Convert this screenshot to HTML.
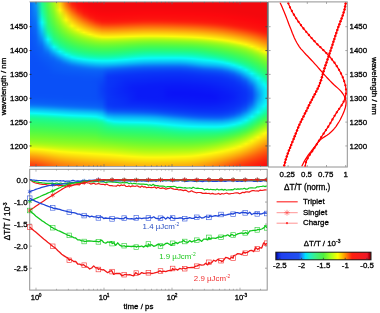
<!DOCTYPE html>
<html><head><meta charset="utf-8"><title>figure</title>
<style>
html,body{margin:0;padding:0;background:#fff}
body{width:380px;height:313px;position:relative;overflow:hidden;font-family:"Liberation Sans",sans-serif}
#hm{position:absolute;left:30px;top:2px;width:237px;height:164px}
#hm i{display:block;height:1px;width:237px}
#cb{position:absolute;left:276px;top:252px;width:95px;height:8px;background:linear-gradient(90deg,#000090 0%,#1030e0 3%,#2040f0 6%,#2050f0 24%,#10a0ff 28%,#00e0ff 31%,#20f0c0 36%,#40f080 42%,#50f040 50%,#a0ff20 57%,#ffff00 65%,#ff9000 73%,#ff2010 80%,#f01828 96%,#b00010 98%,#800000 100%)}
svg{position:absolute;left:0;top:0}
text{font-family:"Liberation Sans",sans-serif}
</style></head><body>
<div id="hm"><i style="background:linear-gradient(90deg,#0a64f7 0px,#0a9cf7 6px,#1cfa91 12px,#52fa46 18px,#a0fa1b 24px,#fcd60d 30px,#fc6b0d 36px,#fc1e0d 42px,#fc0c0d 48px,#f7080d 54px,#f3080d 60px,#f3080d 66px,#f3080d 72px,#f3080d 78px,#f3080d 84px,#f3080d 90px,#f3080d 96px,#f3080d 102px,#f3080d 108px,#f3080d 114px,#f3080d 120px,#f3080d 126px,#f3080d 132px,#f3080d 138px,#f3080d 144px,#f3080d 150px,#f3080d 156px,#f3080d 162px,#f3080d 168px,#f3080d 174px,#f3080d 180px,#f3080d 186px,#f3080d 192px,#f3080d 198px,#f3080d 204px,#f3080d 210px,#f3080d 216px,#f3080d 222px,#f3080d 228px,#f3080d 234px,#f3080d 236px)"></i><i style="background:linear-gradient(90deg,#0a64f7 0px,#0a9af7 6px,#1cfa92 12px,#52fa46 18px,#9ffa1c 24px,#fcd80d 30px,#fc6f0d 36px,#fc210d 42px,#fc0d0d 48px,#f8080d 54px,#f3080d 60px,#f3080d 66px,#f3080d 72px,#f3080d 78px,#f3080d 84px,#f3080d 90px,#f3080d 96px,#f3080d 102px,#f3080d 108px,#f3080d 114px,#f3080d 120px,#f3080d 126px,#f3080d 132px,#f3080d 138px,#f3080d 144px,#f3080d 150px,#f3080d 156px,#f3080d 162px,#f3080d 168px,#f3080d 174px,#f3080d 180px,#f3080d 186px,#f3080d 192px,#f3080d 198px,#f3080d 204px,#f3080d 210px,#f3080d 216px,#f3080d 222px,#f3080d 228px,#f3080d 234px,#f3080d 236px)"></i><i style="background:linear-gradient(90deg,#0a64f7 0px,#0a98f7 6px,#1bfa93 12px,#51fa47 18px,#9dfa1c 24px,#fcdb0d 30px,#fc740d 36px,#fc250d 42px,#fc0e0d 48px,#fa080d 54px,#f4080d 60px,#f3080d 66px,#f3080d 72px,#f3080d 78px,#f3080d 84px,#f3080d 90px,#f3080d 96px,#f3080d 102px,#f3080d 108px,#f3080d 114px,#f3080d 120px,#f3080d 126px,#f3080d 132px,#f3080d 138px,#f3080d 144px,#f3080d 150px,#f3080d 156px,#f3080d 162px,#f3080d 168px,#f3080d 174px,#f3080d 180px,#f3080d 186px,#f3080d 192px,#f3080d 198px,#f3080d 204px,#f3080d 210px,#f3080d 216px,#f3080d 222px,#f3080d 228px,#f3080d 234px,#f3080d 236px)"></i><i style="background:linear-gradient(90deg,#0a64f7 0px,#0a96f7 6px,#1bfa95 12px,#50fa47 18px,#9bfa1d 24px,#fcdf0d 30px,#fc7a0d 36px,#fc2b0d 42px,#fc100d 48px,#fb080d 54px,#f5080d 60px,#f3080d 66px,#f3080d 72px,#f3080d 78px,#f3080d 84px,#f3080d 90px,#f3080d 96px,#f3080d 102px,#f3080d 108px,#f3080d 114px,#f3080d 120px,#f3080d 126px,#f3080d 132px,#f3080d 138px,#f3080d 144px,#f3080d 150px,#f3080d 156px,#f3080d 162px,#f3080d 168px,#f3080d 174px,#f3080d 180px,#f3080d 186px,#f3080d 192px,#f3080d 198px,#f3080d 204px,#f3080d 210px,#f3080d 216px,#f3080d 222px,#f3080d 228px,#f3080d 234px,#f3080d 236px)"></i><i style="background:linear-gradient(90deg,#0a64f7 0px,#0a94f7 6px,#1afa97 12px,#4ffa49 18px,#99fa1e 24px,#fce50d 30px,#fc820d 36px,#fc330d 42px,#fc120d 48px,#fc080d 54px,#f6080d 60px,#f3080d 66px,#f3080d 72px,#f3080d 78px,#f3080d 84px,#f3080d 90px,#f3080d 96px,#f3080d 102px,#f3080d 108px,#f3080d 114px,#f3080d 120px,#f3080d 126px,#f3080d 132px,#f3080d 138px,#f3080d 144px,#f3080d 150px,#f3080d 156px,#f3080d 162px,#f3080d 168px,#f3080d 174px,#f3080d 180px,#f3080d 186px,#f3080d 192px,#f3080d 198px,#f3080d 204px,#f3080d 210px,#f3080d 216px,#f3080d 222px,#f3080d 228px,#f3080d 234px,#f3080d 236px)"></i><i style="background:linear-gradient(90deg,#0a64f7 0px,#0a91f7 6px,#19fa99 12px,#4dfa4a 18px,#95fa1f 24px,#fcea0d 30px,#fc8b0d 36px,#fc3c0d 42px,#fc150d 48px,#fc0a0d 54px,#f7080d 60px,#f4080d 66px,#f3080d 72px,#f3080d 78px,#f3080d 84px,#f3080d 90px,#f3080d 96px,#f4080d 102px,#f4080d 108px,#f4080d 114px,#f4080d 120px,#f4080d 126px,#f4080d 132px,#f4080d 138px,#f4080d 144px,#f4080d 150px,#f4080d 156px,#f4080d 162px,#f3080d 168px,#f3080d 174px,#f3080d 180px,#f3080d 186px,#f3080d 192px,#f3080d 198px,#f3080d 204px,#f3080d 210px,#f3080d 216px,#f3080d 222px,#f3080d 228px,#f3080d 234px,#f3080d 236px)"></i><i style="background:linear-gradient(90deg,#0a64f7 0px,#0a8ff7 6px,#18fa9d 12px,#4cfa4b 18px,#92fa20 24px,#fcf00d 30px,#fc950d 36px,#fc470d 42px,#fc190d 48px,#fc0c0d 54px,#f9080d 60px,#f5080d 66px,#f4080d 72px,#f4080d 78px,#f4080d 84px,#f4080d 90px,#f4080d 96px,#f5080d 102px,#f5080d 108px,#f5080d 114px,#f5080d 120px,#f5080d 126px,#f5080d 132px,#f5080d 138px,#f5080d 144px,#f5080d 150px,#f4080d 156px,#f4080d 162px,#f4080d 168px,#f4080d 174px,#f4080d 180px,#f3080d 186px,#f3080d 192px,#f3080d 198px,#f3080d 204px,#f3080d 210px,#f3080d 216px,#f3080d 222px,#f3080d 228px,#f3080d 234px,#f3080d 236px)"></i><i style="background:linear-gradient(90deg,#0a64f7 0px,#0a8df7 6px,#17faa0 12px,#4afa4d 18px,#8efa22 24px,#fcf70d 30px,#fc9f0d 36px,#fc520d 42px,#fc1f0d 48px,#fc0e0d 54px,#fb080d 60px,#f6080d 66px,#f5080d 72px,#f4080d 78px,#f4080d 84px,#f5080d 90px,#f5080d 96px,#f6080d 102px,#f6080d 108px,#f6080d 114px,#f7080d 120px,#f7080d 126px,#f7080d 132px,#f6080d 138px,#f6080d 144px,#f6080d 150px,#f6080d 156px,#f5080d 162px,#f5080d 168px,#f5080d 174px,#f4080d 180px,#f4080d 186px,#f4080d 192px,#f3080d 198px,#f3080d 204px,#f3080d 210px,#f3080d 216px,#f3080d 222px,#f3080d 228px,#f3080d 234px,#f3080d 236px)"></i><i style="background:linear-gradient(90deg,#0a64f7 0px,#0a8bf7 6px,#15faa4 12px,#48fa4f 18px,#8afa23 24px,#f7fa0d 30px,#fca90d 36px,#fc5d0d 42px,#fc260d 48px,#fc100d 54px,#fc080d 60px,#f8080d 66px,#f6080d 72px,#f5080d 78px,#f6080d 84px,#f6080d 90px,#f7080d 96px,#f7080d 102px,#f8080d 108px,#f8080d 114px,#f8080d 120px,#f8080d 126px,#f8080d 132px,#f8080d 138px,#f8080d 144px,#f7080d 150px,#f7080d 156px,#f7080d 162px,#f6080d 168px,#f6080d 174px,#f6080d 180px,#f5080d 186px,#f5080d 192px,#f4080d 198px,#f3080d 204px,#f3080d 210px,#f3080d 216px,#f3080d 222px,#f3080d 228px,#f3080d 234px,#f3080d 236px)"></i><i style="background:linear-gradient(90deg,#0a63f7 0px,#0a89f7 6px,#14faa9 12px,#46fa51 18px,#86fa25 24px,#ecfa0d 30px,#fcb30d 36px,#fc690d 42px,#fc2e0d 48px,#fc130d 54px,#fc0a0d 60px,#fa080d 66px,#f7080d 72px,#f7080d 78px,#f7080d 84px,#f8080d 90px,#f8080d 96px,#f9080d 102px,#f9080d 108px,#fa080d 114px,#fa080d 120px,#fa080d 126px,#fa080d 132px,#fa080d 138px,#f9080d 144px,#f9080d 150px,#f9080d 156px,#f8080d 162px,#f8080d 168px,#f7080d 174px,#f7080d 180px,#f6080d 186px,#f6080d 192px,#f5080d 198px,#f4080d 204px,#f3080d 210px,#f3080d 216px,#f3080d 222px,#f3080d 228px,#f3080d 234px,#f3080d 236px)"></i><i style="background:linear-gradient(90deg,#0a63f7 0px,#0a87f7 6px,#13faae 12px,#44fa52 18px,#82fa27 24px,#e1fa0e 30px,#fcbd0d 36px,#fc740d 42px,#fc380d 48px,#fc170d 54px,#fc0c0d 60px,#fc080d 66px,#f9080d 72px,#f9080d 78px,#f9080d 84px,#f9080d 90px,#fa080d 96px,#fb080d 102px,#fb080d 108px,#fc080d 114px,#fc080d 120px,#fc080d 126px,#fc080d 132px,#fb080d 138px,#fb080d 144px,#fb080d 150px,#fa080d 156px,#fa080d 162px,#fa080d 168px,#f9080d 174px,#f9080d 180px,#f8080d 186px,#f7080d 192px,#f6080d 198px,#f5080d 204px,#f4080d 210px,#f3080d 216px,#f3080d 222px,#f3080d 228px,#f3080d 234px,#f3080d 236px)"></i><i style="background:linear-gradient(90deg,#0a63f7 0px,#0a85f7 6px,#12fab3 12px,#43fa54 18px,#7efa29 24px,#d7fa0f 30px,#fcc60d 36px,#fc7f0d 42px,#fc430d 48px,#fc1c0d 54px,#fc0f0d 60px,#fc090d 66px,#fb080d 72px,#fa080d 78px,#fb080d 84px,#fb080d 90px,#fc080d 96px,#fc080d 102px,#fc080d 108px,#fc090d 114px,#fc090d 120px,#fc090d 126px,#fc090d 132px,#fc080d 138px,#fc080d 144px,#fc080d 150px,#fc080d 156px,#fc080d 162px,#fb080d 168px,#fb080d 174px,#fa080d 180px,#fa080d 186px,#f9080d 192px,#f7080d 198px,#f6080d 204px,#f5080d 210px,#f4080d 216px,#f3080d 222px,#f3080d 228px,#f3080d 234px,#f3080d 236px)"></i><i style="background:linear-gradient(90deg,#0a62f7 0px,#0a84f7 6px,#10fab9 12px,#41fa57 18px,#7afa2b 24px,#cefa10 30px,#fccf0d 36px,#fc8a0d 42px,#fc4f0d 48px,#fc230d 54px,#fc110d 60px,#fc0b0d 66px,#fc080d 72px,#fc080d 78px,#fc080d 84px,#fc080d 90px,#fc090d 96px,#fc090d 102px,#fc0a0d 108px,#fc0a0d 114px,#fc0b0d 120px,#fc0a0d 126px,#fc0a0d 132px,#fc0a0d 138px,#fc0a0d 144px,#fc0a0d 150px,#fc090d 156px,#fc090d 162px,#fc080d 168px,#fc080d 174px,#fc080d 180px,#fb080d 186px,#fa080d 192px,#f9080d 198px,#f8080d 204px,#f6080d 210px,#f5080d 216px,#f4080d 222px,#f3080d 228px,#f3080d 234px,#f3080d 236px)"></i><i style="background:linear-gradient(90deg,#0a62f7 0px,#0a82f7 6px,#0ffabf 12px,#3ffa59 18px,#76fa2d 24px,#c6fa12 30px,#fcd80d 36px,#fc950d 42px,#fc5b0d 48px,#fc2c0d 54px,#fc150d 60px,#fc0d0d 66px,#fc0a0d 72px,#fc090d 78px,#fc0a0d 84px,#fc0a0d 90px,#fc0b0d 96px,#fc0b0d 102px,#fc0c0d 108px,#fc0c0d 114px,#fc0c0d 120px,#fc0c0d 126px,#fc0c0d 132px,#fc0c0d 138px,#fc0c0d 144px,#fc0b0d 150px,#fc0b0d 156px,#fc0b0d 162px,#fc0a0d 168px,#fc0a0d 174px,#fc090d 180px,#fc080d 186px,#fc080d 192px,#fb080d 198px,#f9080d 204px,#f8080d 210px,#f6080d 216px,#f5080d 222px,#f4080d 228px,#f3080d 234px,#f3080d 236px)"></i><i style="background:linear-gradient(90deg,#0a61f7 0px,#0a80f7 6px,#0efac6 12px,#3dfa5b 18px,#73fa2f 24px,#befa13 30px,#fce00d 36px,#fca00d 42px,#fc670d 48px,#fc360d 54px,#fc1a0d 60px,#fc0f0d 66px,#fc0c0d 72px,#fc0b0d 78px,#fc0b0d 84px,#fc0c0d 90px,#fc0d0d 96px,#fc0d0d 102px,#fc0e0d 108px,#fc0e0d 114px,#fc0e0d 120px,#fc0e0d 126px,#fc0e0d 132px,#fc0e0d 138px,#fc0d0d 144px,#fc0d0d 150px,#fc0d0d 156px,#fc0c0d 162px,#fc0c0d 168px,#fc0b0d 174px,#fc0b0d 180px,#fc0a0d 186px,#fc090d 192px,#fc080d 198px,#fb080d 204px,#f9080d 210px,#f8080d 216px,#f6080d 222px,#f4080d 228px,#f3080d 234px,#f3080d 236px)"></i><i style="background:linear-gradient(90deg,#0a60f7 0px,#0a7ef7 6px,#0dfacd 12px,#3afa5e 18px,#6ffa31 24px,#b7fa15 30px,#fce80d 36px,#fcaa0d 42px,#fc730d 48px,#fc420d 54px,#fc200d 60px,#fc120d 66px,#fc0e0d 72px,#fc0d0d 78px,#fc0d0d 84px,#fc0e0d 90px,#fc0e0d 96px,#fc0f0d 102px,#fc100d 108px,#fc100d 114px,#fc100d 120px,#fc100d 126px,#fc100d 132px,#fc100d 138px,#fc0f0d 144px,#fc0f0d 150px,#fc0f0d 156px,#fc0e0d 162px,#fc0e0d 168px,#fc0d0d 174px,#fc0c0d 180px,#fc0c0d 186px,#fc0b0d 192px,#fc090d 198px,#fc080d 204px,#fb080d 210px,#f9080d 216px,#f7080d 222px,#f6080d 228px,#f4080d 234px,#f4080d 236px)"></i><i style="background:linear-gradient(90deg,#0a60f7 0px,#0a7cf7 6px,#0cfad5 12px,#38fa60 18px,#6bfa33 24px,#affa17 30px,#fcef0d 36px,#fcb40d 42px,#fc7f0d 48px,#fc4e0d 54px,#fc290d 60px,#fc150d 66px,#fc100d 72px,#fc0f0d 78px,#fc0f0d 84px,#fc100d 90px,#fc110d 96px,#fc110d 102px,#fc120d 108px,#fc130d 114px,#fc130d 120px,#fc130d 126px,#fc130d 132px,#fc120d 138px,#fc120d 144px,#fc110d 150px,#fc110d 156px,#fc100d 162px,#fc100d 168px,#fc0f0d 174px,#fc0e0d 180px,#fc0d0d 186px,#fc0c0d 192px,#fc0b0d 198px,#fc090d 204px,#fc080d 210px,#fb080d 216px,#f9080d 222px,#f7080d 228px,#f5080d 234px,#f5080d 236px)"></i><i style="background:linear-gradient(90deg,#0a5ff7 0px,#0a7af7 6px,#0bfadd 12px,#36fa63 18px,#67fa36 24px,#a8fa19 30px,#fcf60d 36px,#fcbe0d 42px,#fc8b0d 48px,#fc5b0d 54px,#fc340d 60px,#fc1b0d 66px,#fc120d 72px,#fc110d 78px,#fc120d 84px,#fc130d 90px,#fc140d 96px,#fc150d 102px,#fc160d 108px,#fc170d 114px,#fc170d 120px,#fc170d 126px,#fc170d 132px,#fc160d 138px,#fc150d 144px,#fc140d 150px,#fc140d 156px,#fc130d 162px,#fc120d 168px,#fc110d 174px,#fc100d 180px,#fc0f0d 186px,#fc0e0d 192px,#fc0d0d 198px,#fc0b0d 204px,#fc090d 210px,#fc080d 216px,#fb080d 222px,#f8080d 228px,#f6080d 234px,#f6080d 236px)"></i><i style="background:linear-gradient(90deg,#0a5ef7 0px,#0a78f7 6px,#0bfae5 12px,#34fa66 18px,#64fa38 24px,#a1fa1b 30px,#f6fa0d 36px,#fcc80d 42px,#fc970d 48px,#fc680d 54px,#fc400d 60px,#fc220d 66px,#fc160d 72px,#fc150d 78px,#fc160d 84px,#fc170d 90px,#fc180d 96px,#fc1a0d 102px,#fc1b0d 108px,#fc1d0d 114px,#fc1d0d 120px,#fc1d0d 126px,#fc1c0d 132px,#fc1b0d 138px,#fc1a0d 144px,#fc190d 150px,#fc180d 156px,#fc170d 162px,#fc150d 168px,#fc140d 174px,#fc130d 180px,#fc110d 186px,#fc100d 192px,#fc0e0d 198px,#fc0d0d 204px,#fc0b0d 210px,#fc090d 216px,#fc080d 222px,#fa080d 228px,#f8080d 234px,#f7080d 236px)"></i><i style="background:linear-gradient(90deg,#0a5df7 0px,#0a76f7 6px,#0afaee 12px,#32fa68 18px,#60fa3b 24px,#9bfa1d 30px,#e9fa0e 36px,#fcd20d 42px,#fca20d 48px,#fc750d 54px,#fc4d0d 60px,#fc2c0d 66px,#fc1c0d 72px,#fc1a0d 78px,#fc1b0d 84px,#fc1d0d 90px,#fc1f0d 96px,#fc210d 102px,#fc230d 108px,#fc250d 114px,#fc260d 120px,#fc250d 126px,#fc250d 132px,#fc230d 138px,#fc210d 144px,#fc200d 150px,#fc1e0d 156px,#fc1d0d 162px,#fc1b0d 168px,#fc190d 174px,#fc170d 180px,#fc140d 186px,#fc120d 192px,#fc100d 198px,#fc0f0d 204px,#fc0d0d 210px,#fc0b0d 216px,#fc090d 222px,#fc080d 228px,#f9080d 234px,#f9080d 236px)"></i><i style="background:linear-gradient(90deg,#0a5df7 0px,#0a74f7 6px,#0af9f7 12px,#30fa6c 18px,#5cfa3e 24px,#94fa1f 30px,#ddfa0f 36px,#fcdb0d 42px,#fcad0d 48px,#fc820d 54px,#fc5b0d 60px,#fc380d 66px,#fc240d 72px,#fc220d 78px,#fc230d 84px,#fc250d 90px,#fc280d 96px,#fc2b0d 102px,#fc2e0d 108px,#fc300d 114px,#fc310d 120px,#fc310d 126px,#fc2f0d 132px,#fc2e0d 138px,#fc2c0d 144px,#fc290d 150px,#fc270d 156px,#fc250d 162px,#fc220d 168px,#fc1f0d 174px,#fc1c0d 180px,#fc190d 186px,#fc160d 192px,#fc130d 198px,#fc110d 204px,#fc0f0d 210px,#fc0d0d 216px,#fc0b0d 222px,#fc080d 228px,#fb080d 234px,#fa080d 236px)"></i><i style="background:linear-gradient(90deg,#0a5cf7 0px,#0a73f7 6px,#0af4f7 12px,#2efa6f 18px,#59fa40 24px,#8efa22 30px,#d2fa10 36px,#fce40d 42px,#fcb80d 48px,#fc8f0d 54px,#fc680d 60px,#fc450d 66px,#fc2f0d 72px,#fc2c0d 78px,#fc2e0d 84px,#fc310d 90px,#fc340d 96px,#fc380d 102px,#fc3b0d 108px,#fc3d0d 114px,#fc3e0d 120px,#fc3e0d 126px,#fc3c0d 132px,#fc3a0d 138px,#fc380d 144px,#fc350d 150px,#fc330d 156px,#fc300d 162px,#fc2c0d 168px,#fc280d 174px,#fc240d 180px,#fc200d 186px,#fc1b0d 192px,#fc170d 198px,#fc130d 204px,#fc100d 210px,#fc0e0d 216px,#fc0c0d 222px,#fc0a0d 228px,#fc080d 234px,#fc080d 236px)"></i><i style="background:linear-gradient(90deg,#0a5bf7 0px,#0a71f7 6px,#0aeef7 12px,#2cfa72 18px,#55fa43 24px,#88fa25 30px,#c7fa12 36px,#fced0d 42px,#fcc30d 48px,#fc9c0d 54px,#fc760d 60px,#fc540d 66px,#fc3c0d 72px,#fc390d 78px,#fc3b0d 84px,#fc3e0d 90px,#fc420d 96px,#fc460d 102px,#fc490d 108px,#fc4c0d 114px,#fc4c0d 120px,#fc4c0d 126px,#fc4b0d 132px,#fc490d 138px,#fc460d 144px,#fc430d 150px,#fc400d 156px,#fc3d0d 162px,#fc390d 168px,#fc340d 174px,#fc2f0d 180px,#fc290d 186px,#fc220d 192px,#fc1c0d 198px,#fc170d 204px,#fc130d 210px,#fc100d 216px,#fc0e0d 222px,#fc0c0d 228px,#fc090d 234px,#fc090d 236px)"></i><i style="background:linear-gradient(90deg,#0a5af7 0px,#0a6ff7 6px,#0ae7f7 12px,#2afa76 18px,#51fa47 24px,#81fa27 30px,#bdfa14 36px,#fcf60d 42px,#fcce0d 48px,#fca80d 54px,#fc840d 60px,#fc630d 66px,#fc4b0d 72px,#fc470d 78px,#fc4a0d 84px,#fc4d0d 90px,#fc510d 96px,#fc550d 102px,#fc580d 108px,#fc5b0d 114px,#fc5c0d 120px,#fc5b0d 126px,#fc5a0d 132px,#fc580d 138px,#fc550d 144px,#fc520d 150px,#fc4f0d 156px,#fc4b0d 162px,#fc470d 168px,#fc410d 174px,#fc3b0d 180px,#fc340d 186px,#fc2c0d 192px,#fc240d 198px,#fc1c0d 204px,#fc160d 210px,#fc130d 216px,#fc100d 222px,#fc0d0d 228px,#fc0b0d 234px,#fc0a0d 236px)"></i><i style="background:linear-gradient(90deg,#0a59f7 0px,#0a6df7 6px,#0ae1f7 12px,#27fa7a 18px,#4dfa4a 24px,#7bfa2a 30px,#b3fa16 36px,#f5fa0d 42px,#fcd80d 48px,#fcb40d 54px,#fc920d 60px,#fc720d 66px,#fc5b0d 72px,#fc570d 78px,#fc590d 84px,#fc5c0d 90px,#fc600d 96px,#fc640d 102px,#fc680d 108px,#fc6a0d 114px,#fc6b0d 120px,#fc6a0d 126px,#fc690d 132px,#fc670d 138px,#fc640d 144px,#fc610d 150px,#fc5e0d 156px,#fc5a0d 162px,#fc560d 168px,#fc500d 174px,#fc490d 180px,#fc410d 186px,#fc380d 192px,#fc2e0d 198px,#fc240d 204px,#fc1c0d 210px,#fc160d 216px,#fc120d 222px,#fc0f0d 228px,#fc0d0d 234px,#fc0c0d 236px)"></i><i style="background:linear-gradient(90deg,#0a57f7 0px,#0a6cf7 6px,#0adbf7 12px,#25fa7f 18px,#49fa4e 24px,#76fa2d 30px,#a9fa19 36px,#e5fa0e 42px,#fce30d 48px,#fcc00d 54px,#fca00d 60px,#fc810d 66px,#fc6a0d 72px,#fc670d 78px,#fc690d 84px,#fc6c0d 90px,#fc700d 96px,#fc740d 102px,#fc770d 108px,#fc790d 114px,#fc7a0d 120px,#fc7a0d 126px,#fc780d 132px,#fc760d 138px,#fc740d 144px,#fc710d 150px,#fc6d0d 156px,#fc6a0d 162px,#fc650d 168px,#fc5e0d 174px,#fc570d 180px,#fc4f0d 186px,#fc450d 192px,#fc3a0d 198px,#fc2e0d 204px,#fc230d 210px,#fc1b0d 216px,#fc150d 222px,#fc110d 228px,#fc0e0d 234px,#fc0d0d 236px)"></i><i style="background:linear-gradient(90deg,#0a56f7 0px,#0a6af7 6px,#0ad4f7 12px,#22fa84 18px,#45fa51 24px,#70fa31 30px,#a0fa1b 36px,#d7fa0f 42px,#fced0d 48px,#fccc0d 54px,#fcae0d 60px,#fc900d 66px,#fc7a0d 72px,#fc760d 78px,#fc780d 84px,#fc7c0d 90px,#fc7f0d 96px,#fc830d 102px,#fc860d 108px,#fc890d 114px,#fc890d 120px,#fc890d 126px,#fc880d 132px,#fc860d 138px,#fc830d 144px,#fc800d 150px,#fc7d0d 156px,#fc790d 162px,#fc740d 168px,#fc6d0d 174px,#fc660d 180px,#fc5e0d 186px,#fc530d 192px,#fc470d 198px,#fc3a0d 204px,#fc2d0d 210px,#fc220d 216px,#fc1a0d 222px,#fc140d 228px,#fc100d 234px,#fc0f0d 236px)"></i><i style="background:linear-gradient(90deg,#0a55f7 0px,#0a69f7 6px,#0acef7 12px,#20fa89 18px,#42fa55 24px,#6afa34 30px,#97fa1e 36px,#cafa11 42px,#fcf70d 48px,#fcd80d 54px,#fcbb0d 60px,#fc9f0d 66px,#fc8a0d 72px,#fc860d 78px,#fc880d 84px,#fc8b0d 90px,#fc8f0d 96px,#fc920d 102px,#fc960d 108px,#fc980d 114px,#fc990d 120px,#fc980d 126px,#fc970d 132px,#fc950d 138px,#fc920d 144px,#fc8f0d 150px,#fc8c0d 156px,#fc880d 162px,#fc830d 168px,#fc7c0d 174px,#fc750d 180px,#fc6c0d 186px,#fc620d 192px,#fc550d 198px,#fc470d 204px,#fc390d 210px,#fc2c0d 216px,#fc200d 222px,#fc180d 228px,#fc120d 234px,#fc110d 236px)"></i><i style="background:linear-gradient(90deg,#0a54f7 0px,#0a67f7 6px,#0ac7f7 12px,#1dfa8f 18px,#3efa59 24px,#64fa38 30px,#8ffa22 36px,#bdfa14 42px,#f0fa0d 48px,#fce40d 54px,#fcc80d 60px,#fcad0d 66px,#fc990d 72px,#fc960d 78px,#fc980d 84px,#fc9b0d 90px,#fc9e0d 96px,#fca20d 102px,#fca50d 108px,#fca70d 114px,#fca80d 120px,#fca70d 126px,#fca60d 132px,#fca40d 138px,#fca10d 144px,#fc9e0d 150px,#fc9b0d 156px,#fc970d 162px,#fc920d 168px,#fc8b0d 174px,#fc830d 180px,#fc7b0d 186px,#fc700d 192px,#fc640d 198px,#fc550d 204px,#fc460d 210px,#fc370d 216px,#fc290d 222px,#fc1d0d 228px,#fc150d 234px,#fc130d 236px)"></i><i style="background:linear-gradient(90deg,#0a54f7 0px,#0a66f7 6px,#0ac1f7 12px,#1afa97 18px,#3bfa5e 24px,#5ffa3c 30px,#87fa25 36px,#b1fa16 42px,#dffa0e 48px,#fcef0d 54px,#fcd50d 60px,#fcbb0d 66px,#fca80d 72px,#fca50d 78px,#fca70d 84px,#fcaa0d 90px,#fcad0d 96px,#fcb10d 102px,#fcb40d 108px,#fcb60d 114px,#fcb60d 120px,#fcb60d 126px,#fcb50d 132px,#fcb30d 138px,#fcb00d 144px,#fcad0d 150px,#fcaa0d 156px,#fca60d 162px,#fca10d 168px,#fc9a0d 174px,#fc920d 180px,#fc890d 186px,#fc7f0d 192px,#fc720d 198px,#fc640d 204px,#fc540d 210px,#fc440d 216px,#fc340d 222px,#fc250d 228px,#fc1a0d 234px,#fc170d 236px)"></i><i style="background:linear-gradient(90deg,#0a53f7 0px,#0a65f7 6px,#0abbf7 12px,#17fa9f 18px,#37fa62 24px,#59fa40 30px,#7ffa29 36px,#a6fa1a 42px,#cffa10 48px,#fcfa0d 54px,#fce20d 60px,#fcc90d 66px,#fcb80d 72px,#fcb50d 78px,#fcb60d 84px,#fcb90d 90px,#fcbc0d 96px,#fcc00d 102px,#fcc20d 108px,#fcc40d 114px,#fcc50d 120px,#fcc50d 126px,#fcc30d 132px,#fcc20d 138px,#fcbf0d 144px,#fcbc0d 150px,#fcb90d 156px,#fcb50d 162px,#fcb00d 168px,#fca90d 174px,#fca10d 180px,#fc980d 186px,#fc8d0d 192px,#fc800d 198px,#fc720d 204px,#fc620d 210px,#fc520d 216px,#fc400d 222px,#fc2f0d 228px,#fc200d 234px,#fc1c0d 236px)"></i><i style="background:linear-gradient(90deg,#0a53f7 0px,#0a64f7 6px,#0ab4f7 12px,#14faa8 18px,#33fa67 24px,#54fa44 30px,#77fa2d 36px,#9bfa1d 42px,#c0fa13 48px,#e8fa0e 54px,#fcee0d 60px,#fcd70d 66px,#fcc60d 72px,#fcc40d 78px,#fcc60d 84px,#fcc80d 90px,#fccb0d 96px,#fcce0d 102px,#fcd10d 108px,#fcd30d 114px,#fcd40d 120px,#fcd30d 126px,#fcd20d 132px,#fcd00d 138px,#fcce0d 144px,#fccb0d 150px,#fcc80d 156px,#fcc40d 162px,#fcbf0d 168px,#fcb80d 174px,#fcb00d 180px,#fca60d 186px,#fc9c0d 192px,#fc8f0d 198px,#fc800d 204px,#fc700d 210px,#fc5f0d 216px,#fc4d0d 222px,#fc3a0d 228px,#fc280d 234px,#fc230d 236px)"></i><i style="background:linear-gradient(90deg,#0a52f7 0px,#0a62f7 6px,#0aaef7 12px,#12fab2 18px,#30fa6c 24px,#4efa49 30px,#6ffa31 36px,#90fa21 42px,#b2fa16 48px,#d6fa0f 54px,#fcfa0d 60px,#fce50d 66px,#fcd50d 72px,#fcd30d 78px,#fcd50d 84px,#fcd70d 90px,#fcda0d 96px,#fcdd0d 102px,#fce00d 108px,#fce20d 114px,#fce20d 120px,#fce20d 126px,#fce10d 132px,#fcdf0d 138px,#fcdc0d 144px,#fcd90d 150px,#fcd60d 156px,#fcd20d 162px,#fccd0d 168px,#fcc60d 174px,#fcbe0d 180px,#fcb50d 186px,#fcaa0d 192px,#fc9d0d 198px,#fc8e0d 204px,#fc7e0d 210px,#fc6d0d 216px,#fc5a0d 222px,#fc460d 228px,#fc320d 234px,#fc2c0d 236px)"></i><i style="background:linear-gradient(90deg,#0a52f7 0px,#0a61f7 6px,#0aa8f7 12px,#0ffabe 18px,#2cfa71 24px,#49fa4e 30px,#68fa35 36px,#87fa25 42px,#a5fa1a 48px,#c5fa12 54px,#e6fa0e 60px,#fcf20d 66px,#fce40d 72px,#fce20d 78px,#fce30d 84px,#fce60d 90px,#fce90d 96px,#fcec0d 102px,#fcee0d 108px,#fcf00d 114px,#fcf10d 120px,#fcf00d 126px,#fcef0d 132px,#fced0d 138px,#fceb0d 144px,#fce80d 150px,#fce50d 156px,#fce10d 162px,#fcdc0d 168px,#fcd50d 174px,#fccd0d 180px,#fcc40d 186px,#fcb90d 192px,#fcac0d 198px,#fc9d0d 204px,#fc8c0d 210px,#fc7b0d 216px,#fc680d 222px,#fc520d 228px,#fc3d0d 234px,#fc360d 236px)"></i><i style="background:linear-gradient(90deg,#0a52f7 0px,#0a60f7 6px,#0aa1f7 12px,#0dfacb 18px,#29fa77 24px,#44fa53 30px,#61fa3a 36px,#7dfa29 42px,#99fa1e 48px,#b5fa15 54px,#d2fa10 60px,#f3fa0d 66px,#fcf20d 72px,#fcf00d 78px,#fcf20d 84px,#fcf40d 90px,#fcf70d 96px,#fcfa0d 102px,#f7fa0d 108px,#f3fa0d 114px,#f2fa0d 120px,#f3fa0d 126px,#f5fa0d 132px,#f9fa0d 138px,#fcf90d 144px,#fcf60d 150px,#fcf30d 156px,#fcf00d 162px,#fcea0d 168px,#fce40d 174px,#fcdb0d 180px,#fcd20d 186px,#fcc70d 192px,#fcba0d 198px,#fcab0d 204px,#fc9b0d 210px,#fc890d 216px,#fc750d 222px,#fc5f0d 228px,#fc480d 234px,#fc410d 236px)"></i><i style="background:linear-gradient(90deg,#0a52f7 0px,#0a5ff7 6px,#0a9bf7 12px,#0bfada 18px,#25fa7d 24px,#3ffa59 30px,#5afa3f 36px,#74fa2e 42px,#8efa22 48px,#a7fa19 54px,#c0fa13 60px,#dcfa0f 66px,#f2fa0d 72px,#f5fa0d 78px,#f2fa0d 84px,#edfa0d 90px,#e7fa0e 96px,#e1fa0e 102px,#dcfa0f 108px,#d9fa0f 114px,#d7fa0f 120px,#d8fa0f 126px,#dafa0f 132px,#ddfa0f 138px,#e2fa0e 144px,#e7fa0e 150px,#edfa0d 156px,#f4fa0d 162px,#fcf90d 168px,#fcf20d 174px,#fcea0d 180px,#fce10d 186px,#fcd60d 192px,#fcc90d 198px,#fcba0d 204px,#fca90d 210px,#fc970d 216px,#fc820d 222px,#fc6c0d 228px,#fc540d 234px,#fc4d0d 236px)"></i><i style="background:linear-gradient(90deg,#0a52f7 0px,#0a5ef7 6px,#0a95f7 12px,#0afae9 18px,#22fa84 24px,#3afa5e 30px,#53fa45 36px,#6cfa33 42px,#84fa26 48px,#99fa1e 54px,#affa17 60px,#c7fa12 66px,#d9fa0f 72px,#dbfa0f 78px,#d8fa0f 84px,#d4fa10 90px,#cefa10 96px,#c9fa11 102px,#c4fa12 108px,#c0fa13 114px,#bffa13 120px,#bffa13 126px,#c1fa13 132px,#c5fa12 138px,#c9fa11 144px,#cdfa11 150px,#d3fa10 156px,#d9fa0f 162px,#e3fa0e 168px,#effa0d 174px,#fcf80d 180px,#fcef0d 186px,#fce40d 192px,#fcd70d 198px,#fcc80d 204px,#fcb70d 210px,#fca40d 216px,#fc8f0d 222px,#fc780d 228px,#fc600d 234px,#fc580d 236px)"></i><i style="background:linear-gradient(90deg,#0a52f7 0px,#0a5ef7 6px,#0a8ff7 12px,#0af8f7 18px,#1efa8c 24px,#35fa64 30px,#4dfa4b 36px,#64fa38 42px,#7afa2b 48px,#8dfa22 54px,#a0fa1b 60px,#b4fa16 66px,#c3fa12 72px,#c5fa12 78px,#c2fa13 84px,#bdfa14 90px,#b8fa15 96px,#b3fa16 102px,#aefa17 108px,#abfa18 114px,#a9fa19 120px,#aafa18 126px,#acfa18 132px,#aefa17 138px,#b2fa16 144px,#b6fa15 150px,#bbfa14 156px,#c1fa13 162px,#c9fa11 168px,#d5fa10 174px,#e4fa0e 180px,#f5fa0d 186px,#fcf30d 192px,#fce60d 198px,#fcd70d 204px,#fcc50d 210px,#fcb20d 216px,#fc9c0d 222px,#fc850d 228px,#fc6c0d 234px,#fc640d 236px)"></i><i style="background:linear-gradient(90deg,#0a52f7 0px,#0a5df7 6px,#0a89f7 12px,#0aeef7 18px,#1bfa95 24px,#31fa6b 30px,#46fa51 36px,#5cfa3e 42px,#70fa30 48px,#82fa27 54px,#92fa20 60px,#a3fa1a 66px,#affa17 72px,#b0fa17 78px,#aefa17 84px,#aafa18 90px,#a5fa1a 96px,#a0fa1b 102px,#9bfa1d 108px,#98fa1e 114px,#96fa1f 120px,#97fa1e 126px,#98fa1e 132px,#9bfa1d 138px,#9efa1c 144px,#a1fa1b 150px,#a6fa1a 156px,#abfa18 162px,#b2fa16 168px,#bdfa14 174px,#cafa11 180px,#dafa0f 186px,#eefa0d 192px,#fcf40d 198px,#fce50d 204px,#fcd40d 210px,#fcc00d 216px,#fca90d 222px,#fc910d 228px,#fc780d 234px,#fc700d 236px)"></i><i style="background:linear-gradient(90deg,#0a52f7 0px,#0a5cf7 6px,#0a83f7 12px,#0ae3f7 18px,#17fa9f 24px,#2cfa72 30px,#40fa57 36px,#54fa44 42px,#67fa36 48px,#77fa2c 54px,#86fa25 60px,#94fa1f 66px,#9efa1c 72px,#9ffa1c 78px,#9cfa1d 84px,#98fa1e 90px,#94fa20 96px,#8ffa22 102px,#8afa23 108px,#87fa25 114px,#86fa25 120px,#86fa25 126px,#88fa25 132px,#8afa24 138px,#8cfa23 144px,#8ffa21 150px,#93fa20 156px,#97fa1e 162px,#9efa1c 168px,#a7fa19 174px,#b3fa16 180px,#c2fa13 186px,#d4fa10 192px,#ecfa0d 198px,#fcf30d 204px,#fce20d 210px,#fcce0d 216px,#fcb60d 222px,#fc9e0d 228px,#fc840d 234px,#fc7b0d 236px)"></i><i style="background:linear-gradient(90deg,#0a51f7 0px,#0a5cf7 6px,#0a7df7 12px,#0ad9f7 18px,#14faab 24px,#28fa79 30px,#3afa5e 36px,#4dfa4a 42px,#5ffa3c 48px,#6dfa32 54px,#7bfa2b 60px,#87fa25 66px,#8ffa22 72px,#8ffa21 78px,#8dfa22 84px,#89fa24 90px,#85fa26 96px,#80fa28 102px,#7cfa2a 108px,#79fa2c 114px,#77fa2c 120px,#78fa2c 126px,#79fa2c 132px,#7afa2b 138px,#7dfa2a 144px,#7ffa28 150px,#82fa27 156px,#86fa25 162px,#8cfa23 168px,#95fa1f 174px,#9ffa1b 180px,#acfa18 186px,#bdfa14 192px,#d2fa10 198px,#eefa0d 204px,#fcf00d 210px,#fcdc0d 216px,#fcc40d 222px,#fcaa0d 228px,#fc8f0d 234px,#fc870d 236px)"></i><i style="background:linear-gradient(90deg,#0a51f7 0px,#0a5bf7 6px,#0a78f7 12px,#0acef7 18px,#10fab9 24px,#24fa81 30px,#35fa65 36px,#46fa51 42px,#56fa42 48px,#64fa38 54px,#70fa30 60px,#7bfa2b 66px,#81fa27 72px,#82fa27 78px,#7ffa28 84px,#7cfa2a 90px,#77fa2c 96px,#73fa2f 102px,#6efa31 108px,#6bfa33 114px,#6afa34 120px,#6afa34 126px,#6bfa33 132px,#6dfa32 138px,#6ffa31 144px,#71fa30 150px,#74fa2e 156px,#77fa2d 162px,#7dfa2a 168px,#84fa26 174px,#8efa22 180px,#9afa1d 186px,#a8fa19 192px,#bbfa14 198px,#d5fa10 204px,#f5fa0d 210px,#fcea0d 216px,#fcd10d 222px,#fcb60d 228px,#fc9b0d 234px,#fc920d 236px)"></i><i style="background:linear-gradient(90deg,#0a51f7 0px,#0a5af7 6px,#0a73f7 12px,#0ac3f7 18px,#0efac8 24px,#1ffa8a 30px,#30fa6c 36px,#40fa58 42px,#4ffa49 48px,#5bfa3f 54px,#66fa37 60px,#70fa31 66px,#75fa2e 72px,#76fa2d 78px,#73fa2f 84px,#70fa31 90px,#6bfa33 96px,#66fa36 102px,#62fa39 108px,#5ffa3b 114px,#5efa3c 120px,#5efa3c 126px,#5ffa3c 132px,#60fa3b 138px,#62fa3a 144px,#64fa38 150px,#66fa36 156px,#69fa35 162px,#6ffa31 168px,#76fa2d 174px,#7ffa28 180px,#8afa24 186px,#96fa1f 192px,#a7fa19 198px,#befa13 204px,#dbfa0f 210px,#fcf70d 216px,#fcde0d 222px,#fcc30d 228px,#fca70d 234px,#fc9e0d 236px)"></i><i style="background:linear-gradient(90deg,#0a51f7 0px,#0a5af7 6px,#0a6ef7 12px,#0ab8f7 18px,#0bfada 24px,#1bfa94 30px,#2bfa74 36px,#39fa5f 42px,#47fa50 48px,#52fa45 54px,#5dfa3d 60px,#65fa37 66px,#6afa34 72px,#6afa34 78px,#68fa35 84px,#64fa38 90px,#60fa3b 96px,#5bfa3e 102px,#57fa42 108px,#54fa44 114px,#53fa45 120px,#53fa45 126px,#54fa44 132px,#55fa44 138px,#56fa42 144px,#58fa41 150px,#5afa3f 156px,#5dfa3d 162px,#62fa3a 168px,#69fa35 174px,#72fa30 180px,#7bfa2a 186px,#87fa25 192px,#96fa1f 198px,#aafa18 204px,#c4fa12 210px,#e8fa0e 216px,#fceb0d 222px,#fccf0d 228px,#fcb30d 234px,#fcaa0d 236px)"></i><i style="background:linear-gradient(90deg,#0a51f7 0px,#0a59f7 6px,#0a6af7 12px,#0aadf7 18px,#0afaed 24px,#17faa0 30px,#26fa7c 36px,#33fa67 42px,#40fa57 48px,#4afa4d 54px,#54fa44 60px,#5bfa3e 66px,#5ffa3b 72px,#60fa3b 78px,#5dfa3d 84px,#5afa3f 90px,#55fa43 96px,#51fa47 102px,#4cfa4b 108px,#49fa4e 114px,#48fa4f 120px,#48fa4f 126px,#49fa4e 132px,#4afa4d 138px,#4bfa4c 144px,#4dfa4a 150px,#4ffa49 156px,#51fa46 162px,#56fa43 168px,#5dfa3d 174px,#65fa37 180px,#6ffa31 186px,#7afa2b 192px,#87fa25 198px,#99fa1e 204px,#b0fa17 210px,#d0fa10 216px,#fcf80d 222px,#fcdb0d 228px,#fcbe0d 234px,#fcb50d 236px)"></i><i style="background:linear-gradient(90deg,#0a51f7 0px,#0a58f7 6px,#0a67f7 12px,#0aa3f7 18px,#0af4f7 24px,#13faad 30px,#21fa85 36px,#2efa6f 42px,#39fa5f 48px,#43fa54 54px,#4bfa4c 60px,#52fa46 66px,#56fa43 72px,#56fa43 78px,#53fa45 84px,#50fa48 90px,#4bfa4c 96px,#47fa50 102px,#43fa54 108px,#40fa58 114px,#3ffa59 120px,#3ffa59 126px,#3ffa58 132px,#40fa57 138px,#41fa56 144px,#43fa55 150px,#44fa53 156px,#46fa50 162px,#4bfa4c 168px,#52fa46 174px,#5afa3f 180px,#63fa39 186px,#6efa32 192px,#7afa2b 198px,#8afa24 204px,#9efa1c 210px,#bbfa14 216px,#e8fa0e 222px,#fce80d 228px,#fcca0d 234px,#fcc10d 236px)"></i><i style="background:linear-gradient(90deg,#0a51f7 0px,#0a58f7 6px,#0a64f7 12px,#0a99f7 18px,#0ae6f7 24px,#10fabd 30px,#1dfa90 36px,#29fa77 42px,#33fa67 48px,#3cfa5c 54px,#43fa54 60px,#49fa4e 66px,#4cfa4b 72px,#4cfa4b 78px,#4afa4d 84px,#47fa50 90px,#42fa55 96px,#3efa5a 102px,#3afa5f 108px,#37fa62 114px,#36fa64 120px,#36fa64 126px,#36fa63 132px,#37fa62 138px,#38fa61 144px,#39fa5f 150px,#3bfa5e 156px,#3dfa5b 162px,#41fa56 168px,#47fa50 174px,#4ffa48 180px,#58fa41 186px,#62fa39 192px,#6ffa31 198px,#7dfa29 204px,#8ffa21 210px,#a8fa19 216px,#d2fa10 222px,#fcf40d 228px,#fcd60d 234px,#fccd0d 236px)"></i><i style="background:linear-gradient(90deg,#0a51f7 0px,#0a57f7 6px,#0a62f7 12px,#0a8ff7 18px,#0ad9f7 24px,#0dface 30px,#18fa9c 36px,#24fa81 42px,#2dfa70 48px,#35fa65 54px,#3cfa5c 60px,#41fa56 66px,#44fa53 72px,#44fa53 78px,#42fa56 84px,#3efa59 90px,#3afa5f 96px,#35fa64 102px,#32fa69 108px,#2ffa6d 114px,#2efa6f 120px,#2efa6f 126px,#2efa6e 132px,#2ffa6e 138px,#30fa6c 144px,#31fa6b 150px,#32fa69 156px,#34fa67 162px,#38fa61 168px,#3efa5a 174px,#46fa51 180px,#4efa49 186px,#58fa41 192px,#64fa38 198px,#72fa30 204px,#82fa27 210px,#98fa1e 216px,#bdfa14 222px,#f1fa0d 228px,#fce20d 234px,#fcd80d 236px)"></i><i style="background:linear-gradient(90deg,#0a51f7 0px,#0a56f7 6px,#0a60f7 12px,#0a85f7 18px,#0acbf7 24px,#0bfae2 30px,#14faa9 36px,#1ffa8b 42px,#28fa79 48px,#2ffa6e 54px,#35fa65 60px,#39fa5f 66px,#3cfa5c 72px,#3cfa5c 78px,#39fa5f 84px,#36fa63 90px,#32fa69 96px,#2efa6f 102px,#2afa75 108px,#28fa79 114px,#26fa7b 120px,#27fa7b 126px,#27fa7b 132px,#27fa7a 138px,#28fa79 144px,#29fa77 150px,#2afa75 156px,#2bfa73 162px,#2ffa6d 168px,#35fa64 174px,#3dfa5b 180px,#45fa52 186px,#4efa49 192px,#5afa3f 198px,#67fa36 204px,#76fa2d 210px,#8bfa23 216px,#abfa18 222px,#dbfa0f 228px,#fced0d 234px,#fce30d 236px)"></i><i style="background:linear-gradient(90deg,#0a50f7 0px,#0a56f7 6px,#0a5ff7 12px,#0a7cf7 18px,#0abdf7 24px,#0af9f7 30px,#10fab8 36px,#1afa96 42px,#22fa83 48px,#29fa77 54px,#2efa6e 60px,#32fa69 66px,#34fa66 72px,#34fa66 78px,#32fa69 84px,#2ffa6e 90px,#2bfa74 96px,#27fa7b 102px,#23fa81 108px,#21fa86 114px,#20fa88 120px,#20fa88 126px,#20fa88 132px,#21fa87 138px,#21fa86 144px,#22fa84 150px,#23fa82 156px,#24fa80 162px,#28fa79 168px,#2dfa70 174px,#34fa65 180px,#3cfa5b 186px,#45fa52 192px,#50fa47 198px,#5dfa3d 204px,#6cfa33 210px,#7ffa29 216px,#9bfa1d 222px,#c7fa12 228px,#fcf80d 234px,#fcef0d 236px)"></i><i style="background:linear-gradient(90deg,#0a50f7 0px,#0a55f7 6px,#0a5ef7 12px,#0a74f7 18px,#0aaff7 24px,#0aebf7 30px,#0dfaca 36px,#16faa3 42px,#1dfa8e 48px,#23fa81 54px,#28fa78 60px,#2bfa73 66px,#2dfa70 72px,#2dfa70 78px,#2bfa73 84px,#28fa78 90px,#24fa7f 96px,#21fa87 102px,#1dfa8e 108px,#1bfa94 114px,#1afa96 120px,#1afa96 126px,#1afa96 132px,#1bfa95 138px,#1bfa94 144px,#1cfa93 150px,#1cfa91 156px,#1efa8d 162px,#21fa86 168px,#26fa7c 174px,#2dfa70 180px,#34fa66 186px,#3dfa5b 192px,#47fa50 198px,#54fa44 204px,#62fa39 210px,#74fa2e 216px,#8efa22 222px,#b4fa16 228px,#eafa0d 234px,#fcfa0d 236px)"></i><i style="background:linear-gradient(90deg,#0a50f7 0px,#0a54f7 6px,#0a5df7 12px,#0a6ef7 18px,#0aa1f7 24px,#0addf7 30px,#0bfadd 36px,#12fab2 42px,#18fa9b 48px,#1efa8d 54px,#22fa83 60px,#25fa7d 66px,#27fa7a 72px,#27fa7b 78px,#25fa7e 84px,#22fa84 90px,#1efa8c 96px,#1bfa94 102px,#18fa9c 108px,#16faa2 114px,#15faa5 120px,#15faa5 126px,#15faa5 132px,#15faa4 138px,#16faa3 144px,#16faa2 150px,#17faa0 156px,#18fa9c 162px,#1bfa94 168px,#20fa89 174px,#26fa7c 180px,#2dfa70 186px,#35fa64 192px,#3ffa58 198px,#4bfa4c 204px,#59fa40 210px,#6afa34 216px,#82fa27 222px,#a4fa1a 228px,#d6fa0f 234px,#e8fa0e 236px)"></i><i style="background:linear-gradient(90deg,#0a50f7 0px,#0a54f7 6px,#0a5cf7 12px,#0a68f7 18px,#0a94f7 24px,#0acdf7 30px,#0afaf3 36px,#0efac2 42px,#14faa9 48px,#19fa9a 54px,#1dfa90 60px,#1ffa89 66px,#21fa86 72px,#21fa87 78px,#1ffa8b 84px,#1cfa91 90px,#19fa9a 96px,#16faa3 102px,#13faac 108px,#12fab2 114px,#11fab5 120px,#11fab5 126px,#11fab5 132px,#11fab5 138px,#11fab4 144px,#12fab3 150px,#12fab0 156px,#13faab 162px,#16faa3 168px,#1afa97 174px,#20fa89 180px,#26fa7c 186px,#2efa6f 192px,#37fa61 198px,#43fa54 204px,#50fa48 210px,#61fa3a 216px,#77fa2c 222px,#96fa1f 228px,#c4fa12 234px,#d5fa10 236px)"></i><i style="background:linear-gradient(90deg,#0a50f7 0px,#0a53f7 6px,#0a5bf7 12px,#0a65f7 18px,#0a88f7 24px,#0abef7 30px,#0aeef7 36px,#0cfad5 42px,#10faba 48px,#14faa9 54px,#18fa9d 60px,#1afa97 66px,#1bfa93 72px,#1bfa94 78px,#19fa98 84px,#17faa0 90px,#14faa9 96px,#12fab3 102px,#10fabc 108px,#0efac2 114px,#0efac5 120px,#0efac6 126px,#0efac6 132px,#0efac6 138px,#0efac6 144px,#0efac5 150px,#0ffac1 156px,#10fabc 162px,#12fab2 168px,#15faa5 174px,#1afa97 180px,#20fa89 186px,#27fa7a 192px,#30fa6b 198px,#3bfa5d 204px,#48fa4f 210px,#58fa41 216px,#6efa32 222px,#8afa23 228px,#b3fa16 234px,#c4fa12 236px)"></i><i style="background:linear-gradient(90deg,#0a50f7 0px,#0a52f7 6px,#0a5af7 12px,#0a62f7 18px,#0a7df7 24px,#0aaef7 30px,#0adff7 36px,#0afaea 42px,#0dfacc 48px,#10faba 54px,#13faad 60px,#15faa6 66px,#16faa2 72px,#16faa3 78px,#14faa8 84px,#12fab0 90px,#10faba 96px,#0efac4 102px,#0dfacd 108px,#0cfad4 114px,#0cfad8 120px,#0cfad9 126px,#0bfad9 132px,#0bfada 138px,#0bfad9 144px,#0cfad8 150px,#0cfad4 156px,#0dfacd 162px,#0efac3 168px,#11fab5 174px,#15faa7 180px,#1afa98 186px,#21fa86 192px,#2afa76 198px,#34fa66 204px,#40fa57 210px,#50fa48 216px,#64fa38 222px,#7ffa28 228px,#a5fa1a 234px,#b4fa16 236px)"></i><i style="background:linear-gradient(90deg,#0a50f7 0px,#0a52f7 6px,#0a58f7 12px,#0a5ff7 18px,#0a73f7 24px,#0a9ff7 30px,#0acff7 36px,#0af3f7 42px,#0bfae1 48px,#0dfacd 54px,#0ffabf 60px,#11fab7 66px,#12fab3 72px,#11fab3 78px,#10fab9 84px,#0ffac2 90px,#0dfacc 96px,#0cfad7 102px,#0bfae1 108px,#0bfae8 114px,#0afaec 120px,#0afaed 126px,#0afaee 132px,#0afaef 138px,#0afaef 144px,#0afaee 150px,#0bfae9 156px,#0bfae0 162px,#0cfad5 168px,#0efac7 174px,#10fab8 180px,#14faa8 186px,#1bfa95 192px,#23fa81 198px,#2efa6f 204px,#39fa5f 210px,#48fa4f 216px,#5cfa3e 222px,#75fa2d 228px,#98fa1e 234px,#a6fa1a 236px)"></i><i style="background:linear-gradient(90deg,#0a50f7 0px,#0a51f7 6px,#0a57f7 12px,#0a5ef7 18px,#0a6cf7 24px,#0a91f7 30px,#0abff7 36px,#0ae4f7 42px,#0af9f7 48px,#0bfae3 54px,#0cfad4 60px,#0dfaca 66px,#0efac5 72px,#0efac6 78px,#0dfacc 84px,#0cfad5 90px,#0bfae0 96px,#0afaec 102px,#0afaf6 108px,#0af6f7 114px,#0af4f7 120px,#0af3f7 126px,#0af2f7 132px,#0af2f7 138px,#0af1f7 144px,#0af2f7 150px,#0af5f7 156px,#0afaf5 162px,#0bfae8 168px,#0cfad9 174px,#0dfacc 180px,#10fabb 186px,#15faa6 192px,#1dfa8f 198px,#27fa7a 204px,#32fa68 210px,#40fa57 216px,#54fa44 222px,#6cfa33 228px,#8dfa22 234px,#99fa1e 236px)"></i><i style="background:linear-gradient(90deg,#0a50f7 0px,#0a51f7 6px,#0a56f7 12px,#0a5cf7 18px,#0a66f7 24px,#0a84f7 30px,#0aaff7 36px,#0ad3f7 42px,#0ae9f7 48px,#0af7f7 54px,#0afaea 60px,#0bfae0 66px,#0bfada 72px,#0bfadb 78px,#0bfae1 84px,#0afaeb 90px,#0afaf7 96px,#0af3f7 102px,#0aedf7 108px,#0ae8f7 114px,#0ae6f7 120px,#0ae5f7 126px,#0ae4f7 132px,#0ae3f7 138px,#0ae3f7 144px,#0ae4f7 150px,#0ae8f7 156px,#0aeff7 162px,#0af7f7 168px,#0afaed 174px,#0bfae1 180px,#0cfad0 186px,#10fab9 192px,#17fa9e 198px,#21fa86 204px,#2cfa72 210px,#3afa5f 216px,#4cfa4b 222px,#64fa38 228px,#82fa27 234px,#8efa22 236px)"></i><i style="background:linear-gradient(90deg,#0a50f7 0px,#0a51f7 6px,#0a55f7 12px,#0a5bf7 18px,#0a63f7 24px,#0a79f7 30px,#0a9ff7 36px,#0ac2f7 42px,#0ad8f7 48px,#0ae8f7 54px,#0af3f7 60px,#0afaf7 66px,#0afaf2 72px,#0afaf3 78px,#0af9f7 84px,#0af3f7 90px,#0aecf7 96px,#0ae5f7 102px,#0adef7 108px,#0ad9f7 114px,#0ad7f7 120px,#0ad6f7 126px,#0ad5f7 132px,#0ad4f7 138px,#0ad4f7 144px,#0ad4f7 150px,#0ad9f7 156px,#0ae1f7 162px,#0aeaf7 168px,#0af3f7 174px,#0afaf7 180px,#0bfae7 186px,#0dfacf 192px,#12fab1 198px,#1bfa94 204px,#26fa7c 210px,#33fa67 216px,#45fa52 222px,#5bfa3e 228px,#79fa2c 234px,#84fa26 236px)"></i><i style="background:linear-gradient(90deg,#0a50f7 0px,#0a51f7 6px,#0a54f7 12px,#0a5af7 18px,#0a60f7 24px,#0a70f7 30px,#0a91f7 36px,#0ab2f7 42px,#0ac7f7 48px,#0ad7f7 54px,#0ae3f7 60px,#0aebf7 66px,#0aeef7 72px,#0aeef7 78px,#0aeaf7 84px,#0ae4f7 90px,#0addf7 96px,#0ad5f7 102px,#0acff7 108px,#0ac9f7 114px,#0ac7f7 120px,#0ac5f7 126px,#0ac4f7 132px,#0ac4f7 138px,#0ac3f7 144px,#0ac4f7 150px,#0acaf7 156px,#0ad3f7 162px,#0addf7 168px,#0ae6f7 174px,#0aecf7 180px,#0af5f7 186px,#0bfae8 192px,#0efac7 198px,#16faa4 204px,#21fa87 210px,#2dfa70 216px,#3efa5a 222px,#54fa44 228px,#70fa31 234px,#7afa2b 236px)"></i><i style="background:linear-gradient(90deg,#0a50f7 0px,#0a50f7 6px,#0a53f7 12px,#0a58f7 18px,#0a5ef7 24px,#0a69f7 30px,#0a83f7 36px,#0aa1f7 42px,#0ab6f7 48px,#0ac6f7 54px,#0ad2f7 60px,#0adbf7 66px,#0adff7 72px,#0adef7 78px,#0adaf7 84px,#0ad4f7 90px,#0accf7 96px,#0ac5f7 102px,#0abef7 108px,#0ab8f7 114px,#0ab5f7 120px,#0ab4f7 126px,#0ab3f7 132px,#0ab2f7 138px,#0ab2f7 144px,#0ab3f7 150px,#0ab9f7 156px,#0ac3f7 162px,#0acef7 168px,#0ad8f7 174px,#0adef7 180px,#0ae6f7 186px,#0af4f7 192px,#0bfadf 198px,#11fab8 204px,#1bfa94 210px,#28fa79 216px,#37fa61 222px,#4cfa4b 228px,#68fa36 234px,#71fa30 236px)"></i><i style="background:linear-gradient(90deg,#0a50f7 0px,#0a50f7 6px,#0a52f7 12px,#0a57f7 18px,#0a5df7 24px,#0a65f7 30px,#0a78f7 36px,#0a91f7 42px,#0aa5f7 48px,#0ab5f7 54px,#0ac1f7 60px,#0acaf7 66px,#0acef7 72px,#0acdf7 78px,#0ac9f7 84px,#0ac2f7 90px,#0abbf7 96px,#0ab3f7 102px,#0aacf7 108px,#0aa6f7 114px,#0aa3f7 120px,#0aa2f7 126px,#0aa1f7 132px,#0aa0f7 138px,#0aa0f7 144px,#0aa0f7 150px,#0aa7f7 156px,#0ab2f7 162px,#0abff7 168px,#0ac9f7 174px,#0ad0f7 180px,#0ad7f7 186px,#0ae4f7 192px,#0af8f7 198px,#0dface 204px,#15faa4 210px,#22fa84 216px,#31fa6a 222px,#45fa51 228px,#60fa3b 234px,#69fa35 236px)"></i><i style="background:linear-gradient(90deg,#0a50f7 0px,#0a50f7 6px,#0a52f7 12px,#0a56f7 18px,#0a5cf7 24px,#0a61f7 30px,#0a6ef7 36px,#0a83f7 42px,#0a94f7 48px,#0aa3f7 54px,#0ab0f7 60px,#0ab9f7 66px,#0abdf7 72px,#0abcf7 78px,#0ab7f7 84px,#0ab0f7 90px,#0aa8f7 96px,#0aa0f7 102px,#0a99f7 108px,#0a93f7 114px,#0a91f7 120px,#0a8ff7 126px,#0a8ef7 132px,#0a8df7 138px,#0a8df7 144px,#0a8ef7 150px,#0a94f7 156px,#0aa0f7 162px,#0aaef7 168px,#0ab9f7 174px,#0ac0f7 180px,#0ac8f7 186px,#0ad4f7 192px,#0ae8f7 198px,#0bfae8 204px,#11fab7 210px,#1dfa90 216px,#2cfa72 222px,#3ffa58 228px,#58fa41 234px,#61fa3a 236px)"></i><i style="background:linear-gradient(90deg,#0a50f7 0px,#0a50f7 6px,#0a51f7 12px,#0a55f7 18px,#0a5bf7 24px,#0a5ff7 30px,#0a68f7 36px,#0a77f7 42px,#0a85f7 48px,#0a93f7 54px,#0a9ff7 60px,#0aa8f7 66px,#0aacf7 72px,#0aa9f7 78px,#0aa4f7 84px,#0a9cf7 90px,#0a94f7 96px,#0a8cf7 102px,#0a86f7 108px,#0a81f7 114px,#0a7ef7 120px,#0a7df7 126px,#0a7cf7 132px,#0a7bf7 138px,#0a7bf7 144px,#0a7cf7 150px,#0a82f7 156px,#0a8df7 162px,#0a9bf7 168px,#0aa7f7 174px,#0aaff7 180px,#0ab7f7 186px,#0ac3f7 192px,#0ad8f7 198px,#0af3f7 204px,#0dfacd 210px,#17fa9e 216px,#27fa7b 222px,#39fa60 228px,#51fa47 234px,#5afa40 236px)"></i><i style="background:linear-gradient(90deg,#0a50f7 0px,#0a50f7 6px,#0a51f7 12px,#0a54f7 18px,#0a5af7 24px,#0a5ef7 30px,#0a63f7 36px,#0a6df7 42px,#0a78f7 48px,#0a84f7 54px,#0a8ff7 60px,#0a97f7 66px,#0a9bf7 72px,#0a97f7 78px,#0a90f7 84px,#0a89f7 90px,#0a81f7 96px,#0a7af7 102px,#0a74f7 108px,#0a70f7 114px,#0a6ef7 120px,#0a6df7 126px,#0a6cf7 132px,#0a6bf7 138px,#0a6af7 144px,#0a6bf7 150px,#0a70f7 156px,#0a7bf7 162px,#0a88f7 168px,#0a94f7 174px,#0a9cf7 180px,#0aa4f7 186px,#0ab1f7 192px,#0ac7f7 198px,#0ae3f7 204px,#0bfae6 210px,#13faaf 216px,#21fa85 222px,#33fa67 228px,#4afa4d 234px,#52fa45 236px)"></i><i style="background:linear-gradient(90deg,#0a50f7 0px,#0a50f7 6px,#0a50f7 12px,#0a53f7 18px,#0a59f7 24px,#0a5cf7 30px,#0a60f7 36px,#0a66f7 42px,#0a6ef7 48px,#0a77f7 54px,#0a80f7 60px,#0a87f7 66px,#0a8af7 72px,#0a84f7 78px,#0a7ef7 84px,#0a76f7 90px,#0a70f7 96px,#0a69f7 102px,#0a65f7 108px,#0a61f7 114px,#0a60f7 120px,#0a5ff7 126px,#0a5ef7 132px,#0a5df7 138px,#0a5df7 144px,#0a5df7 150px,#0a62f7 156px,#0a6af7 162px,#0a75f7 168px,#0a81f7 174px,#0a89f7 180px,#0a91f7 186px,#0a9ef7 192px,#0ab5f7 198px,#0ad2f7 204px,#0af5f7 210px,#0ffac2 216px,#1cfa90 222px,#2efa6f 228px,#44fa53 234px,#4cfa4b 236px)"></i><i style="background:linear-gradient(90deg,#0a50f7 0px,#0a50f7 6px,#0a50f7 12px,#0a53f7 18px,#0a58f7 24px,#0a5bf7 30px,#0a5ef7 36px,#0a62f7 42px,#0a67f7 48px,#0a6df7 54px,#0a74f7 60px,#0a79f7 66px,#0a7bf7 72px,#0a74f7 78px,#0a6df7 84px,#0a67f7 90px,#0a61f7 96px,#0a5cf7 102px,#0a58f7 108px,#0a56f7 114px,#0a55f7 120px,#0a54f7 126px,#0a53f7 132px,#0a52f7 138px,#0a52f7 144px,#0a52f7 150px,#0a56f7 156px,#0a5cf7 162px,#0a65f7 168px,#0a6ff7 174px,#0a76f7 180px,#0a7ef7 186px,#0a8bf7 192px,#0aa2f7 198px,#0ac1f7 204px,#0ae6f7 210px,#0cfad7 216px,#18fa9d 222px,#29fa77 228px,#3dfa5a 234px,#45fa52 236px)"></i><i style="background:linear-gradient(90deg,#0a50f7 0px,#0a50f7 6px,#0a50f7 12px,#0a52f7 18px,#0a57f7 24px,#0a5af7 30px,#0a5cf7 36px,#0a5ff7 42px,#0a62f7 48px,#0a66f7 54px,#0a6af7 60px,#0a6ef7 66px,#0a6ff7 72px,#0a65f7 78px,#0a60f7 84px,#0a5af7 90px,#0a56f7 96px,#0a52f7 102px,#0a4ff7 108px,#0a4df7 114px,#0a4cf7 120px,#0a4bf7 126px,#0a4af7 132px,#0a4af7 138px,#0a49f7 144px,#0a4af7 150px,#0a4cf7 156px,#0a51f7 162px,#0a58f7 168px,#0a60f7 174px,#0a66f7 180px,#0a6df7 186px,#0a78f7 192px,#0a8ff7 198px,#0aaff7 204px,#0ad6f7 210px,#0afaee 216px,#13faac 222px,#24fa80 228px,#38fa61 234px,#3ffa58 236px)"></i><i style="background:linear-gradient(90deg,#0a50f7 0px,#0a50f7 6px,#0a50f7 12px,#0a51f7 18px,#0a56f7 24px,#0a59f7 30px,#0a5bf7 36px,#0a5df7 42px,#0a5ff7 48px,#0a61f7 54px,#0a64f7 60px,#0a66f7 66px,#0a66f7 72px,#0a5af7 78px,#0a55f7 84px,#0a51f7 90px,#0a4df7 96px,#0a4af7 102px,#0a47f7 108px,#0a46f7 114px,#0a44f7 120px,#0a44f7 126px,#0a43f7 132px,#0a42f7 138px,#0a42f7 144px,#0a42f7 150px,#0a45f7 156px,#0a49f7 162px,#0a4ef7 168px,#0a54f7 174px,#0a59f7 180px,#0a5ef7 186px,#0a68f7 192px,#0a7df7 198px,#0a9df7 204px,#0ac6f7 210px,#0af1f7 216px,#0ffabd 222px,#1ffa8a 228px,#32fa68 234px,#39fa5f 236px)"></i><i style="background:linear-gradient(90deg,#0a50f7 0px,#0a50f7 6px,#0a50f7 12px,#0a51f7 18px,#0a55f7 24px,#0a57f7 30px,#0a59f7 36px,#0a5bf7 42px,#0a5cf7 48px,#0a5ef7 54px,#0a60f7 60px,#0a61f7 66px,#0a5ff7 72px,#0a52f7 78px,#0a4df7 84px,#0a49f7 90px,#0a46f7 96px,#0a43f7 102px,#0a41f7 108px,#0a3ff7 114px,#0a3ef7 120px,#0a3ef7 126px,#0a3df7 132px,#0a3cf7 138px,#0a3cf7 144px,#0a3cf7 150px,#0a3ef7 156px,#0a42f7 162px,#0a46f7 168px,#0a4bf7 174px,#0a4ff7 180px,#0a53f7 186px,#0a5bf7 192px,#0a6cf7 198px,#0a8af7 204px,#0ab5f7 210px,#0ae4f7 216px,#0dfad0 222px,#1bfa95 228px,#2dfa70 234px,#34fa66 236px)"></i><i style="background:linear-gradient(90deg,#0a50f7 0px,#0a50f7 6px,#0a50f7 12px,#0a51f7 18px,#0a54f7 24px,#0a56f7 30px,#0a58f7 36px,#0a59f7 42px,#0a5af7 48px,#0a5bf7 54px,#0a5df7 60px,#0a5ef7 66px,#0a5bf7 72px,#0a4bf7 78px,#0a46f7 84px,#0a43f7 90px,#0a40f7 96px,#0a3ef7 102px,#0a3cf7 108px,#0a3af7 114px,#0a39f7 120px,#0a38f7 126px,#0a38f7 132px,#0a37f7 138px,#0a37f7 144px,#0a37f7 150px,#0a39f7 156px,#0a3cf7 162px,#0a40f7 168px,#0a44f7 174px,#0a47f7 180px,#0a4bf7 186px,#0a51f7 192px,#0a5ff7 198px,#0a79f7 204px,#0aa5f7 210px,#0ad6f7 216px,#0bfae3 222px,#16faa1 228px,#29fa77 234px,#2ffa6d 236px)"></i><i style="background:linear-gradient(90deg,#0a50f7 0px,#0a50f7 6px,#0a50f7 12px,#0a51f7 18px,#0a53f7 24px,#0a55f7 30px,#0a56f7 36px,#0a57f7 42px,#0a58f7 48px,#0a59f7 54px,#0a5af7 60px,#0a5bf7 66px,#0a58f7 72px,#0a45f7 78px,#0a41f7 84px,#0a3ef7 90px,#0a3bf7 96px,#0a39f7 102px,#0a37f7 108px,#0a36f7 114px,#0a35f7 120px,#0a34f7 126px,#0a34f7 132px,#0a33f7 138px,#0a33f7 144px,#0a33f7 150px,#0a35f7 156px,#0a37f7 162px,#0a3af7 168px,#0a3ef7 174px,#0a40f7 180px,#0a43f7 186px,#0a49f7 192px,#0a54f7 198px,#0a6af7 204px,#0a93f7 210px,#0ac8f7 216px,#0afaf7 222px,#13faaf 228px,#24fa80 234px,#2afa75 236px)"></i><i style="background:linear-gradient(90deg,#0a50f7 0px,#0a50f7 6px,#0a50f7 12px,#0a50f7 18px,#0a52f7 24px,#0a53f7 30px,#0a55f7 36px,#0a56f7 42px,#0a56f7 48px,#0a57f7 54px,#0a58f7 60px,#0a59f7 66px,#0a55f7 72px,#0a40f7 78px,#0a3cf7 84px,#0a39f7 90px,#0a37f7 96px,#0a35f7 102px,#0a33f7 108px,#0a32f7 114px,#0a32f7 120px,#0a31f7 126px,#0a31f7 132px,#0a30f7 138px,#0a30f7 144px,#0a30f7 150px,#0a31f7 156px,#0a33f7 162px,#0a36f7 168px,#0a39f7 174px,#0a3bf7 180px,#0a3ef7 186px,#0a42f7 192px,#0a4cf7 198px,#0a5ef7 204px,#0a83f7 210px,#0abaf7 216px,#0aeef7 222px,#0ffabd 228px,#20fa88 234px,#26fa7c 236px)"></i><i style="background:linear-gradient(90deg,#0a50f7 0px,#0a50f7 6px,#0a50f7 12px,#0a50f7 18px,#0a51f7 24px,#0a52f7 30px,#0a53f7 36px,#0a54f7 42px,#0a55f7 48px,#0a56f7 54px,#0a56f7 60px,#0a57f7 66px,#0a53f7 72px,#0a3cf7 78px,#0a38f7 84px,#0a36f7 90px,#0a33f7 96px,#0a32f7 102px,#0a31f7 108px,#0a30f7 114px,#0a2ff7 120px,#0a2ff7 126px,#0a2ef7 132px,#0a2ef7 138px,#0a2ef7 144px,#0a2ef7 150px,#0a2ef7 156px,#0a30f7 162px,#0a32f7 168px,#0a34f7 174px,#0a36f7 180px,#0a39f7 186px,#0a3df7 192px,#0a45f7 198px,#0a54f7 204px,#0a74f7 210px,#0aabf7 216px,#0ae2f7 222px,#0dfacd 228px,#1cfa92 234px,#22fa85 236px)"></i><i style="background:linear-gradient(90deg,#0a50f7 0px,#0a50f7 6px,#0a50f7 12px,#0a50f7 18px,#0a51f7 24px,#0a51f7 30px,#0a52f7 36px,#0a53f7 42px,#0a53f7 48px,#0a54f7 54px,#0a54f7 60px,#0a55f7 66px,#0a50f7 72px,#0a39f7 78px,#0a36f7 84px,#0a33f7 90px,#0a31f7 96px,#0a30f7 102px,#0a2ff7 108px,#0a2ef7 114px,#0a2df7 120px,#0a2cf7 126px,#0a2cf7 132px,#0a2cf7 138px,#0a2bf7 144px,#0a2bf7 150px,#0a2cf7 156px,#0a2df7 162px,#0a2ff7 168px,#0a31f7 174px,#0a33f7 180px,#0a35f7 186px,#0a38f7 192px,#0a40f7 198px,#0a4cf7 204px,#0a67f7 210px,#0a9cf7 216px,#0ad7f7 222px,#0bfadd 228px,#18fa9c 234px,#1efa8e 236px)"></i><i style="background:linear-gradient(90deg,#0a50f7 0px,#0a50f7 6px,#0a50f7 12px,#0a50f7 18px,#0a51f7 24px,#0a51f7 30px,#0a51f7 36px,#0a52f7 42px,#0a52f7 48px,#0a53f7 54px,#0a53f7 60px,#0a53f7 66px,#0a4ef7 72px,#0a37f7 78px,#0a34f7 84px,#0a31f7 90px,#0a2ff7 96px,#0a2ef7 102px,#0a2df7 108px,#0a2cf7 114px,#0a2bf7 120px,#0a2af7 126px,#0a2af7 132px,#0a29f7 138px,#0a29f7 144px,#0a29f7 150px,#0a2af7 156px,#0a2bf7 162px,#0a2df7 168px,#0a2ef7 174px,#0a30f7 180px,#0a31f7 186px,#0a34f7 192px,#0a3bf7 198px,#0a46f7 204px,#0a5cf7 210px,#0a8df7 216px,#0acbf7 222px,#0afaed 228px,#14faa8 234px,#1afa97 236px)"></i><i style="background:linear-gradient(90deg,#0a50f7 0px,#0a50f7 6px,#0a50f7 12px,#0a50f7 18px,#0a50f7 24px,#0a51f7 30px,#0a51f7 36px,#0a51f7 42px,#0a51f7 48px,#0a52f7 54px,#0a52f7 60px,#0a51f7 66px,#0a4cf7 72px,#0a36f7 78px,#0a33f7 84px,#0a30f7 90px,#0a2df7 96px,#0a2cf7 102px,#0a2bf7 108px,#0a2af7 114px,#0a29f7 120px,#0a28f7 126px,#0a28f7 132px,#0a27f7 138px,#0a27f7 144px,#0a27f7 150px,#0a28f7 156px,#0a29f7 162px,#0a2af7 168px,#0a2cf7 174px,#0a2df7 180px,#0a2ff7 186px,#0a31f7 192px,#0a37f7 198px,#0a41f7 204px,#0a54f7 210px,#0a7ef7 216px,#0abff7 222px,#0af6f7 228px,#11fab4 234px,#16faa2 236px)"></i><i style="background:linear-gradient(90deg,#0a50f7 0px,#0a50f7 6px,#0a50f7 12px,#0a50f7 18px,#0a50f7 24px,#0a50f7 30px,#0a50f7 36px,#0a51f7 42px,#0a51f7 48px,#0a51f7 54px,#0a51f7 60px,#0a50f7 66px,#0a4af7 72px,#0a36f7 78px,#0a33f7 84px,#0a2ff7 90px,#0a2cf7 96px,#0a2af7 102px,#0a29f7 108px,#0a28f7 114px,#0a27f7 120px,#0a27f7 126px,#0a26f7 132px,#0a25f7 138px,#0a25f7 144px,#0a25f7 150px,#0a26f7 156px,#0a27f7 162px,#0a28f7 168px,#0a2af7 174px,#0a2bf7 180px,#0a2df7 186px,#0a2ff7 192px,#0a33f7 198px,#0a3cf7 204px,#0a4df7 210px,#0a71f7 216px,#0ab3f7 222px,#0aedf7 228px,#0ffac0 234px,#13faad 236px)"></i><i style="background:linear-gradient(90deg,#0a50f7 0px,#0a50f7 6px,#0a50f7 12px,#0a50f7 18px,#0a50f7 24px,#0a50f7 30px,#0a50f7 36px,#0a50f7 42px,#0a50f7 48px,#0a51f7 54px,#0a51f7 60px,#0a4ff7 66px,#0a49f7 72px,#0a36f7 78px,#0a33f7 84px,#0a2ff7 90px,#0a2af7 96px,#0a29f7 102px,#0a27f7 108px,#0a26f7 114px,#0a25f7 120px,#0a25f7 126px,#0a24f7 132px,#0a23f7 138px,#0a23f7 144px,#0a23f7 150px,#0a24f7 156px,#0a25f7 162px,#0a26f7 168px,#0a27f7 174px,#0a29f7 180px,#0a2bf7 186px,#0a2df7 192px,#0a31f7 198px,#0a38f7 204px,#0a48f7 210px,#0a66f7 216px,#0aa7f7 222px,#0ae4f7 228px,#0dfacc 234px,#10fab8 236px)"></i><i style="background:linear-gradient(90deg,#0a50f7 0px,#0a50f7 6px,#0a50f7 12px,#0a50f7 18px,#0a50f7 24px,#0a50f7 30px,#0a50f7 36px,#0a50f7 42px,#0a50f7 48px,#0a50f7 54px,#0a50f7 60px,#0a4ef7 66px,#0a47f7 72px,#0a35f7 78px,#0a32f7 84px,#0a2ef7 90px,#0a29f7 96px,#0a27f7 102px,#0a26f7 108px,#0a25f7 114px,#0a24f7 120px,#0a23f7 126px,#0a22f7 132px,#0a21f7 138px,#0a21f7 144px,#0a21f7 150px,#0a22f7 156px,#0a23f7 162px,#0a24f7 168px,#0a25f7 174px,#0a27f7 180px,#0a29f7 186px,#0a2cf7 192px,#0a2ff7 198px,#0a35f7 204px,#0a43f7 210px,#0a5cf7 216px,#0a9bf7 222px,#0adcf7 228px,#0cfad8 234px,#0efac3 236px)"></i><i style="background:linear-gradient(90deg,#0a50f7 0px,#0a50f7 6px,#0a50f7 12px,#0a50f7 18px,#0a50f7 24px,#0a50f7 30px,#0a50f7 36px,#0a50f7 42px,#0a50f7 48px,#0a50f7 54px,#0a50f7 60px,#0a4ef7 66px,#0a46f7 72px,#0a35f7 78px,#0a32f7 84px,#0a2df7 90px,#0a28f7 96px,#0a25f7 102px,#0a24f7 108px,#0a23f7 114px,#0a22f7 120px,#0a21f7 126px,#0a20f7 132px,#0a20f7 138px,#0a1ff7 144px,#0a1ff7 150px,#0a20f7 156px,#0a21f7 162px,#0a22f7 168px,#0a23f7 174px,#0a25f7 180px,#0a27f7 186px,#0a2af7 192px,#0a2df7 198px,#0a32f7 204px,#0a3ef7 210px,#0a55f7 216px,#0a8ef7 222px,#0ad4f7 228px,#0bfae4 234px,#0dface 236px)"></i><i style="background:linear-gradient(90deg,#0a50f7 0px,#0a50f7 6px,#0a50f7 12px,#0a50f7 18px,#0a50f7 24px,#0a50f7 30px,#0a50f7 36px,#0a50f7 42px,#0a50f7 48px,#0a50f7 54px,#0a50f7 60px,#0a4ef7 66px,#0a44f7 72px,#0a35f7 78px,#0a31f7 84px,#0a2cf7 90px,#0a27f7 96px,#0a24f7 102px,#0a22f7 108px,#0a21f7 114px,#0a20f7 120px,#0a1ff7 126px,#0a1ef7 132px,#0a1ef7 138px,#0a1df7 144px,#0a1df7 150px,#0a1ef7 156px,#0a1ff7 162px,#0a20f7 168px,#0a21f7 174px,#0a23f7 180px,#0a25f7 186px,#0a28f7 192px,#0a2cf7 198px,#0a30f7 204px,#0a3bf7 210px,#0a4ff7 216px,#0a83f7 222px,#0acdf7 228px,#0afaef 234px,#0cfad9 236px)"></i><i style="background:linear-gradient(90deg,#0a50f7 0px,#0a50f7 6px,#0a50f7 12px,#0a50f7 18px,#0a50f7 24px,#0a50f7 30px,#0a50f7 36px,#0a50f7 42px,#0a50f7 48px,#0a50f7 54px,#0a50f7 60px,#0a4ef7 66px,#0a43f7 72px,#0a35f7 78px,#0a31f7 84px,#0a2cf7 90px,#0a26f7 96px,#0a22f7 102px,#0a21f7 108px,#0a20f7 114px,#0a1ef7 120px,#0a1ef7 126px,#0a1df7 132px,#0a1cf7 138px,#0a1cf7 144px,#0a1cf7 150px,#0a1cf7 156px,#0a1df7 162px,#0a1ef7 168px,#0a1ff7 174px,#0a21f7 180px,#0a24f7 186px,#0a27f7 192px,#0a2af7 198px,#0a2ff7 204px,#0a37f7 210px,#0a4af7 216px,#0a78f7 222px,#0ac6f7 228px,#0af9f7 234px,#0bfae3 236px)"></i><i style="background:linear-gradient(90deg,#0a50f7 0px,#0a50f7 6px,#0a50f7 12px,#0a50f7 18px,#0a50f7 24px,#0a50f7 30px,#0a50f7 36px,#0a50f7 42px,#0a50f7 48px,#0a50f7 54px,#0a50f7 60px,#0a4ef7 66px,#0a42f7 72px,#0a35f7 78px,#0a30f7 84px,#0a2bf7 90px,#0a26f7 96px,#0a21f7 102px,#0a1ff7 108px,#0a1ef7 114px,#0a1df7 120px,#0a1df7 126px,#0a1cf7 132px,#0a1bf7 138px,#0a1af7 144px,#0a1af7 150px,#0a1bf7 156px,#0a1bf7 162px,#0a1cf7 168px,#0a1df7 174px,#0a1ff7 180px,#0a22f7 186px,#0a25f7 192px,#0a29f7 198px,#0a2df7 204px,#0a35f7 210px,#0a45f7 216px,#0a6ef7 222px,#0abff7 228px,#0af3f7 234px,#0afaed 236px)"></i><i style="background:linear-gradient(90deg,#0a50f7 0px,#0a50f7 6px,#0a50f7 12px,#0a50f7 18px,#0a50f7 24px,#0a50f7 30px,#0a50f7 36px,#0a50f7 42px,#0a50f7 48px,#0a50f7 54px,#0a50f7 60px,#0a4ef7 66px,#0a41f7 72px,#0a35f7 78px,#0a30f7 84px,#0a2af7 90px,#0a25f7 96px,#0a20f7 102px,#0a1ef7 108px,#0a1df7 114px,#0a1cf7 120px,#0a1cf7 126px,#0a1bf7 132px,#0a19f7 138px,#0a19f7 144px,#0a19f7 150px,#0a19f7 156px,#0a1af7 162px,#0a1bf7 168px,#0a1cf7 174px,#0a1df7 180px,#0a20f7 186px,#0a23f7 192px,#0a27f7 198px,#0a2cf7 204px,#0a32f7 210px,#0a41f7 216px,#0a66f7 222px,#0ab9f7 228px,#0aedf7 234px,#0afaf7 236px)"></i><i style="background:linear-gradient(90deg,#0a50f7 0px,#0a50f7 6px,#0a50f7 12px,#0a50f7 18px,#0a50f7 24px,#0a50f7 30px,#0a50f7 36px,#0a50f7 42px,#0a50f7 48px,#0a50f7 54px,#0a50f7 60px,#0a4ef7 66px,#0a41f7 72px,#0a34f7 78px,#0a2ff7 84px,#0a2af7 90px,#0a24f7 96px,#0a1ff7 102px,#0a1df7 108px,#0a1cf7 114px,#0a1cf7 120px,#0a1bf7 126px,#0a1bf7 132px,#0a18f7 138px,#0a18f7 144px,#0a18f7 150px,#0a18f7 156px,#0a19f7 162px,#0a19f7 168px,#0a1af7 174px,#0a1cf7 180px,#0a1ff7 186px,#0a22f7 192px,#0a26f7 198px,#0a2af7 204px,#0a30f7 210px,#0a3ef7 216px,#0a5ff7 222px,#0ab3f7 228px,#0ae8f7 234px,#0af5f7 236px)"></i><i style="background:linear-gradient(90deg,#0a50f7 0px,#0a50f7 6px,#0a50f7 12px,#0a50f7 18px,#0a50f7 24px,#0a50f7 30px,#0a50f7 36px,#0a50f7 42px,#0a50f7 48px,#0a50f7 54px,#0a50f7 60px,#0a4ef7 66px,#0a40f7 72px,#0a34f7 78px,#0a2ef7 84px,#0a29f7 90px,#0a24f7 96px,#0a1ff7 102px,#0a1cf7 108px,#0a1bf7 114px,#0a1bf7 120px,#0a1bf7 126px,#0a1bf7 132px,#0a17f7 138px,#0a17f7 144px,#0a17f7 150px,#0a17f7 156px,#0a18f7 162px,#0a18f7 168px,#0a19f7 174px,#0a1af7 180px,#0a1df7 186px,#0a20f7 192px,#0a24f7 198px,#0a29f7 204px,#0a2ff7 210px,#0a3bf7 216px,#0a5af7 222px,#0aacf7 228px,#0ae4f7 234px,#0af1f7 236px)"></i><i style="background:linear-gradient(90deg,#0a50f7 0px,#0a50f7 6px,#0a50f7 12px,#0a50f7 18px,#0a50f7 24px,#0a50f7 30px,#0a50f7 36px,#0a50f7 42px,#0a50f7 48px,#0a50f7 54px,#0a50f7 60px,#0a4ef7 66px,#0a40f7 72px,#0a34f7 78px,#0a2ef7 84px,#0a29f7 90px,#0a24f7 96px,#0a1ff7 102px,#0a1cf7 108px,#0a1bf7 114px,#0a1bf7 120px,#0a1bf7 126px,#0a1af7 132px,#0a16f7 138px,#0a16f7 144px,#0a16f7 150px,#0a16f7 156px,#0a16f7 162px,#0a17f7 168px,#0a18f7 174px,#0a19f7 180px,#0a1cf7 186px,#0a1ff7 192px,#0a23f7 198px,#0a28f7 204px,#0a2ef7 210px,#0a38f7 216px,#0a55f7 222px,#0aa6f7 228px,#0ae0f7 234px,#0aedf7 236px)"></i><i style="background:linear-gradient(90deg,#0a50f7 0px,#0a50f7 6px,#0a50f7 12px,#0a50f7 18px,#0a50f7 24px,#0a50f7 30px,#0a50f7 36px,#0a50f7 42px,#0a50f7 48px,#0a50f7 54px,#0a50f7 60px,#0a4ef7 66px,#0a40f7 72px,#0a33f7 78px,#0a2ef7 84px,#0a29f7 90px,#0a24f7 96px,#0a1ff7 102px,#0a1bf7 108px,#0a1bf7 114px,#0a1bf7 120px,#0a1bf7 126px,#0a1af7 132px,#0a16f7 138px,#0a15f7 144px,#0a15f7 150px,#0a15f7 156px,#0a15f7 162px,#0a16f7 168px,#0a17f7 174px,#0a18f7 180px,#0a1af7 186px,#0a1ef7 192px,#0a21f7 198px,#0a26f7 204px,#0a2df7 210px,#0a36f7 216px,#0a51f7 222px,#0aa1f7 228px,#0addf7 234px,#0aebf7 236px)"></i><i style="background:linear-gradient(90deg,#0a50f7 0px,#0a50f7 6px,#0a50f7 12px,#0a50f7 18px,#0a50f7 24px,#0a50f7 30px,#0a50f7 36px,#0a50f7 42px,#0a50f7 48px,#0a50f7 54px,#0a50f7 60px,#0a4ef7 66px,#0a40f7 72px,#0a33f7 78px,#0a2ef7 84px,#0a29f7 90px,#0a24f7 96px,#0a1ff7 102px,#0a1bf7 108px,#0a1bf7 114px,#0a1bf7 120px,#0a1bf7 126px,#0a1af7 132px,#0a15f7 138px,#0a14f7 144px,#0a14f7 150px,#0a14f7 156px,#0a14f7 162px,#0a15f7 168px,#0a16f7 174px,#0a17f7 180px,#0a19f7 186px,#0a1cf7 192px,#0a20f7 198px,#0a25f7 204px,#0a2cf7 210px,#0a35f7 216px,#0a4ef7 222px,#0a9cf7 228px,#0adbf7 234px,#0aeaf7 236px)"></i><i style="background:linear-gradient(90deg,#0a50f7 0px,#0a50f7 6px,#0a50f7 12px,#0a50f7 18px,#0a50f7 24px,#0a50f7 30px,#0a50f7 36px,#0a50f7 42px,#0a50f7 48px,#0a50f7 54px,#0a50f7 60px,#0a4ef7 66px,#0a41f7 72px,#0a33f7 78px,#0a2ef7 84px,#0a29f7 90px,#0a24f7 96px,#0a20f7 102px,#0a1bf7 108px,#0a1bf7 114px,#0a1bf7 120px,#0a1bf7 126px,#0a1af7 132px,#0a15f7 138px,#0a13f7 144px,#0a13f7 150px,#0a13f7 156px,#0a14f7 162px,#0a14f7 168px,#0a15f7 174px,#0a16f7 180px,#0a18f7 186px,#0a1bf7 192px,#0a1ff7 198px,#0a24f7 204px,#0a2bf7 210px,#0a34f7 216px,#0a4bf7 222px,#0a98f7 228px,#0adaf7 234px,#0ae9f7 236px)"></i><i style="background:linear-gradient(90deg,#0a50f7 0px,#0a50f7 6px,#0a50f7 12px,#0a50f7 18px,#0a50f7 24px,#0a50f7 30px,#0a50f7 36px,#0a50f7 42px,#0a50f7 48px,#0a50f7 54px,#0a50f7 60px,#0a4ef7 66px,#0a41f7 72px,#0a34f7 78px,#0a2ef7 84px,#0a29f7 90px,#0a25f7 96px,#0a20f7 102px,#0a1bf7 108px,#0a1bf7 114px,#0a1bf7 120px,#0a1bf7 126px,#0a1af7 132px,#0a15f7 138px,#0a13f7 144px,#0a13f7 150px,#0a13f7 156px,#0a13f7 162px,#0a13f7 168px,#0a14f7 174px,#0a15f7 180px,#0a17f7 186px,#0a1bf7 192px,#0a1ef7 198px,#0a23f7 204px,#0a2bf7 210px,#0a33f7 216px,#0a4af7 222px,#0a95f7 228px,#0ad9f7 234px,#0ae9f7 236px)"></i><i style="background:linear-gradient(90deg,#0a51f7 0px,#0a51f7 6px,#0a51f7 12px,#0a51f7 18px,#0a50f7 24px,#0a50f7 30px,#0a50f7 36px,#0a50f7 42px,#0a50f7 48px,#0a50f7 54px,#0a50f7 60px,#0a4ef7 66px,#0a42f7 72px,#0a34f7 78px,#0a2ef7 84px,#0a2af7 90px,#0a26f7 96px,#0a20f7 102px,#0a1bf7 108px,#0a1bf7 114px,#0a1bf7 120px,#0a1bf7 126px,#0a1af7 132px,#0a15f7 138px,#0a13f7 144px,#0a13f7 150px,#0a13f7 156px,#0a13f7 162px,#0a13f7 168px,#0a13f7 174px,#0a14f7 180px,#0a16f7 186px,#0a1af7 192px,#0a1df7 198px,#0a23f7 204px,#0a2bf7 210px,#0a33f7 216px,#0a49f7 222px,#0a93f7 228px,#0ad9f7 234px,#0ae9f7 236px)"></i><i style="background:linear-gradient(90deg,#0a51f7 0px,#0a51f7 6px,#0a51f7 12px,#0a51f7 18px,#0a51f7 24px,#0a51f7 30px,#0a50f7 36px,#0a50f7 42px,#0a50f7 48px,#0a50f7 54px,#0a50f7 60px,#0a4ef7 66px,#0a43f7 72px,#0a34f7 78px,#0a2ff7 84px,#0a2bf7 90px,#0a26f7 96px,#0a21f7 102px,#0a1bf7 108px,#0a1bf7 114px,#0a1bf7 120px,#0a1bf7 126px,#0a1af7 132px,#0a15f7 138px,#0a14f7 144px,#0a14f7 150px,#0a14f7 156px,#0a13f7 162px,#0a13f7 168px,#0a13f7 174px,#0a13f7 180px,#0a15f7 186px,#0a1af7 192px,#0a1cf7 198px,#0a22f7 204px,#0a2bf7 210px,#0a33f7 216px,#0a49f7 222px,#0a93f7 228px,#0ad9f7 234px,#0ae9f7 236px)"></i><i style="background:linear-gradient(90deg,#0a52f7 0px,#0a52f7 6px,#0a52f7 12px,#0a51f7 18px,#0a51f7 24px,#0a51f7 30px,#0a51f7 36px,#0a51f7 42px,#0a51f7 48px,#0a50f7 54px,#0a50f7 60px,#0a4ef7 66px,#0a44f7 72px,#0a35f7 78px,#0a30f7 84px,#0a2bf7 90px,#0a27f7 96px,#0a21f7 102px,#0a1bf7 108px,#0a1bf7 114px,#0a1bf7 120px,#0a1bf7 126px,#0a1af7 132px,#0a16f7 138px,#0a15f7 144px,#0a15f7 150px,#0a14f7 156px,#0a14f7 162px,#0a14f7 168px,#0a13f7 174px,#0a13f7 180px,#0a15f7 186px,#0a1af7 192px,#0a1cf7 198px,#0a22f7 204px,#0a2bf7 210px,#0a33f7 216px,#0a49f7 222px,#0a95f7 228px,#0ad9f7 234px,#0ae9f7 236px)"></i><i style="background:linear-gradient(90deg,#0a53f7 0px,#0a53f7 6px,#0a53f7 12px,#0a52f7 18px,#0a52f7 24px,#0a52f7 30px,#0a51f7 36px,#0a51f7 42px,#0a51f7 48px,#0a51f7 54px,#0a51f7 60px,#0a4ff7 66px,#0a45f7 72px,#0a35f7 78px,#0a30f7 84px,#0a2cf7 90px,#0a28f7 96px,#0a21f7 102px,#0a1cf7 108px,#0a1cf7 114px,#0a1bf7 120px,#0a1bf7 126px,#0a1bf7 132px,#0a17f7 138px,#0a16f7 144px,#0a16f7 150px,#0a15f7 156px,#0a15f7 162px,#0a14f7 168px,#0a14f7 174px,#0a14f7 180px,#0a15f7 186px,#0a1af7 192px,#0a1cf7 198px,#0a22f7 204px,#0a2bf7 210px,#0a34f7 216px,#0a4bf7 222px,#0a98f7 228px,#0adaf7 234px,#0ae9f7 236px)"></i><i style="background:linear-gradient(90deg,#0a55f7 0px,#0a55f7 6px,#0a55f7 12px,#0a54f7 18px,#0a53f7 24px,#0a53f7 30px,#0a52f7 36px,#0a52f7 42px,#0a52f7 48px,#0a51f7 54px,#0a51f7 60px,#0a4ff7 66px,#0a47f7 72px,#0a35f7 78px,#0a31f7 84px,#0a2df7 90px,#0a29f7 96px,#0a22f7 102px,#0a1df7 108px,#0a1cf7 114px,#0a1cf7 120px,#0a1cf7 126px,#0a1bf7 132px,#0a18f7 138px,#0a17f7 144px,#0a17f7 150px,#0a16f7 156px,#0a16f7 162px,#0a15f7 168px,#0a15f7 174px,#0a14f7 180px,#0a15f7 186px,#0a1af7 192px,#0a1df7 198px,#0a23f7 204px,#0a2cf7 210px,#0a34f7 216px,#0a4df7 222px,#0a9bf7 228px,#0adbf7 234px,#0aeaf7 236px)"></i><i style="background:linear-gradient(90deg,#0a57f7 0px,#0a57f7 6px,#0a57f7 12px,#0a56f7 18px,#0a55f7 24px,#0a54f7 30px,#0a54f7 36px,#0a53f7 42px,#0a53f7 48px,#0a52f7 54px,#0a52f7 60px,#0a50f7 66px,#0a49f7 72px,#0a35f7 78px,#0a32f7 84px,#0a2ef7 90px,#0a2af7 96px,#0a22f7 102px,#0a1ef7 108px,#0a1ef7 114px,#0a1df7 120px,#0a1cf7 126px,#0a1cf7 132px,#0a19f7 138px,#0a19f7 144px,#0a18f7 150px,#0a18f7 156px,#0a17f7 162px,#0a16f7 168px,#0a16f7 174px,#0a16f7 180px,#0a16f7 186px,#0a1bf7 192px,#0a1df7 198px,#0a24f7 204px,#0a2cf7 210px,#0a35f7 216px,#0a50f7 222px,#0aa0f7 228px,#0adcf7 234px,#0aebf7 236px)"></i><i style="background:linear-gradient(90deg,#0a5af7 0px,#0a59f7 6px,#0a59f7 12px,#0a58f7 18px,#0a57f7 24px,#0a56f7 30px,#0a56f7 36px,#0a55f7 42px,#0a54f7 48px,#0a54f7 54px,#0a53f7 60px,#0a52f7 66px,#0a4cf7 72px,#0a35f7 78px,#0a32f7 84px,#0a2ef7 90px,#0a2af7 96px,#0a24f7 102px,#0a20f7 108px,#0a20f7 114px,#0a1ff7 120px,#0a1ef7 126px,#0a1df7 132px,#0a1bf7 138px,#0a1af7 144px,#0a1af7 150px,#0a19f7 156px,#0a18f7 162px,#0a18f7 168px,#0a17f7 174px,#0a17f7 180px,#0a18f7 186px,#0a1bf7 192px,#0a1ff7 198px,#0a25f7 204px,#0a2df7 210px,#0a37f7 216px,#0a54f7 222px,#0aa6f7 228px,#0adef7 234px,#0aecf7 236px)"></i><i style="background:linear-gradient(90deg,#0a5cf7 0px,#0a5cf7 6px,#0a5bf7 12px,#0a5af7 18px,#0a59f7 24px,#0a59f7 30px,#0a58f7 36px,#0a57f7 42px,#0a56f7 48px,#0a56f7 54px,#0a55f7 60px,#0a54f7 66px,#0a4ef7 72px,#0a36f7 78px,#0a32f7 84px,#0a2ff7 90px,#0a2bf7 96px,#0a25f7 102px,#0a23f7 108px,#0a22f7 114px,#0a21f7 120px,#0a20f7 126px,#0a1ef7 132px,#0a1df7 138px,#0a1cf7 144px,#0a1bf7 150px,#0a1af7 156px,#0a19f7 162px,#0a19f7 168px,#0a18f7 174px,#0a18f7 180px,#0a19f7 186px,#0a1df7 192px,#0a20f7 198px,#0a26f7 204px,#0a2ef7 210px,#0a39f7 216px,#0a59f7 222px,#0aacf7 228px,#0ae2f7 234px,#0aeff7 236px)"></i><i style="background:linear-gradient(90deg,#0a60f7 0px,#0a5ff7 6px,#0a5ff7 12px,#0a5df7 18px,#0a5cf7 24px,#0a5bf7 30px,#0a5af7 36px,#0a59f7 42px,#0a59f7 48px,#0a58f7 54px,#0a57f7 60px,#0a56f7 66px,#0a50f7 72px,#0a36f7 78px,#0a33f7 84px,#0a30f7 90px,#0a2cf7 96px,#0a27f7 102px,#0a26f7 108px,#0a24f7 114px,#0a23f7 120px,#0a22f7 126px,#0a21f7 132px,#0a1ff7 138px,#0a1ef7 144px,#0a1df7 150px,#0a1cf7 156px,#0a1bf7 162px,#0a1af7 168px,#0a1af7 174px,#0a1af7 180px,#0a1bf7 186px,#0a1ef7 192px,#0a22f7 198px,#0a28f7 204px,#0a2ff7 210px,#0a3cf7 216px,#0a5ff7 222px,#0ab2f7 228px,#0ae5f7 234px,#0af2f7 236px)"></i><i style="background:linear-gradient(90deg,#0a65f7 0px,#0a65f7 6px,#0a63f7 12px,#0a61f7 18px,#0a60f7 24px,#0a5ef7 30px,#0a5df7 36px,#0a5cf7 42px,#0a5bf7 48px,#0a5af7 54px,#0a59f7 60px,#0a58f7 66px,#0a53f7 72px,#0a37f7 78px,#0a33f7 84px,#0a31f7 90px,#0a2df7 96px,#0a29f7 102px,#0a28f7 108px,#0a27f7 114px,#0a26f7 120px,#0a25f7 126px,#0a23f7 132px,#0a22f7 138px,#0a21f7 144px,#0a1ff7 150px,#0a1ef7 156px,#0a1df7 162px,#0a1cf7 168px,#0a1cf7 174px,#0a1cf7 180px,#0a1df7 186px,#0a20f7 192px,#0a24f7 198px,#0a29f7 204px,#0a31f7 210px,#0a3ff7 216px,#0a66f7 222px,#0ab9f7 228px,#0aeaf7 234px,#0af6f7 236px)"></i><i style="background:linear-gradient(90deg,#0a6ef7 0px,#0a6cf7 6px,#0a6af7 12px,#0a68f7 18px,#0a65f7 24px,#0a63f7 30px,#0a61f7 36px,#0a60f7 42px,#0a5ef7 48px,#0a5df7 54px,#0a5cf7 60px,#0a5bf7 66px,#0a55f7 72px,#0a38f7 78px,#0a34f7 84px,#0a32f7 90px,#0a2ff7 96px,#0a2cf7 102px,#0a2bf7 108px,#0a2af7 114px,#0a29f7 120px,#0a28f7 126px,#0a26f7 132px,#0a25f7 138px,#0a23f7 144px,#0a22f7 150px,#0a20f7 156px,#0a1ff7 162px,#0a1ef7 168px,#0a1ef7 174px,#0a1ef7 180px,#0a1ff7 186px,#0a22f7 192px,#0a26f7 198px,#0a2bf7 204px,#0a33f7 210px,#0a43f7 216px,#0a6ef7 222px,#0abff7 228px,#0aeff7 234px,#0afaf5 236px)"></i><i style="background:linear-gradient(90deg,#0a7af7 0px,#0a78f7 6px,#0a74f7 12px,#0a71f7 18px,#0a6df7 24px,#0a6af7 30px,#0a67f7 36px,#0a65f7 42px,#0a63f7 48px,#0a61f7 54px,#0a60f7 60px,#0a5ef7 66px,#0a59f7 72px,#0a3af7 78px,#0a36f7 84px,#0a34f7 90px,#0a31f7 96px,#0a2ff7 102px,#0a2ff7 108px,#0a2ef7 114px,#0a2cf7 120px,#0a2bf7 126px,#0a29f7 132px,#0a27f7 138px,#0a26f7 144px,#0a25f7 150px,#0a23f7 156px,#0a22f7 162px,#0a21f7 168px,#0a20f7 174px,#0a20f7 180px,#0a22f7 186px,#0a24f7 192px,#0a28f7 198px,#0a2df7 204px,#0a36f7 210px,#0a48f7 216px,#0a77f7 222px,#0ac6f7 228px,#0af5f7 234px,#0afaec 236px)"></i><i style="background:linear-gradient(90deg,#0a89f7 0px,#0a86f7 6px,#0a82f7 12px,#0a7ef7 18px,#0a79f7 24px,#0a74f7 30px,#0a70f7 36px,#0a6df7 42px,#0a6af7 48px,#0a68f7 54px,#0a66f7 60px,#0a63f7 66px,#0a5df7 72px,#0a3ef7 78px,#0a38f7 84px,#0a37f7 90px,#0a35f7 96px,#0a33f7 102px,#0a32f7 108px,#0a31f7 114px,#0a30f7 120px,#0a2ef7 126px,#0a2cf7 132px,#0a2af7 138px,#0a29f7 144px,#0a27f7 150px,#0a26f7 156px,#0a24f7 162px,#0a23f7 168px,#0a23f7 174px,#0a23f7 180px,#0a24f7 186px,#0a26f7 192px,#0a2af7 198px,#0a2ff7 204px,#0a39f7 210px,#0a4df7 216px,#0a82f7 222px,#0accf7 228px,#0afaf5 234px,#0bfae1 236px)"></i><i style="background:linear-gradient(90deg,#0a9af7 0px,#0a97f7 6px,#0a93f7 12px,#0a8df7 18px,#0a88f7 24px,#0a82f7 30px,#0a7df7 36px,#0a79f7 42px,#0a75f7 48px,#0a71f7 54px,#0a6ef7 60px,#0a6bf7 66px,#0a63f7 72px,#0a42f7 78px,#0a3df7 84px,#0a3bf7 90px,#0a39f7 96px,#0a38f7 102px,#0a37f7 108px,#0a36f7 114px,#0a34f7 120px,#0a32f7 126px,#0a30f7 132px,#0a2ef7 138px,#0a2cf7 144px,#0a2af7 150px,#0a29f7 156px,#0a27f7 162px,#0a26f7 168px,#0a25f7 174px,#0a26f7 180px,#0a27f7 186px,#0a28f7 192px,#0a2cf7 198px,#0a32f7 204px,#0a3ef7 210px,#0a54f7 216px,#0a8df7 222px,#0ad3f7 228px,#0afaea 234px,#0cfad6 236px)"></i><i style="background:linear-gradient(90deg,#0aacf7 0px,#0aa9f7 6px,#0aa4f7 12px,#0a9ff7 18px,#0a99f7 24px,#0a92f7 30px,#0a8df7 36px,#0a87f7 42px,#0a83f7 48px,#0a7ff7 54px,#0a7bf7 60px,#0a76f7 66px,#0a6df7 72px,#0a48f7 78px,#0a42f7 84px,#0a41f7 90px,#0a3ff7 96px,#0a3ef7 102px,#0a3df7 108px,#0a3bf7 114px,#0a39f7 120px,#0a37f7 126px,#0a34f7 132px,#0a32f7 138px,#0a30f7 144px,#0a2ef7 150px,#0a2cf7 156px,#0a2af7 162px,#0a29f7 168px,#0a28f7 174px,#0a28f7 180px,#0a29f7 186px,#0a2bf7 192px,#0a2ef7 198px,#0a35f7 204px,#0a42f7 210px,#0a5cf7 216px,#0a99f7 222px,#0adbf7 228px,#0bfadf 234px,#0dfacb 236px)"></i><i style="background:linear-gradient(90deg,#0abef7 0px,#0abaf7 6px,#0ab6f7 12px,#0ab0f7 18px,#0aabf7 24px,#0aa4f7 30px,#0a9ef7 36px,#0a98f7 42px,#0a94f7 48px,#0a8ff7 54px,#0a8bf7 60px,#0a85f7 66px,#0a79f7 72px,#0a50f7 78px,#0a49f7 84px,#0a48f7 90px,#0a46f7 96px,#0a45f7 102px,#0a43f7 108px,#0a42f7 114px,#0a40f7 120px,#0a3df7 126px,#0a39f7 132px,#0a36f7 138px,#0a34f7 144px,#0a32f7 150px,#0a30f7 156px,#0a2ef7 162px,#0a2cf7 168px,#0a2cf7 174px,#0a2bf7 180px,#0a2cf7 186px,#0a2df7 192px,#0a31f7 198px,#0a38f7 204px,#0a47f7 210px,#0a65f7 216px,#0aa5f7 222px,#0ae2f7 228px,#0cfad3 234px,#0ffac0 236px)"></i><i style="background:linear-gradient(90deg,#0acef7 0px,#0acbf7 6px,#0ac7f7 12px,#0ac2f7 18px,#0abcf7 24px,#0ab6f7 30px,#0ab0f7 36px,#0aaaf7 42px,#0aa6f7 48px,#0aa1f7 54px,#0a9df7 60px,#0a97f7 66px,#0a89f7 72px,#0a5af7 78px,#0a52f7 84px,#0a51f7 90px,#0a4ff7 96px,#0a4df7 102px,#0a4cf7 108px,#0a4af7 114px,#0a47f7 120px,#0a44f7 126px,#0a40f7 132px,#0a3cf7 138px,#0a39f7 144px,#0a36f7 150px,#0a34f7 156px,#0a32f7 162px,#0a30f7 168px,#0a2ff7 174px,#0a2ff7 180px,#0a2ff7 186px,#0a30f7 192px,#0a34f7 198px,#0a3df7 204px,#0a4df7 210px,#0a70f7 216px,#0ab1f7 222px,#0aebf7 228px,#0efac7 234px,#11fab5 236px)"></i><i style="background:linear-gradient(90deg,#0adef7 0px,#0adbf7 6px,#0ad7f7 12px,#0ad2f7 18px,#0accf7 24px,#0ac7f7 30px,#0ac1f7 36px,#0abbf7 42px,#0ab7f7 48px,#0ab3f7 54px,#0aaff7 60px,#0aa9f7 66px,#0a9af7 72px,#0a66f7 78px,#0a5df7 84px,#0a5cf7 90px,#0a5af7 96px,#0a58f7 102px,#0a56f7 108px,#0a53f7 114px,#0a50f7 120px,#0a4cf7 126px,#0a47f7 132px,#0a43f7 138px,#0a3ff7 144px,#0a3cf7 150px,#0a39f7 156px,#0a36f7 162px,#0a34f7 168px,#0a33f7 174px,#0a33f7 180px,#0a33f7 186px,#0a34f7 192px,#0a39f7 198px,#0a42f7 204px,#0a55f7 210px,#0a7df7 216px,#0abdf7 222px,#0af4f7 228px,#10faba 234px,#14faa9 236px)"></i><i style="background:linear-gradient(90deg,#0aeef7 0px,#0aebf7 6px,#0ae6f7 12px,#0ae1f7 18px,#0adcf7 24px,#0ad6f7 30px,#0ad1f7 36px,#0accf7 42px,#0ac8f7 48px,#0ac4f7 54px,#0ac0f7 60px,#0abaf7 66px,#0aabf7 72px,#0a74f7 78px,#0a6bf7 84px,#0a69f7 90px,#0a67f7 96px,#0a64f7 102px,#0a62f7 108px,#0a5ff7 114px,#0a5bf7 120px,#0a57f7 126px,#0a51f7 132px,#0a4bf7 138px,#0a46f7 144px,#0a42f7 150px,#0a3ff7 156px,#0a3cf7 162px,#0a39f7 168px,#0a38f7 174px,#0a37f7 180px,#0a37f7 186px,#0a38f7 192px,#0a3ef7 198px,#0a48f7 204px,#0a5ef7 210px,#0a8cf7 216px,#0ac8f7 222px,#0afaf2 228px,#13faae 234px,#18fa9d 236px)"></i><i style="background:linear-gradient(90deg,#0afaf1 0px,#0afaf7 6px,#0af6f7 12px,#0af1f7 18px,#0aebf7 24px,#0ae6f7 30px,#0ae0f7 36px,#0adbf7 42px,#0ad7f7 48px,#0ad4f7 54px,#0ad0f7 60px,#0acbf7 66px,#0abaf7 72px,#0a85f7 78px,#0a7bf7 84px,#0a78f7 90px,#0a76f7 96px,#0a74f7 102px,#0a71f7 108px,#0a6ef7 114px,#0a6af7 120px,#0a64f7 126px,#0a5cf7 132px,#0a55f7 138px,#0a4ff7 144px,#0a4af7 150px,#0a46f7 156px,#0a42f7 162px,#0a3ff7 168px,#0a3ef7 174px,#0a3df7 180px,#0a3cf7 186px,#0a3ef7 192px,#0a44f7 198px,#0a50f7 204px,#0a6af7 210px,#0a9bf7 216px,#0ad4f7 222px,#0bfae2 228px,#16faa1 234px,#1cfa91 236px)"></i><i style="background:linear-gradient(90deg,#0cfad8 0px,#0bfadd 6px,#0bfae5 12px,#0afaed 18px,#0afaf7 24px,#0af5f7 30px,#0aeff7 36px,#0aeaf7 42px,#0ae6f7 48px,#0ae3f7 54px,#0ae0f7 60px,#0adaf7 66px,#0ac9f7 72px,#0a96f7 78px,#0a8cf7 84px,#0a89f7 90px,#0a87f7 96px,#0a85f7 102px,#0a82f7 108px,#0a7ff7 114px,#0a7af7 120px,#0a74f7 126px,#0a6bf7 132px,#0a62f7 138px,#0a5af7 144px,#0a54f7 150px,#0a4ef7 156px,#0a4af7 162px,#0a46f7 168px,#0a44f7 174px,#0a43f7 180px,#0a43f7 186px,#0a44f7 192px,#0a4bf7 198px,#0a59f7 204px,#0a78f7 210px,#0aaaf7 216px,#0adff7 222px,#0cfad1 228px,#1bfa94 234px,#21fa85 236px)"></i><i style="background:linear-gradient(90deg,#0ffac2 0px,#0efac6 6px,#0dfacd 12px,#0cfad5 18px,#0bfade 24px,#0bfae7 30px,#0afaf1 36px,#0af9f7 42px,#0af5f7 48px,#0af2f7 54px,#0aeef7 60px,#0ae9f7 66px,#0ad7f7 72px,#0aa8f7 78px,#0a9df7 84px,#0a9bf7 90px,#0a99f7 96px,#0a97f7 102px,#0a94f7 108px,#0a91f7 114px,#0a8df7 120px,#0a86f7 126px,#0a7cf7 132px,#0a71f7 138px,#0a68f7 144px,#0a60f7 150px,#0a59f7 156px,#0a53f7 162px,#0a4ff7 168px,#0a4cf7 174px,#0a4bf7 180px,#0a4bf7 186px,#0a4cf7 192px,#0a54f7 198px,#0a66f7 204px,#0a87f7 210px,#0ab8f7 216px,#0aebf7 222px,#0ffac0 228px,#20fa87 234px,#27fa7a 236px)"></i><i style="background:linear-gradient(90deg,#13faae 0px,#12fab2 6px,#10fab8 12px,#0ffabf 18px,#0efac7 24px,#0cfad0 30px,#0cfad9 36px,#0bfae1 42px,#0bfae7 48px,#0afaed 54px,#0afaf3 60px,#0af7f7 66px,#0ae4f7 72px,#0abaf7 78px,#0aaef7 84px,#0aacf7 90px,#0aaaf7 96px,#0aa8f7 102px,#0aa6f7 108px,#0aa3f7 114px,#0a9ff7 120px,#0a99f7 126px,#0a8ff7 132px,#0a83f7 138px,#0a78f7 144px,#0a6ff7 150px,#0a67f7 156px,#0a5ff7 162px,#0a5af7 168px,#0a56f7 174px,#0a55f7 180px,#0a54f7 186px,#0a56f7 192px,#0a60f7 198px,#0a74f7 204px,#0a98f7 210px,#0ac6f7 216px,#0af7f7 222px,#12fab0 228px,#27fa7b 234px,#2efa6e 236px)"></i><i style="background:linear-gradient(90deg,#17fa9f 0px,#16faa2 6px,#15faa7 12px,#13faac 18px,#11fab3 24px,#10fabb 30px,#0efac3 36px,#0dfacb 42px,#0cfad1 48px,#0cfad5 54px,#0bfadb 60px,#0bfae5 66px,#0af2f7 72px,#0acaf7 78px,#0abef7 84px,#0abbf7 90px,#0abaf7 96px,#0ab8f7 102px,#0ab7f7 108px,#0ab4f7 114px,#0ab1f7 120px,#0aabf7 126px,#0aa1f7 132px,#0a96f7 138px,#0a8af7 144px,#0a81f7 150px,#0a77f7 156px,#0a6ef7 162px,#0a67f7 168px,#0a63f7 174px,#0a61f7 180px,#0a60f7 186px,#0a62f7 192px,#0a6ef7 198px,#0a86f7 204px,#0aa9f7 210px,#0ad3f7 216px,#0bfae8 222px,#17faa0 228px,#2efa6f 234px,#36fa63 236px)"></i><i style="background:linear-gradient(90deg,#1cfa93 0px,#1bfa95 6px,#19fa99 12px,#18fa9d 18px,#16faa3 24px,#14faa9 30px,#12fab0 36px,#11fab7 42px,#10fabc 48px,#0ffac0 54px,#0efac6 60px,#0dfacf 66px,#0afaed 72px,#0adaf7 78px,#0acdf7 84px,#0acaf7 90px,#0ac8f7 96px,#0ac7f7 102px,#0ac6f7 108px,#0ac4f7 114px,#0ac0f7 120px,#0abbf7 126px,#0ab2f7 132px,#0aa8f7 138px,#0a9df7 144px,#0a93f7 150px,#0a89f7 156px,#0a80f7 162px,#0a77f7 168px,#0a73f7 174px,#0a71f7 180px,#0a6ff7 186px,#0a71f7 192px,#0a7ff7 198px,#0a98f7 204px,#0ab9f7 210px,#0ae0f7 216px,#0cfad5 222px,#1cfa91 228px,#35fa64 234px,#3ffa59 236px)"></i><i style="background:linear-gradient(90deg,#20fa89 0px,#1ffa8b 6px,#1dfa8e 12px,#1cfa92 18px,#1afa96 24px,#18fa9b 30px,#17faa0 36px,#15faa6 42px,#14faaa 48px,#13faae 54px,#12fab3 60px,#10fabb 66px,#0cfad5 72px,#0aeaf7 78px,#0adbf7 84px,#0ad8f7 90px,#0ad6f7 96px,#0ad5f7 102px,#0ad3f7 108px,#0ad1f7 114px,#0acef7 120px,#0ac9f7 126px,#0ac1f7 132px,#0ab8f7 138px,#0aaef7 144px,#0aa5f7 150px,#0a9cf7 156px,#0a92f7 162px,#0a8af7 168px,#0a85f7 174px,#0a82f7 180px,#0a81f7 186px,#0a83f7 192px,#0a92f7 198px,#0aaaf7 204px,#0ac8f7 210px,#0aedf7 216px,#0efac2 222px,#22fa83 228px,#3efa5a 234px,#48fa4f 236px)"></i><i style="background:linear-gradient(90deg,#23fa82 0px,#22fa83 6px,#21fa86 12px,#20fa88 18px,#1efa8c 24px,#1dfa90 30px,#1bfa94 36px,#19fa98 42px,#18fa9c 48px,#17fa9f 54px,#16faa3 60px,#14faa9 66px,#0ffac0 72px,#0af8f7 78px,#0ae9f7 84px,#0ae5f7 90px,#0ae3f7 96px,#0ae2f7 102px,#0ae0f7 108px,#0adef7 114px,#0adbf7 120px,#0ad6f7 126px,#0acff7 132px,#0ac7f7 138px,#0abef7 144px,#0ab6f7 150px,#0aadf7 156px,#0aa5f7 162px,#0a9df7 168px,#0a98f7 174px,#0a95f7 180px,#0a94f7 186px,#0a96f7 192px,#0aa5f7 198px,#0abbf7 204px,#0ad7f7 210px,#0af9f7 216px,#12fab1 222px,#29fa77 228px,#47fa4f 234px,#52fa46 236px)"></i><i style="background:linear-gradient(90deg,#27fa7b 0px,#26fa7d 6px,#25fa7f 12px,#23fa81 18px,#22fa84 24px,#21fa87 30px,#1ffa8a 36px,#1efa8e 42px,#1cfa90 48px,#1cfa93 54px,#1afa96 60px,#18fa9b 66px,#13faae 72px,#0bfae1 78px,#0af7f7 84px,#0af2f7 90px,#0af0f7 96px,#0aeff7 102px,#0aedf7 108px,#0aebf7 114px,#0ae8f7 120px,#0ae3f7 126px,#0adcf7 132px,#0ad4f7 138px,#0accf7 144px,#0ac5f7 150px,#0abdf7 156px,#0ab6f7 162px,#0aaff7 168px,#0aaaf7 174px,#0aa8f7 180px,#0aa7f7 186px,#0aa9f7 192px,#0ab6f7 198px,#0acbf7 204px,#0ae5f7 210px,#0bfae3 216px,#17faa0 222px,#31fa6b 228px,#52fa46 234px,#5dfa3d 236px)"></i><i style="background:linear-gradient(90deg,#2afa75 0px,#29fa76 6px,#28fa78 12px,#27fa7a 18px,#26fa7d 24px,#24fa80 30px,#23fa82 36px,#21fa85 42px,#20fa87 48px,#1ffa89 54px,#1efa8c 60px,#1dfa90 66px,#17fa9f 72px,#0dfacb 78px,#0bfae6 84px,#0afaee 90px,#0afaf2 96px,#0afaf5 102px,#0afaf7 108px,#0af8f7 114px,#0af4f7 120px,#0aeff7 126px,#0ae8f7 132px,#0ae0f7 138px,#0ad9f7 144px,#0ad2f7 150px,#0accf7 156px,#0ac5f7 162px,#0abff7 168px,#0abcf7 174px,#0abaf7 180px,#0ab8f7 186px,#0abbf7 192px,#0ac7f7 198px,#0adbf7 204px,#0af3f7 210px,#0dfacf 216px,#1cfa91 222px,#39fa5f 228px,#5dfa3d 234px,#69fa35 236px)"></i><i style="background:linear-gradient(90deg,#2efa6f 0px,#2dfa71 6px,#2cfa72 12px,#2afa74 18px,#29fa77 24px,#28fa79 30px,#26fa7c 36px,#25fa7e 42px,#24fa80 48px,#23fa82 54px,#22fa84 60px,#20fa87 66px,#1bfa94 72px,#10fab8 78px,#0cfad0 84px,#0cfad8 90px,#0bfadc 96px,#0bfae0 102px,#0bfae2 108px,#0bfae6 114px,#0afaec 120px,#0afaf5 126px,#0af4f7 132px,#0aecf7 138px,#0ae5f7 144px,#0adef7 150px,#0ad9f7 156px,#0ad3f7 162px,#0acff7 168px,#0acbf7 174px,#0acaf7 180px,#0ac9f7 186px,#0acbf7 192px,#0ad7f7 198px,#0ae9f7 204px,#0afaec 210px,#10fabb 216px,#23fa83 222px,#42fa55 228px,#69fa35 234px,#76fa2d 236px)"></i><i style="background:linear-gradient(90deg,#31fa6a 0px,#31fa6b 6px,#2ffa6c 12px,#2efa6f 18px,#2dfa71 24px,#2bfa73 30px,#2afa76 36px,#28fa78 42px,#28fa79 48px,#27fa7b 54px,#26fa7d 60px,#24fa80 66px,#1ffa8b 72px,#14faa8 78px,#10fabd 84px,#0efac4 90px,#0efac8 96px,#0dfacb 102px,#0dface 108px,#0cfad2 114px,#0cfad8 120px,#0bfae1 126px,#0afaed 132px,#0af8f7 138px,#0af1f7 144px,#0aebf7 150px,#0ae5f7 156px,#0ae0f7 162px,#0addf7 168px,#0adaf7 174px,#0ad8f7 180px,#0ad8f7 186px,#0adbf7 192px,#0ae6f7 198px,#0af8f7 204px,#0cfad5 210px,#14faa9 216px,#2afa75 222px,#4cfa4b 228px,#76fa2d 234px,#83fa27 236px)"></i><i style="background:linear-gradient(90deg,#35fa64 0px,#35fa65 6px,#33fa67 12px,#32fa69 18px,#30fa6b 24px,#2ffa6d 30px,#2dfa70 36px,#2cfa72 42px,#2bfa73 48px,#2afa75 54px,#29fa76 60px,#28fa79 66px,#22fa84 72px,#18fa9b 78px,#14faab 84px,#12fab2 90px,#11fab6 96px,#10fab9 102px,#10fabc 108px,#0ffabf 114px,#0efac5 120px,#0dface 126px,#0cfad9 132px,#0bfae6 138px,#0afaf2 144px,#0af6f7 150px,#0af1f7 156px,#0aedf7 162px,#0aeaf7 168px,#0ae8f7 174px,#0ae7f7 180px,#0ae6f7 186px,#0ae9f7 192px,#0af4f7 198px,#0bfae3 204px,#0ffac0 210px,#1afa97 216px,#32fa69 222px,#57fa42 228px,#83fa27 234px,#91fa21 236px)"></i><i style="background:linear-gradient(90deg,#3afa5f 0px,#39fa60 6px,#37fa61 12px,#36fa63 18px,#34fa65 24px,#33fa68 30px,#31fa6a 36px,#30fa6c 42px,#2ffa6d 48px,#2efa6f 54px,#2dfa70 60px,#2bfa73 66px,#25fa7e 72px,#1dfa90 78px,#18fa9c 84px,#16faa2 90px,#15faa6 96px,#14faa9 102px,#14faab 108px,#13faaf 114px,#11fab4 120px,#10fabc 126px,#0efac6 132px,#0cfad2 138px,#0bfade 144px,#0afae9 150px,#0afaf1 156px,#0afaf7 162px,#0af7f7 168px,#0af5f7 174px,#0af4f7 180px,#0af4f7 186px,#0af8f7 192px,#0bfae8 198px,#0dfacc 204px,#13faac 210px,#20fa87 216px,#3bfa5d 222px,#63fa39 228px,#91fa21 234px,#9ffa1c 236px)"></i><i style="background:linear-gradient(90deg,#3efa5a 0px,#3dfa5b 6px,#3cfa5c 12px,#3afa5e 18px,#39fa60 24px,#37fa62 30px,#35fa64 36px,#34fa66 42px,#33fa68 48px,#32fa69 54px,#31fa6a 60px,#2ffa6d 66px,#29fa77 72px,#20fa87 78px,#1dfa90 84px,#1bfa95 90px,#19fa98 96px,#19fa9b 102px,#18fa9d 108px,#17faa0 114px,#15faa4 120px,#13faab 126px,#11fab5 132px,#0ffac0 138px,#0dfacb 144px,#0cfad5 150px,#0bfadd 156px,#0bfae2 162px,#0bfae6 168px,#0bfae8 174px,#0afae9 180px,#0afae9 186px,#0bfae3 192px,#0cfad1 198px,#11fab6 204px,#19fa99 210px,#28fa79 216px,#45fa52 222px,#6ffa31 228px,#9ffa1c 234px,#adfa17 236px)"></i><i style="background:linear-gradient(90deg,#42fa55 0px,#42fa56 6px,#40fa57 12px,#3ffa59 18px,#3dfa5b 24px,#3bfa5d 30px,#3afa5f 36px,#38fa60 42px,#37fa62 48px,#36fa63 54px,#35fa65 60px,#33fa67 66px,#2cfa72 72px,#24fa7f 78px,#21fa86 84px,#1ffa8a 90px,#1efa8d 96px,#1dfa8f 102px,#1cfa91 108px,#1bfa94 114px,#1afa97 120px,#18fa9d 126px,#15faa6 132px,#12fab0 138px,#10faba 144px,#0efac3 150px,#0dfaca 156px,#0dface 162px,#0cfad0 168px,#0cfad2 174px,#0cfad3 180px,#0cfad3 186px,#0dfacc 192px,#10fabb 198px,#16faa3 204px,#20fa89 210px,#31fa6b 216px,#4ffa48 222px,#7cfa2a 228px,#adfa18 234px,#bcfa14 236px)"></i><i style="background:linear-gradient(90deg,#47fa50 0px,#46fa51 6px,#45fa52 12px,#43fa54 18px,#42fa56 24px,#40fa57 30px,#3efa59 36px,#3dfa5b 42px,#3bfa5c 48px,#3afa5e 54px,#39fa5f 60px,#37fa61 66px,#30fa6c 72px,#29fa78 78px,#25fa7d 84px,#24fa81 90px,#22fa83 96px,#21fa85 102px,#20fa87 108px,#1ffa8a 114px,#1efa8d 120px,#1cfa92 126px,#19fa98 132px,#16faa1 138px,#14faaa 144px,#12fab2 150px,#10fab8 156px,#10fabb 162px,#10fabd 168px,#0ffabe 174px,#0ffabe 180px,#0ffabe 186px,#11fab7 192px,#15faa7 198px,#1cfa92 204px,#27fa7a 210px,#3afa5e 216px,#5bfa3e 222px,#8afa24 228px,#bbfa14 234px,#cafa11 236px)"></i><i style="background:linear-gradient(90deg,#4cfa4b 0px,#4bfa4c 6px,#4afa4d 12px,#48fa4f 18px,#46fa51 24px,#44fa52 30px,#43fa54 36px,#41fa56 42px,#40fa57 48px,#3ffa58 54px,#3efa5a 60px,#3cfa5c 66px,#34fa66 72px,#2dfa70 78px,#2afa75 84px,#28fa79 90px,#27fa7b 96px,#26fa7d 102px,#25fa7f 108px,#24fa81 114px,#22fa83 120px,#20fa88 126px,#1efa8d 132px,#1bfa94 138px,#18fa9c 144px,#16faa3 150px,#14faa8 156px,#14faaa 162px,#14faab 168px,#13faab 174px,#13faac 180px,#14faab 186px,#15faa4 192px,#1afa96 198px,#23fa82 204px,#30fa6c 210px,#45fa52 216px,#68fa35 222px,#98fa1e 228px,#cafa11 234px,#d9fa0f 236px)"></i><i style="background:linear-gradient(90deg,#51fa46 0px,#50fa47 6px,#4ffa49 12px,#4dfa4a 18px,#4bfa4c 24px,#49fa4e 30px,#48fa4f 36px,#46fa51 42px,#45fa52 48px,#44fa53 54px,#42fa55 60px,#41fa57 66px,#38fa61 72px,#32fa69 78px,#2ffa6e 84px,#2cfa71 90px,#2bfa73 96px,#2afa75 102px,#29fa77 108px,#28fa79 114px,#26fa7b 120px,#25fa7f 126px,#22fa84 132px,#1ffa89 138px,#1dfa90 144px,#1afa95 150px,#19fa99 156px,#18fa9b 162px,#18fa9b 168px,#18fa9b 174px,#18fa9b 180px,#19fa9a 186px,#1bfa93 192px,#21fa86 198px,#2afa74 204px,#39fa60 210px,#50fa47 216px,#76fa2d 222px,#a6fa1a 228px,#d9fa0f 234px,#e9fa0d 236px)"></i><i style="background:linear-gradient(90deg,#57fa42 0px,#56fa43 6px,#54fa44 12px,#52fa45 18px,#50fa47 24px,#4ffa49 30px,#4dfa4a 36px,#4bfa4c 42px,#4afa4d 48px,#49fa4e 54px,#47fa4f 60px,#45fa52 66px,#3cfa5b 72px,#36fa63 78px,#33fa67 84px,#31fa6a 90px,#30fa6c 96px,#2efa6e 102px,#2dfa70 108px,#2cfa72 114px,#2bfa74 120px,#29fa77 126px,#27fa7b 132px,#24fa80 138px,#21fa85 144px,#1ffa8a 150px,#1efa8d 156px,#1dfa8e 162px,#1dfa8e 168px,#1efa8e 174px,#1efa8d 180px,#1ffa8b 186px,#22fa85 192px,#28fa78 198px,#33fa68 204px,#43fa54 210px,#5cfa3d 216px,#84fa26 222px,#b4fa16 228px,#e9fa0e 234px,#fafa0d 236px)"></i><i style="background:linear-gradient(90deg,#5cfa3e 0px,#5bfa3e 6px,#5afa40 12px,#58fa41 18px,#56fa43 24px,#54fa44 30px,#52fa46 36px,#50fa47 42px,#4ffa48 48px,#4efa49 54px,#4dfa4b 60px,#4afa4d 66px,#41fa56 72px,#3cfa5c 78px,#39fa60 84px,#36fa63 90px,#34fa65 96px,#33fa67 102px,#32fa69 108px,#31fa6b 114px,#2ffa6d 120px,#2dfa70 126px,#2bfa73 132px,#29fa77 138px,#26fa7c 144px,#24fa80 150px,#23fa82 156px,#22fa83 162px,#23fa83 168px,#23fa82 174px,#24fa81 180px,#25fa7e 186px,#29fa77 192px,#30fa6c 198px,#3cfa5c 204px,#4efa4a 210px,#6afa34 216px,#92fa20 222px,#c2fa13 228px,#f9fa0d 234px,#fcf30d 236px)"></i><i style="background:linear-gradient(90deg,#62fa3a 0px,#61fa3a 6px,#5ffa3b 12px,#5dfa3d 18px,#5bfa3e 24px,#59fa40 30px,#57fa41 36px,#56fa43 42px,#54fa44 48px,#53fa45 54px,#52fa46 60px,#50fa48 66px,#46fa51 72px,#41fa56 78px,#3efa59 84px,#3cfa5c 90px,#3afa5f 96px,#38fa61 102px,#37fa62 108px,#35fa64 114px,#34fa66 120px,#32fa68 126px,#30fa6c 132px,#2efa6f 138px,#2bfa73 144px,#29fa77 150px,#28fa79 156px,#28fa79 162px,#28fa78 168px,#29fa77 174px,#2afa76 180px,#2cfa73 186px,#30fa6b 192px,#39fa60 198px,#46fa51 204px,#59fa40 210px,#78fa2c 216px,#a1fa1b 222px,#d1fa10 228px,#fcf30d 234px,#fcea0d 236px)"></i><i style="background:linear-gradient(90deg,#68fa36 0px,#67fa36 6px,#65fa37 12px,#63fa39 18px,#61fa3a 24px,#5ffa3c 30px,#5dfa3d 36px,#5bfa3e 42px,#5afa3f 48px,#59fa40 54px,#57fa41 60px,#55fa43 66px,#4cfa4b 72px,#47fa50 78px,#44fa53 84px,#41fa56 90px,#3ffa58 96px,#3dfa5a 102px,#3cfa5c 108px,#3afa5e 114px,#39fa5f 120px,#37fa62 126px,#35fa65 132px,#33fa68 138px,#30fa6b 144px,#2efa6e 150px,#2dfa70 156px,#2dfa70 162px,#2efa6f 168px,#2ffa6e 174px,#30fa6c 180px,#33fa68 186px,#38fa60 192px,#42fa55 198px,#51fa47 204px,#66fa37 210px,#86fa25 216px,#affa17 222px,#e0fa0e 228px,#fceb0d 234px,#fce20d 236px)"></i><i style="background:linear-gradient(90deg,#6efa32 0px,#6dfa33 6px,#6bfa33 12px,#69fa35 18px,#67fa36 24px,#65fa37 30px,#63fa39 36px,#61fa3a 42px,#60fa3b 48px,#5ffa3c 54px,#5dfa3d 60px,#5bfa3f 66px,#51fa46 72px,#4dfa4a 78px,#4afa4d 84px,#47fa50 90px,#45fa52 96px,#43fa54 102px,#41fa56 108px,#40fa57 114px,#3efa59 120px,#3dfa5b 126px,#3bfa5e 132px,#38fa61 138px,#36fa64 144px,#34fa66 150px,#33fa68 156px,#33fa68 162px,#34fa66 168px,#35fa65 174px,#37fa62 180px,#3afa5e 186px,#41fa56 192px,#4cfa4b 198px,#5cfa3e 204px,#73fa2f 210px,#94fa1f 216px,#bdfa14 222px,#f0fa0d 228px,#fce20d 234px,#fcd90d 236px)"></i><i style="background:linear-gradient(90deg,#74fa2e 0px,#73fa2f 6px,#71fa30 12px,#6ffa31 18px,#6dfa32 24px,#6bfa34 30px,#69fa35 36px,#67fa36 42px,#66fa37 48px,#65fa38 54px,#63fa39 60px,#61fa3a 66px,#58fa41 72px,#54fa44 78px,#50fa47 84px,#4dfa4a 90px,#4bfa4c 96px,#49fa4e 102px,#47fa50 108px,#45fa51 114px,#44fa53 120px,#42fa55 126px,#40fa57 132px,#3efa5a 138px,#3cfa5c 144px,#3afa5e 150px,#39fa60 156px,#39fa5f 162px,#3afa5e 168px,#3cfa5c 174px,#3efa59 180px,#42fa55 186px,#4bfa4c 192px,#57fa42 198px,#69fa35 204px,#81fa28 210px,#a2fa1b 216px,#cbfa11 222px,#fcf80d 228px,#fcda0d 234px,#fcd00d 236px)"></i><i style="background:linear-gradient(90deg,#7bfa2b 0px,#79fa2b 6px,#78fa2c 12px,#76fa2d 18px,#73fa2f 24px,#71fa30 30px,#6ffa31 36px,#6efa32 42px,#6cfa33 48px,#6bfa34 54px,#69fa35 60px,#67fa36 66px,#5efa3c 72px,#5afa3f 78px,#57fa42 84px,#54fa44 90px,#51fa46 96px,#4ffa48 102px,#4dfa4a 108px,#4bfa4c 114px,#4afa4d 120px,#48fa4f 126px,#46fa51 132px,#44fa53 138px,#42fa55 144px,#40fa57 150px,#3ffa58 156px,#40fa58 162px,#41fa56 168px,#43fa54 174px,#46fa51 180px,#4bfa4c 186px,#55fa44 192px,#62fa39 198px,#76fa2d 204px,#8ffa22 210px,#b0fa17 216px,#d9fa0f 222px,#fcf00d 228px,#fcd10d 234px,#fcc80d 236px)"></i><i style="background:linear-gradient(90deg,#81fa27 0px,#80fa28 6px,#7efa29 12px,#7cfa2a 18px,#7afa2b 24px,#78fa2c 30px,#76fa2d 36px,#74fa2e 42px,#73fa2f 48px,#71fa30 54px,#70fa31 60px,#6dfa32 66px,#65fa37 72px,#62fa3a 78px,#5efa3c 84px,#5bfa3f 90px,#58fa41 96px,#56fa43 102px,#53fa45 108px,#52fa46 114px,#50fa47 120px,#4ffa49 126px,#4dfa4a 132px,#4bfa4c 138px,#49fa4e 144px,#47fa50 150px,#46fa51 156px,#47fa50 162px,#48fa4f 168px,#4bfa4c 174px,#4ffa49 180px,#55fa43 186px,#5ffa3b 192px,#6ffa31 198px,#83fa27 204px,#9dfa1c 210px,#bdfa14 216px,#e8fa0e 222px,#fce70d 228px,#fcc80d 234px,#fcbf0d 236px)"></i><i style="background:linear-gradient(90deg,#88fa24 0px,#87fa25 6px,#85fa26 12px,#83fa27 18px,#81fa28 24px,#7ffa29 30px,#7dfa2a 36px,#7bfa2b 42px,#79fa2b 48px,#78fa2c 54px,#76fa2d 60px,#74fa2f 66px,#6cfa33 72px,#69fa35 78px,#65fa37 84px,#62fa39 90px,#5ffa3c 96px,#5cfa3e 102px,#5afa3f 108px,#58fa41 114px,#57fa42 120px,#55fa43 126px,#53fa45 132px,#51fa46 138px,#50fa48 144px,#4efa49 150px,#4efa4a 156px,#4efa49 162px,#50fa47 168px,#53fa45 174px,#58fa41 180px,#5ffa3c 186px,#6bfa34 192px,#7bfa2a 198px,#91fa21 204px,#aafa18 210px,#cbfa11 216px,#f8fa0d 222px,#fcde0d 228px,#fcbf0d 234px,#fcb60d 236px)"></i><i style="background:linear-gradient(90deg,#90fa21 0px,#8ffa21 6px,#8dfa22 12px,#8afa23 18px,#88fa24 24px,#86fa25 30px,#84fa26 36px,#82fa27 42px,#80fa28 48px,#7ffa29 54px,#7dfa29 60px,#7afa2b 66px,#74fa2e 72px,#71fa30 78px,#6dfa32 84px,#69fa35 90px,#66fa37 96px,#63fa39 102px,#61fa3a 108px,#5ffa3c 114px,#5dfa3d 120px,#5cfa3e 126px,#5afa3f 132px,#59fa40 138px,#57fa42 144px,#56fa43 150px,#55fa43 156px,#56fa42 162px,#58fa41 168px,#5cfa3e 174px,#61fa3a 180px,#69fa34 186px,#77fa2d 192px,#89fa24 198px,#9efa1c 204px,#b7fa15 210px,#d9fa0f 216px,#fcf40d 222px,#fcd50d 228px,#fcb60d 234px,#fcad0d 236px)"></i><i style="background:linear-gradient(90deg,#99fa1e 0px,#98fa1e 6px,#95fa1f 12px,#93fa20 18px,#90fa21 24px,#8dfa22 30px,#8bfa23 36px,#89fa24 42px,#87fa25 48px,#86fa25 54px,#84fa26 60px,#81fa27 66px,#7cfa2a 72px,#79fa2c 78px,#75fa2e 84px,#71fa30 90px,#6efa32 96px,#6bfa34 102px,#68fa35 108px,#66fa37 114px,#64fa38 120px,#63fa39 126px,#62fa3a 132px,#60fa3b 138px,#5ffa3c 144px,#5efa3c 150px,#5dfa3d 156px,#5efa3c 162px,#61fa3a 168px,#65fa37 174px,#6bfa33 180px,#75fa2e 186px,#83fa26 192px,#96fa1f 198px,#abfa18 204px,#c4fa12 210px,#e7fa0e 216px,#fceb0d 222px,#fccc0d 228px,#fcae0d 234px,#fca50d 236px)"></i><i style="background:linear-gradient(90deg,#a4fa1a 0px,#a2fa1b 6px,#9ffa1c 12px,#9cfa1d 18px,#98fa1e 24px,#95fa1f 30px,#93fa20 36px,#91fa21 42px,#8ffa21 48px,#8dfa22 54px,#8cfa23 60px,#89fa24 66px,#84fa26 72px,#81fa28 78px,#7dfa29 84px,#79fa2b 90px,#76fa2d 96px,#72fa2f 102px,#6ffa31 108px,#6dfa32 114px,#6cfa33 120px,#6bfa34 126px,#69fa35 132px,#68fa35 138px,#67fa36 144px,#66fa37 150px,#66fa37 156px,#67fa36 162px,#6afa34 168px,#6ffa31 174px,#76fa2d 180px,#81fa28 186px,#90fa21 192px,#a3fa1a 198px,#b8fa15 204px,#d1fa10 210px,#f7fa0d 216px,#fce20d 222px,#fcc30d 228px,#fca50d 234px,#fc9c0d 236px)"></i><i style="background:linear-gradient(90deg,#b1fa17 0px,#aefa17 6px,#abfa18 12px,#a6fa19 18px,#a2fa1b 24px,#9efa1c 30px,#9cfa1d 36px,#99fa1e 42px,#97fa1e 48px,#95fa1f 54px,#93fa20 60px,#91fa21 66px,#8dfa22 72px,#8afa24 78px,#86fa25 84px,#82fa27 90px,#7efa29 96px,#7afa2b 102px,#77fa2d 108px,#75fa2e 114px,#73fa2f 120px,#72fa2f 126px,#71fa30 132px,#70fa30 138px,#6ffa31 144px,#6ffa31 150px,#6ffa31 156px,#70fa30 162px,#74fa2e 168px,#79fa2c 174px,#81fa28 180px,#8dfa22 186px,#9dfa1c 192px,#b0fa17 198px,#c5fa12 204px,#dffa0e 210px,#fcf40d 216px,#fcd80d 222px,#fcba0d 228px,#fc9c0d 234px,#fc930d 236px)"></i><i style="background:linear-gradient(90deg,#bffa13 0px,#bcfa14 6px,#b8fa15 12px,#b2fa16 18px,#adfa17 24px,#a9fa19 30px,#a5fa1a 36px,#a3fa1b 42px,#a0fa1b 48px,#9efa1c 54px,#9cfa1d 60px,#99fa1e 66px,#96fa1f 72px,#93fa20 78px,#8ffa22 84px,#8afa23 90px,#86fa25 96px,#82fa27 102px,#7ffa28 108px,#7dfa2a 114px,#7bfa2a 120px,#7afa2b 126px,#7afa2b 132px,#79fa2c 138px,#78fa2c 144px,#78fa2c 150px,#78fa2c 156px,#7afa2b 162px,#7efa29 168px,#84fa26 174px,#8dfa22 180px,#99fa1e 186px,#aafa18 192px,#bdfa14 198px,#d2fa10 204px,#eefa0d 210px,#fceb0d 216px,#fccf0d 222px,#fcb00d 228px,#fc930d 234px,#fc8a0d 236px)"></i><i style="background:linear-gradient(90deg,#d0fa10 0px,#cdfa11 6px,#c7fa12 12px,#c0fa13 18px,#bafa14 24px,#b4fa16 30px,#b0fa17 36px,#adfa17 42px,#aafa18 48px,#a8fa19 54px,#a5fa1a 60px,#a3fa1a 66px,#9ffa1c 72px,#9cfa1d 78px,#98fa1e 84px,#93fa20 90px,#8ffa21 96px,#8bfa23 102px,#88fa25 108px,#85fa26 114px,#84fa26 120px,#83fa27 126px,#82fa27 132px,#82fa27 138px,#82fa27 144px,#82fa27 150px,#82fa27 156px,#84fa26 162px,#88fa24 168px,#8ffa21 174px,#99fa1e 180px,#a6fa19 186px,#b7fa15 192px,#cafa11 198px,#e0fa0e 204px,#fcf90d 210px,#fce10d 216px,#fcc50d 222px,#fca70d 228px,#fc8a0d 234px,#fc820d 236px)"></i><i style="background:linear-gradient(90deg,#e3fa0e 0px,#defa0e 6px,#d7fa0f 12px,#cffa10 18px,#c8fa12 24px,#c1fa13 30px,#bcfa14 36px,#b9fa15 42px,#b5fa15 48px,#b2fa16 54px,#b0fa17 60px,#adfa18 66px,#aafa18 72px,#a6fa19 78px,#a2fa1b 84px,#9dfa1c 90px,#98fa1e 96px,#94fa20 102px,#90fa21 108px,#8efa22 114px,#8cfa23 120px,#8cfa23 126px,#8bfa23 132px,#8bfa23 138px,#8bfa23 144px,#8cfa23 150px,#8cfa23 156px,#8efa22 162px,#93fa20 168px,#9bfa1d 174px,#a5fa1a 180px,#b3fa16 186px,#c4fa12 192px,#d8fa0f 198px,#effa0d 204px,#fcf00d 210px,#fcd70d 216px,#fcbb0d 222px,#fc9e0d 228px,#fc810d 234px,#fc790d 236px)"></i><i style="background:linear-gradient(90deg,#f8fa0d 0px,#f2fa0d 6px,#eafa0d 12px,#e0fa0e 18px,#d6fa0f 24px,#cffa10 30px,#c9fa11 36px,#c5fa12 42px,#c1fa13 48px,#befa13 54px,#bbfa14 60px,#b8fa15 66px,#b4fa16 72px,#b1fa17 78px,#acfa18 84px,#a7fa19 90px,#a2fa1b 96px,#9dfa1c 102px,#99fa1e 108px,#97fa1f 114px,#95fa1f 120px,#95fa1f 126px,#95fa1f 132px,#95fa1f 138px,#95fa1f 144px,#96fa1f 150px,#97fa1e 156px,#99fa1e 162px,#9efa1c 168px,#a7fa19 174px,#b2fa16 180px,#c0fa13 186px,#d2fa10 192px,#e6fa0e 198px,#fcf80d 204px,#fce60d 210px,#fccd0d 216px,#fcb10d 222px,#fc940d 228px,#fc780d 234px,#fc710d 236px)"></i><i style="background:linear-gradient(90deg,#fcf10d 0px,#fcf40d 6px,#fcf90d 12px,#f2fa0d 18px,#e7fa0e 24px,#ddfa0f 30px,#d7fa0f 36px,#d2fa10 42px,#cefa11 48px,#cafa11 54px,#c7fa12 60px,#c3fa12 66px,#c0fa13 72px,#bcfa14 78px,#b7fa15 84px,#b2fa16 90px,#acfa18 96px,#a7fa19 102px,#a3fa1a 108px,#a0fa1b 114px,#9ffa1c 120px,#9efa1c 126px,#9ffa1c 132px,#9ffa1c 138px,#a0fa1b 144px,#a1fa1b 150px,#a2fa1b 156px,#a4fa1a 162px,#aafa18 168px,#b3fa16 174px,#bffa13 180px,#cefa10 186px,#e0fa0e 192px,#f6fa0d 198px,#fcef0d 204px,#fcdc0d 210px,#fcc30d 216px,#fca70d 222px,#fc8b0d 228px,#fc700d 234px,#fc680d 236px)"></i><i style="background:linear-gradient(90deg,#fce50d 0px,#fce80d 6px,#fcee0d 12px,#fcf60d 18px,#f8fa0d 24px,#edfa0d 30px,#e6fa0e 36px,#e0fa0e 42px,#dbfa0f 48px,#d7fa0f 54px,#d3fa10 60px,#cffa10 66px,#cbfa11 72px,#c7fa12 78px,#c2fa13 84px,#bdfa14 90px,#b7fa15 96px,#b2fa16 102px,#aefa17 108px,#aafa18 114px,#a9fa19 120px,#a9fa19 126px,#a9fa19 132px,#a9fa18 138px,#aafa18 144px,#acfa18 150px,#adfa17 156px,#b0fa17 162px,#b7fa15 168px,#c0fa13 174px,#cdfa11 180px,#ddfa0f 186px,#f0fa0d 192px,#fcf40d 198px,#fce50d 204px,#fcd10d 210px,#fcb80d 216px,#fc9d0d 222px,#fc810d 228px,#fc680d 234px,#fc610d 236px)"></i><i style="background:linear-gradient(90deg,#fcd80d 0px,#fcdc0d 6px,#fce30d 12px,#fceb0d 18px,#fcf30d 24px,#fcf90d 30px,#f6fa0d 36px,#effa0d 42px,#e9fa0d 48px,#e5fa0e 54px,#e0fa0e 60px,#dcfa0f 66px,#d8fa0f 72px,#d3fa10 78px,#cefa11 84px,#c8fa12 90px,#c2fa13 96px,#bdfa14 102px,#b8fa15 108px,#b5fa15 114px,#b4fa16 120px,#b3fa16 126px,#b4fa16 132px,#b5fa16 138px,#b6fa15 144px,#b7fa15 150px,#b9fa14 156px,#bcfa14 162px,#c3fa12 168px,#cefa11 174px,#dcfa0f 180px,#ecfa0d 186px,#fcf80d 192px,#fceb0d 198px,#fcda0d 204px,#fcc60d 210px,#fcae0d 216px,#fc930d 222px,#fc780d 228px,#fc600d 234px,#fc590d 236px)"></i><i style="background:linear-gradient(90deg,#fccb0d 0px,#fcd00d 6px,#fcd70d 12px,#fce00d 18px,#fce90d 24px,#fcf00d 30px,#fcf50d 36px,#fcf90d 42px,#f9fa0d 48px,#f3fa0d 54px,#eefa0d 60px,#e9fa0d 66px,#e5fa0e 72px,#e0fa0e 78px,#dafa0f 84px,#d4fa10 90px,#cefa11 96px,#c8fa11 102px,#c4fa12 108px,#c0fa13 114px,#bffa13 120px,#bffa13 126px,#bffa13 132px,#c0fa13 138px,#c1fa13 144px,#c3fa12 150px,#c5fa12 156px,#c9fa11 162px,#d1fa10 168px,#dcfa0f 174px,#ebfa0d 180px,#fcfa0d 186px,#fcef0d 192px,#fce10d 198px,#fcd00d 204px,#fcbc0d 210px,#fca30d 216px,#fc890d 222px,#fc6f0d 228px,#fc580d 234px,#fc520d 236px)"></i><i style="background:linear-gradient(90deg,#fcbe0d 0px,#fcc30d 6px,#fccc0d 12px,#fcd50d 18px,#fcdf0d 24px,#fce60d 30px,#fcec0d 36px,#fcf00d 42px,#fcf40d 48px,#fcf70d 54px,#fcfa0d 60px,#f8fa0d 66px,#f2fa0d 72px,#edfa0d 78px,#e7fa0e 84px,#e0fa0e 90px,#dafa0f 96px,#d4fa10 102px,#d0fa10 108px,#ccfa11 114px,#cafa11 120px,#cafa11 126px,#cbfa11 132px,#ccfa11 138px,#cdfa11 144px,#cffa10 150px,#d2fa10 156px,#d6fa0f 162px,#dffa0e 168px,#ecfa0d 174px,#fbfa0d 180px,#fcf10d 186px,#fce50d 192px,#fcd60d 198px,#fcc50d 204px,#fcb10d 210px,#fc980d 216px,#fc7f0d 222px,#fc660d 228px,#fc510d 234px,#fc4b0d 236px)"></i><i style="background:linear-gradient(90deg,#fcb10d 0px,#fcb70d 6px,#fcc00d 12px,#fcca0d 18px,#fcd40d 24px,#fcdc0d 30px,#fce20d 36px,#fce70d 42px,#fceb0d 48px,#fcef0d 54px,#fcf20d 60px,#fcf50d 66px,#fcf80d 72px,#fbfa0d 78px,#f5fa0d 84px,#eefa0d 90px,#e7fa0e 96px,#e1fa0e 102px,#dcfa0f 108px,#d8fa0f 114px,#d7fa0f 120px,#d7fa0f 126px,#d7fa0f 132px,#d8fa0f 138px,#dafa0f 144px,#dcfa0f 150px,#dffa0e 156px,#e4fa0e 162px,#eefa0d 168px,#fcfa0d 174px,#fcf20d 180px,#fce70d 186px,#fcdb0d 192px,#fccc0d 198px,#fcba0d 204px,#fca60d 210px,#fc8e0d 216px,#fc750d 222px,#fc5d0d 228px,#fc4a0d 234px,#fc450d 236px)"></i><i style="background:linear-gradient(90deg,#fca50d 0px,#fcab0d 6px,#fcb40d 12px,#fcbf0d 18px,#fcca0d 24px,#fcd30d 30px,#fcd90d 36px,#fcde0d 42px,#fce20d 48px,#fce60d 54px,#fcea0d 60px,#fced0d 66px,#fcf00d 72px,#fcf30d 78px,#fcf60d 84px,#fcfa0d 90px,#f5fa0d 96px,#eefa0d 102px,#e9fa0d 108px,#e5fa0e 114px,#e3fa0e 120px,#e3fa0e 126px,#e4fa0e 132px,#e6fa0e 138px,#e7fa0e 144px,#eafa0d 150px,#edfa0d 156px,#f2fa0d 162px,#fcf90d 168px,#fcf20d 174px,#fce90d 180px,#fcde0d 186px,#fcd10d 192px,#fcc20d 198px,#fcb00d 204px,#fc9b0d 210px,#fc830d 216px,#fc6b0d 222px,#fc560d 228px,#fc430d 234px,#fc3e0d 236px)"></i><i style="background:linear-gradient(90deg,#fc990d 0px,#fc9f0d 6px,#fca90d 12px,#fcb40d 18px,#fcbf0d 24px,#fcc90d 30px,#fccf0d 36px,#fcd50d 42px,#fcd90d 48px,#fcdd0d 54px,#fce10d 60px,#fce50d 66px,#fce80d 72px,#fceb0d 78px,#fcef0d 84px,#fcf30d 90px,#fcf60d 96px,#fcfa0d 102px,#f7fa0d 108px,#f3fa0d 114px,#f1fa0d 120px,#f1fa0d 126px,#f2fa0d 132px,#f4fa0d 138px,#f6fa0d 144px,#f9fa0d 150px,#fcfa0d 156px,#fcf70d 162px,#fcf10d 168px,#fce90d 174px,#fcdf0d 180px,#fcd40d 186px,#fcc70d 192px,#fcb70d 198px,#fca50d 204px,#fc900d 210px,#fc780d 216px,#fc620d 222px,#fc4e0d 228px,#fc3c0d 234px,#fc370d 236px)"></i><i style="background:linear-gradient(90deg,#fc8e0d 0px,#fc940d 6px,#fc9d0d 12px,#fca90d 18px,#fcb50d 24px,#fcbf0d 30px,#fcc60d 36px,#fccb0d 42px,#fcd00d 48px,#fcd50d 54px,#fcd90d 60px,#fcdc0d 66px,#fce00d 72px,#fce30d 78px,#fce70d 84px,#fceb0d 90px,#fcef0d 96px,#fcf20d 102px,#fcf50d 108px,#fcf70d 114px,#fcf80d 120px,#fcf80d 126px,#fcf80d 132px,#fcf70d 138px,#fcf60d 144px,#fcf40d 150px,#fcf20d 156px,#fcef0d 162px,#fce80d 168px,#fce00d 174px,#fcd60d 180px,#fcca0d 186px,#fcbd0d 192px,#fcac0d 198px,#fc9a0d 204px,#fc840d 210px,#fc6e0d 216px,#fc590d 222px,#fc470d 228px,#fc360d 234px,#fc310d 236px)"></i><i style="background:linear-gradient(90deg,#fc830d 0px,#fc890d 6px,#fc930d 12px,#fc9f0d 18px,#fcab0d 24px,#fcb50d 30px,#fcbc0d 36px,#fcc20d 42px,#fcc70d 48px,#fccc0d 54px,#fcd00d 60px,#fcd40d 66px,#fcd70d 72px,#fcdb0d 78px,#fcdf0d 84px,#fce20d 90px,#fce60d 96px,#fcea0d 102px,#fced0d 108px,#fcef0d 114px,#fcf00d 120px,#fcf00d 126px,#fcf00d 132px,#fcef0d 138px,#fced0d 144px,#fcec0d 150px,#fcea0d 156px,#fce60d 162px,#fce00d 168px,#fcd60d 174px,#fccc0d 180px,#fcc00d 186px,#fcb20d 192px,#fca20d 198px,#fc8f0d 204px,#fc790d 210px,#fc640d 216px,#fc510d 222px,#fc400d 228px,#fc300d 234px,#fc2c0d 236px)"></i><i style="background:linear-gradient(90deg,#fc780d 0px,#fc7e0d 6px,#fc880d 12px,#fc950d 18px,#fca10d 24px,#fcab0d 30px,#fcb30d 36px,#fcb90d 42px,#fcbe0d 48px,#fcc30d 54px,#fcc70d 60px,#fccb0d 66px,#fccf0d 72px,#fcd20d 78px,#fcd60d 84px,#fcda0d 90px,#fcde0d 96px,#fce20d 102px,#fce50d 108px,#fce70d 114px,#fce80d 120px,#fce80d 126px,#fce70d 132px,#fce60d 138px,#fce50d 144px,#fce30d 150px,#fce10d 156px,#fcde0d 162px,#fcd70d 168px,#fccd0d 174px,#fcc30d 180px,#fcb60d 186px,#fca80d 192px,#fc970d 198px,#fc830d 204px,#fc6e0d 210px,#fc5a0d 216px,#fc490d 222px,#fc390d 228px,#fc2a0d 234px,#fc270d 236px)"></i><i style="background:linear-gradient(90deg,#fc6d0d 0px,#fc730d 6px,#fc7e0d 12px,#fc8b0d 18px,#fc970d 24px,#fca20d 30px,#fcaa0d 36px,#fcb00d 42px,#fcb50d 48px,#fcba0d 54px,#fcbf0d 60px,#fcc30d 66px,#fcc70d 72px,#fcca0d 78px,#fcce0d 84px,#fcd20d 90px,#fcd60d 96px,#fcd90d 102px,#fcdc0d 108px,#fcde0d 114px,#fcdf0d 120px,#fcdf0d 126px,#fcdf0d 132px,#fcde0d 138px,#fcdc0d 144px,#fcdb0d 150px,#fcd80d 156px,#fcd50d 162px,#fcce0d 168px,#fcc40d 174px,#fcb90d 180px,#fcad0d 186px,#fc9e0d 192px,#fc8c0d 198px,#fc780d 204px,#fc640d 210px,#fc520d 216px,#fc410d 222px,#fc320d 228px,#fc250d 234px,#fc220d 236px)"></i><i style="background:linear-gradient(90deg,#fc620d 0px,#fc680d 6px,#fc740d 12px,#fc810d 18px,#fc8e0d 24px,#fc990d 30px,#fca00d 36px,#fca70d 42px,#fcad0d 48px,#fcb20d 54px,#fcb60d 60px,#fcba0d 66px,#fcbe0d 72px,#fcc20d 78px,#fcc50d 84px,#fcc90d 90px,#fccd0d 96px,#fcd10d 102px,#fcd40d 108px,#fcd60d 114px,#fcd70d 120px,#fcd70d 126px,#fcd60d 132px,#fcd50d 138px,#fcd40d 144px,#fcd20d 150px,#fcd00d 156px,#fccc0d 162px,#fcc50d 168px,#fcbb0d 174px,#fcb00d 180px,#fca30d 186px,#fc940d 192px,#fc820d 198px,#fc6e0d 204px,#fc5a0d 210px,#fc490d 216px,#fc3a0d 222px,#fc2c0d 228px,#fc210d 234px,#fc1e0d 236px)"></i><i style="background:linear-gradient(90deg,#fc570d 0px,#fc5e0d 6px,#fc6a0d 12px,#fc770d 18px,#fc850d 24px,#fc900d 30px,#fc980d 36px,#fc9e0d 42px,#fca40d 48px,#fca90d 54px,#fcae0d 60px,#fcb20d 66px,#fcb60d 72px,#fcb90d 78px,#fcbd0d 84px,#fcc10d 90px,#fcc50d 96px,#fcc80d 102px,#fccb0d 108px,#fccd0d 114px,#fcce0d 120px,#fcce0d 126px,#fccd0d 132px,#fccc0d 138px,#fccb0d 144px,#fcc90d 150px,#fcc70d 156px,#fcc40d 162px,#fcbc0d 168px,#fcb10d 174px,#fca60d 180px,#fc990d 186px,#fc890d 192px,#fc770d 198px,#fc640d 204px,#fc510d 210px,#fc410d 216px,#fc330d 222px,#fc270d 228px,#fc1d0d 234px,#fc1a0d 236px)"></i><i style="background:linear-gradient(90deg,#fc4c0d 0px,#fc530d 6px,#fc600d 12px,#fc6e0d 18px,#fc7c0d 24px,#fc870d 30px,#fc8f0d 36px,#fc960d 42px,#fc9c0d 48px,#fca10d 54px,#fca60d 60px,#fcaa0d 66px,#fcae0d 72px,#fcb10d 78px,#fcb50d 84px,#fcb90d 90px,#fcbd0d 96px,#fcc00d 102px,#fcc30d 108px,#fcc50d 114px,#fcc60d 120px,#fcc60d 126px,#fcc50d 132px,#fcc40d 138px,#fcc30d 144px,#fcc10d 150px,#fcbf0d 156px,#fcbb0d 162px,#fcb30d 168px,#fca90d 174px,#fc9d0d 180px,#fc900d 186px,#fc800d 192px,#fc6d0d 198px,#fc5a0d 204px,#fc480d 210px,#fc3a0d 216px,#fc2d0d 222px,#fc220d 228px,#fc190d 234px,#fc160d 236px)"></i><i style="background:linear-gradient(90deg,#fc420d 0px,#fc490d 6px,#fc560d 12px,#fc650d 18px,#fc740d 24px,#fc800d 30px,#fc880d 36px,#fc8f0d 42px,#fc950d 48px,#fc9a0d 54px,#fc9f0d 60px,#fca30d 66px,#fca70d 72px,#fcaa0d 78px,#fcae0d 84px,#fcb10d 90px,#fcb50d 96px,#fcb80d 102px,#fcbb0d 108px,#fcbd0d 114px,#fcbe0d 120px,#fcbe0d 126px,#fcbd0d 132px,#fcbc0d 138px,#fcbb0d 144px,#fcb90d 150px,#fcb70d 156px,#fcb30d 162px,#fcab0d 168px,#fca00d 174px,#fc950d 180px,#fc870d 186px,#fc760d 192px,#fc640d 198px,#fc510d 204px,#fc400d 210px,#fc330d 216px,#fc280d 222px,#fc1f0d 228px,#fc150d 234px,#fc120d 236px)"></i><i style="background:linear-gradient(90deg,#fc390d 0px,#fc400d 6px,#fc4e0d 12px,#fc5e0d 18px,#fc6d0d 24px,#fc790d 30px,#fc810d 36px,#fc880d 42px,#fc8e0d 48px,#fc940d 54px,#fc990d 60px,#fc9d0d 66px,#fca00d 72px,#fca40d 78px,#fca70d 84px,#fcab0d 90px,#fcae0d 96px,#fcb20d 102px,#fcb40d 108px,#fcb60d 114px,#fcb70d 120px,#fcb70d 126px,#fcb60d 132px,#fcb50d 138px,#fcb40d 144px,#fcb20d 150px,#fcb00d 156px,#fcac0d 162px,#fca40d 168px,#fc990d 174px,#fc8d0d 180px,#fc7f0d 186px,#fc6f0d 192px,#fc5c0d 198px,#fc4a0d 204px,#fc3a0d 210px,#fc2d0d 216px,#fc240d 222px,#fc1b0d 228px,#fc120d 234px,#fc0f0d 236px)"></i></div>
<div id="cb"></div>
<svg width="380" height="313" viewBox="0 0 380 313">
<line x1="29.5" y1="1.9" x2="267.5" y2="1.9" stroke="#929292" stroke-width="1"/>
<line x1="267.5" y1="2" x2="267.5" y2="166.5" stroke="#6a666a" stroke-width="1.2"/>
<line x1="29.5" y1="166.6" x2="267.5" y2="166.6" stroke="#999" stroke-width="1"/>
<rect x="268.4" y="1.9" width="78.9" height="165.1" fill="#fff" stroke="#929292" stroke-width="1"/>
<rect x="29.7" y="169.3" width="237.5" height="120.8" fill="#fff" stroke="#929292" stroke-width="1"/>
<line x1="29.5" y1="26.7" x2="31.5" y2="26.7" stroke="#222" stroke-width="0.8"/>
<line x1="265.4" y1="26.7" x2="267.4" y2="26.7" stroke="#444" stroke-width="0.8"/>
<line x1="268.6" y1="26.7" x2="270.6" y2="26.7" stroke="#929292" stroke-width="0.8"/>
<line x1="345.3" y1="26.7" x2="347.3" y2="26.7" stroke="#929292" stroke-width="0.8"/>
<text x="27.6" y="29.45" font-size="7.9" text-anchor="end" fill="#000"  stroke="#000" stroke-width="0.3">1450</text>
<text x="349.6" y="29.45" font-size="7.9" text-anchor="start" fill="#000"  stroke="#000" stroke-width="0.3">1450</text>
<line x1="29.5" y1="50.55" x2="31.5" y2="50.55" stroke="#222" stroke-width="0.8"/>
<line x1="265.4" y1="50.55" x2="267.4" y2="50.55" stroke="#444" stroke-width="0.8"/>
<line x1="268.6" y1="50.55" x2="270.6" y2="50.55" stroke="#929292" stroke-width="0.8"/>
<line x1="345.3" y1="50.55" x2="347.3" y2="50.55" stroke="#929292" stroke-width="0.8"/>
<text x="27.6" y="53.3" font-size="7.9" text-anchor="end" fill="#000"  stroke="#000" stroke-width="0.3">1400</text>
<text x="349.6" y="53.3" font-size="7.9" text-anchor="start" fill="#000"  stroke="#000" stroke-width="0.3">1400</text>
<line x1="29.5" y1="74.4" x2="31.5" y2="74.4" stroke="#222" stroke-width="0.8"/>
<line x1="265.4" y1="74.4" x2="267.4" y2="74.4" stroke="#444" stroke-width="0.8"/>
<line x1="268.6" y1="74.4" x2="270.6" y2="74.4" stroke="#929292" stroke-width="0.8"/>
<line x1="345.3" y1="74.4" x2="347.3" y2="74.4" stroke="#929292" stroke-width="0.8"/>
<text x="27.6" y="77.15" font-size="7.9" text-anchor="end" fill="#000"  stroke="#000" stroke-width="0.3">1350</text>
<text x="349.6" y="77.15" font-size="7.9" text-anchor="start" fill="#000"  stroke="#000" stroke-width="0.3">1350</text>
<line x1="29.5" y1="98.25000000000001" x2="31.5" y2="98.25000000000001" stroke="#222" stroke-width="0.8"/>
<line x1="265.4" y1="98.25000000000001" x2="267.4" y2="98.25000000000001" stroke="#444" stroke-width="0.8"/>
<line x1="268.6" y1="98.25000000000001" x2="270.6" y2="98.25000000000001" stroke="#929292" stroke-width="0.8"/>
<line x1="345.3" y1="98.25000000000001" x2="347.3" y2="98.25000000000001" stroke="#929292" stroke-width="0.8"/>
<text x="27.6" y="101.0" font-size="7.9" text-anchor="end" fill="#000"  stroke="#000" stroke-width="0.3">1300</text>
<text x="349.6" y="101.0" font-size="7.9" text-anchor="start" fill="#000"  stroke="#000" stroke-width="0.3">1300</text>
<line x1="29.5" y1="122.10000000000001" x2="31.5" y2="122.10000000000001" stroke="#222" stroke-width="0.8"/>
<line x1="265.4" y1="122.10000000000001" x2="267.4" y2="122.10000000000001" stroke="#444" stroke-width="0.8"/>
<line x1="268.6" y1="122.10000000000001" x2="270.6" y2="122.10000000000001" stroke="#929292" stroke-width="0.8"/>
<line x1="345.3" y1="122.10000000000001" x2="347.3" y2="122.10000000000001" stroke="#929292" stroke-width="0.8"/>
<text x="27.6" y="124.85" font-size="7.9" text-anchor="end" fill="#000"  stroke="#000" stroke-width="0.3">1250</text>
<text x="349.6" y="124.85" font-size="7.9" text-anchor="start" fill="#000"  stroke="#000" stroke-width="0.3">1250</text>
<line x1="29.5" y1="145.95" x2="31.5" y2="145.95" stroke="#222" stroke-width="0.8"/>
<line x1="265.4" y1="145.95" x2="267.4" y2="145.95" stroke="#444" stroke-width="0.8"/>
<line x1="268.6" y1="145.95" x2="270.6" y2="145.95" stroke="#929292" stroke-width="0.8"/>
<line x1="345.3" y1="145.95" x2="347.3" y2="145.95" stroke="#929292" stroke-width="0.8"/>
<text x="27.6" y="148.7" font-size="7.9" text-anchor="end" fill="#000"  stroke="#000" stroke-width="0.3">1200</text>
<text x="349.6" y="148.7" font-size="7.9" text-anchor="start" fill="#000"  stroke="#000" stroke-width="0.3">1200</text>
<text transform="translate(6.4,86.5) rotate(-90)" font-size="7.9" text-anchor="middle" stroke="#000" stroke-width="0.3">wavelength / nm</text>
<text transform="translate(371.7,86) rotate(90)" font-size="7.9" text-anchor="middle" stroke="#000" stroke-width="0.3">wavelength / nm</text>
<line x1="288.09999999999997" y1="165" x2="288.09999999999997" y2="167" stroke="#929292" stroke-width="0.8"/>
<line x1="288.09999999999997" y1="1.9" x2="288.09999999999997" y2="3.9" stroke="#929292" stroke-width="0.8"/>
<text x="287.3" y="177.05" font-size="7.9" text-anchor="middle" fill="#000"  stroke="#000" stroke-width="0.3">0.25</text>
<line x1="307.29999999999995" y1="165" x2="307.29999999999995" y2="167" stroke="#929292" stroke-width="0.8"/>
<line x1="307.29999999999995" y1="1.9" x2="307.29999999999995" y2="3.9" stroke="#929292" stroke-width="0.8"/>
<text x="306.5" y="177.05" font-size="7.9" text-anchor="middle" fill="#000"  stroke="#000" stroke-width="0.3">0.5</text>
<line x1="326.5" y1="165" x2="326.5" y2="167" stroke="#929292" stroke-width="0.8"/>
<line x1="326.5" y1="1.9" x2="326.5" y2="3.9" stroke="#929292" stroke-width="0.8"/>
<text x="325.7" y="177.05" font-size="7.9" text-anchor="middle" fill="#000"  stroke="#000" stroke-width="0.3">0.75</text>
<line x1="345.7" y1="165" x2="345.7" y2="167" stroke="#929292" stroke-width="0.8"/>
<line x1="345.7" y1="1.9" x2="345.7" y2="3.9" stroke="#929292" stroke-width="0.8"/>
<text x="345.7" y="177.05" font-size="7.9" text-anchor="middle" fill="#000"  stroke="#000" stroke-width="0.3">1</text>
<text x="307.2" y="189.95" font-size="8.2" text-anchor="middle" fill="#000"  stroke="#000" stroke-width="0.3">ΔT/T (norm.)</text>
<g clip-path="url(#cpR)">
<polyline points="280.0,2.5 281.1,4.8 282.1,7.1 283.1,9.5 284.1,11.8 285.1,14.2 286.0,16.5 286.9,18.9 287.8,21.3 288.7,23.7 289.6,26.1 290.6,28.4 291.5,30.8 292.4,33.2 293.4,35.6 294.4,37.9 295.5,40.2 296.7,42.5 298.0,44.7 299.4,46.8 300.9,48.8 302.6,50.7 304.3,52.6 306.0,54.5 307.8,56.3 309.6,58.2 311.3,60.0 313.1,61.9 314.8,63.8 316.5,65.7 318.2,67.6 319.8,69.5 321.5,71.4 323.2,73.4 324.9,75.3 326.6,77.2 328.3,79.0 330.1,80.9 331.9,82.7 333.7,84.5 335.6,86.2 337.5,87.9 339.4,89.6 341.1,91.4 342.7,93.5 344.1,95.7 345.2,98.0 345.9,100.5 346.1,103.0 345.8,105.5 345.2,108.0 344.4,110.5 343.4,112.9 342.4,115.3 341.3,117.6 340.2,119.8 338.9,122.0 337.5,124.2 336.1,126.3 334.5,128.3 332.8,130.3 331.0,132.1 329.1,133.7 327.0,135.2 324.8,136.6 322.7,138.0 320.6,139.5 318.8,141.2 317.2,143.2 315.7,145.3 314.2,147.3 312.6,149.4 311.1,151.4 309.5,153.4 308.0,155.4 306.6,157.6 305.3,159.7 304.0,161.9 302.8,164.2 301.7,166.5" fill="none" stroke="#f00" stroke-width="1.25" stroke-linejoin="round" />
<polyline points="288.0,2.5 288.4,3.4 288.7,4.3 289.1,5.2 289.5,6.1 289.9,7.0 290.3,7.9 290.7,8.8 291.2,9.7 291.6,10.5 292.1,11.4 292.5,12.2 293.0,13.1 293.5,13.9 294.0,14.8 294.5,15.6 295.0,16.4 295.5,17.3 296.0,18.1 296.6,18.9 297.1,19.7 297.6,20.5 298.2,21.3 298.8,22.1 299.3,22.9 299.9,23.7 300.5,24.5 301.1,25.3 301.6,26.1 302.2,26.8 302.8,27.6 303.4,28.4 304.0,29.2 304.7,29.9 305.3,30.7 305.9,31.4 306.5,32.2 307.1,32.9 307.8,33.7 308.4,34.4 309.0,35.2 309.7,35.9 310.3,36.6 311.0,37.4 311.6,38.1 312.3,38.8 312.9,39.5 313.6,40.3 314.2,41.0 314.9,41.7 315.6,42.4 316.2,43.1 316.9,43.8 317.6,44.5 318.3,45.2 319.0,45.9 319.7,46.6 320.4,47.2 321.1,47.9 321.8,48.6 322.5,49.3 323.2,50.0 323.9,50.6 324.6,51.3 325.3,52.0 325.9,52.7 326.6,53.4 327.3,54.1 328.0,54.8 328.6,55.5 329.3,56.2 329.9,57.0 330.6,57.7 331.2,58.5 331.8,59.2 332.4,60.0 333.0,60.8 333.6,61.6 334.2,62.3 334.7,63.1 335.3,63.9 335.8,64.7 336.4,65.6 336.9,66.4 337.4,67.2 338.0,68.0 338.5,68.9 339.0,69.7 339.4,70.6 339.9,71.4 340.4,72.3 340.8,73.1 341.3,74.0 341.7,74.9 342.1,75.8 342.5,76.7 342.9,77.6 343.2,78.5 343.6,79.4 343.9,80.3 344.2,81.3 344.5,82.2 344.8,83.1 345.1,84.1 345.3,85.1 345.5,86.0 345.7,87.0 345.8,88.0 345.9,88.9 346.0,89.9 346.1,90.9 346.1,91.9 346.0,92.8 345.9,93.8 345.8,94.8 345.6,95.7 345.4,96.7 345.2,97.6 344.9,98.6 344.5,99.5 344.2,100.4 343.8,101.3 343.4,102.2 342.9,103.1 342.4,103.9 341.9,104.7 341.4,105.6 340.9,106.4 340.3,107.2 339.8,108.0 339.2,108.8 338.7,109.6 338.1,110.4 337.5,111.2 337.0,112.0 336.5,112.8 335.9,113.7 335.4,114.5 334.9,115.3 334.4,116.1 333.9,117.0 333.4,117.8 332.9,118.7 332.4,119.5 331.9,120.4 331.5,121.2 331.0,122.0 330.5,122.9 330.0,123.7 329.5,124.6 329.0,125.4 328.5,126.2 328.0,127.1 327.4,127.9 326.9,128.7 326.4,129.5 325.8,130.3 325.3,131.1 324.7,131.9 324.2,132.7 323.6,133.6 323.1,134.4 322.5,135.2 322.0,136.0 321.5,136.8 320.9,137.6 320.4,138.4 319.9,139.3 319.4,140.1 318.9,140.9 318.4,141.7 317.9,142.6 317.3,143.4 316.8,144.2 316.3,145.1 315.8,145.9 315.3,146.7 314.7,147.5 314.2,148.3 313.7,149.2 313.1,150.0 312.5,150.8 312.0,151.6 311.4,152.4 310.8,153.2 310.3,154.0 309.7,154.8 309.2,155.6 308.7,156.5 308.2,157.3 307.8,158.2 307.3,159.0 306.9,159.9 306.5,160.8 306.2,161.7 305.9,162.6 305.7,163.5 305.5,164.5 305.3,165.5 305.2,166.5" fill="none" stroke="#f00" stroke-width="1.25" stroke-linejoin="round" />
<polyline points="345.7,2.5 345.6,3.4 345.5,4.3 345.4,5.2 345.2,6.0 345.1,6.9 344.9,7.8 344.7,8.6 344.5,9.5 344.3,10.4 344.0,11.2 343.8,12.1 343.5,12.9 343.3,13.7 343.0,14.6 342.7,15.4 342.4,16.2 342.1,17.1 341.8,17.9 341.5,18.7 341.2,19.6 340.9,20.4 340.6,21.2 340.3,22.0 339.9,22.9 339.6,23.7 339.3,24.5 339.0,25.3 338.7,26.2 338.4,27.0 338.1,27.8 337.8,28.6 337.5,29.5 337.2,30.3 336.9,31.1 336.6,32.0 336.3,32.8 336.1,33.7 335.8,34.5 335.5,35.3 335.2,36.2 335.0,37.0 334.7,37.9 334.4,38.7 334.2,39.5 333.9,40.4 333.6,41.2 333.4,42.1 333.1,42.9 332.8,43.7 332.5,44.6 332.3,45.4 332.0,46.3 331.7,47.1 331.4,47.9 331.2,48.8 330.9,49.6 330.6,50.4 330.3,51.3 330.0,52.1 329.7,52.9 329.5,53.8 329.2,54.6 328.9,55.5 328.6,56.3 328.3,57.1 328.0,58.0 327.7,58.8 327.4,59.6 327.2,60.5 326.9,61.3 326.6,62.1 326.3,63.0 326.0,63.8 325.7,64.6 325.5,65.5 325.2,66.3 324.9,67.2 324.6,68.0 324.4,68.8 324.1,69.7 323.8,70.5 323.6,71.4 323.3,72.2 323.1,73.1 322.8,73.9 322.6,74.8 322.4,75.6 322.1,76.5 321.9,77.3 321.6,78.2 321.4,79.0 321.1,79.9 320.8,80.7 320.6,81.5 320.3,82.4 320.0,83.2 319.7,84.0 319.4,84.8 319.0,85.7 318.7,86.5 318.3,87.3 318.0,88.1 317.6,88.9 317.2,89.7 316.8,90.5 316.4,91.3 316.0,92.0 315.6,92.8 315.2,93.6 314.8,94.4 314.3,95.2 313.9,95.9 313.5,96.7 313.1,97.5 312.7,98.3 312.3,99.1 311.8,99.8 311.4,100.6 311.0,101.4 310.6,102.2 310.2,103.0 309.8,103.8 309.4,104.6 309.0,105.3 308.6,106.1 308.2,106.9 307.8,107.7 307.5,108.5 307.1,109.3 306.7,110.1 306.3,110.9 305.9,111.7 305.5,112.4 305.1,113.2 304.7,114.0 304.3,114.8 303.9,115.6 303.5,116.4 303.1,117.2 302.7,118.0 302.3,118.8 301.9,119.5 301.5,120.3 301.1,121.1 300.7,121.9 300.4,122.7 300.0,123.5 299.6,124.3 299.3,125.1 298.9,125.9 298.5,126.7 298.2,127.6 297.9,128.4 297.5,129.2 297.2,130.0 296.9,130.8 296.5,131.6 296.2,132.5 295.9,133.3 295.5,134.1 295.2,134.9 294.9,135.7 294.6,136.6 294.3,137.4 293.9,138.2 293.6,139.0 293.3,139.9 292.9,140.7 292.6,141.5 292.3,142.3 291.9,143.1 291.6,143.9 291.3,144.8 290.9,145.6 290.6,146.4 290.3,147.2 289.9,148.0 289.6,148.8 289.3,149.7 289.0,150.5 288.6,151.3 288.3,152.1 288.0,153.0 287.7,153.8 287.4,154.6 287.1,155.4 286.8,156.3 286.5,157.1 286.3,157.9 286.0,158.8 285.7,159.6 285.5,160.5 285.2,161.3 285.0,162.2 284.8,163.0 284.6,163.9 284.4,164.8 284.2,165.6 284.0,166.5" fill="none" stroke="#f00" stroke-width="1.25" stroke-linejoin="round" />
<g fill="#f00"><circle cx="288.4" cy="3.4" r="1.15"/><circle cx="290.0" cy="7.3" r="1.15"/><circle cx="291.9" cy="11.0" r="1.15"/><circle cx="293.9" cy="14.7" r="1.15"/><circle cx="296.2" cy="18.3" r="1.15"/><circle cx="298.5" cy="21.8" r="1.15"/><circle cx="301.0" cy="25.2" r="1.15"/><circle cx="303.5" cy="28.5" r="1.15"/><circle cx="306.2" cy="31.8" r="1.15"/><circle cx="308.9" cy="35.0" r="1.15"/><circle cx="311.6" cy="38.1" r="1.15"/><circle cx="314.5" cy="41.2" r="1.15"/><circle cx="317.4" cy="44.3" r="1.15"/><circle cx="320.4" cy="47.2" r="1.15"/><circle cx="323.4" cy="50.2" r="1.15"/><circle cx="326.4" cy="53.1" r="1.15"/><circle cx="329.2" cy="56.2" r="1.15"/><circle cx="331.9" cy="59.4" r="1.15"/><circle cx="334.5" cy="62.7" r="1.15"/><circle cx="336.8" cy="66.2" r="1.15"/><circle cx="339.0" cy="69.8" r="1.15"/><circle cx="341.0" cy="73.5" r="1.15"/><circle cx="342.8" cy="77.3" r="1.15"/><circle cx="344.2" cy="81.2" r="1.15"/><circle cx="345.4" cy="85.3" r="1.15"/><circle cx="346.0" cy="89.4" r="1.15"/><circle cx="345.9" cy="93.6" r="1.15"/><circle cx="345.1" cy="97.7" r="1.15"/><circle cx="343.6" cy="101.7" r="1.15"/><circle cx="341.6" cy="105.3" r="1.15"/><circle cx="339.2" cy="108.8" r="1.15"/><circle cx="336.8" cy="112.3" r="1.15"/><circle cx="334.6" cy="115.8" r="1.15"/><circle cx="332.5" cy="119.4" r="1.15"/><circle cx="330.4" cy="123.1" r="1.15"/><circle cx="328.2" cy="126.7" r="1.15"/><circle cx="325.9" cy="130.2" r="1.15"/><circle cx="323.6" cy="133.7" r="1.15"/><circle cx="321.2" cy="137.2" r="1.15"/><circle cx="319.0" cy="140.7" r="1.15"/><circle cx="316.8" cy="144.3" r="1.15"/><circle cx="314.5" cy="147.8" r="1.15"/><circle cx="312.2" cy="151.3" r="1.15"/><circle cx="309.8" cy="154.8" r="1.15"/><circle cx="307.6" cy="158.4" r="1.15"/><circle cx="306.0" cy="162.2" r="1.15"/><circle cx="305.2" cy="166.4" r="1.15"/></g>
<g fill="#f00"><circle cx="345.6" cy="3.5" r="1.25"/><circle cx="345.1" cy="6.6" r="1.25"/><circle cx="344.5" cy="9.6" r="1.25"/><circle cx="343.6" cy="12.6" r="1.25"/><circle cx="342.7" cy="15.5" r="1.25"/><circle cx="341.6" cy="18.4" r="1.25"/><circle cx="340.5" cy="21.3" r="1.25"/><circle cx="339.4" cy="24.2" r="1.25"/><circle cx="338.3" cy="27.1" r="1.25"/><circle cx="337.3" cy="30.1" r="1.25"/><circle cx="336.3" cy="33.0" r="1.25"/><circle cx="335.3" cy="35.9" r="1.25"/><circle cx="334.4" cy="38.9" r="1.25"/><circle cx="333.4" cy="41.8" r="1.25"/><circle cx="332.5" cy="44.8" r="1.25"/><circle cx="331.5" cy="47.7" r="1.25"/><circle cx="330.5" cy="50.7" r="1.25"/><circle cx="329.5" cy="53.6" r="1.25"/><circle cx="328.5" cy="56.5" r="1.25"/><circle cx="327.5" cy="59.5" r="1.25"/><circle cx="326.5" cy="62.4" r="1.25"/><circle cx="325.5" cy="65.3" r="1.25"/><circle cx="324.5" cy="68.3" r="1.25"/><circle cx="323.6" cy="71.2" r="1.25"/><circle cx="322.8" cy="74.2" r="1.25"/><circle cx="321.9" cy="77.2" r="1.25"/><circle cx="321.0" cy="80.2" r="1.25"/><circle cx="320.0" cy="83.1" r="1.25"/><circle cx="318.9" cy="86.0" r="1.25"/><circle cx="317.6" cy="88.8" r="1.25"/><circle cx="316.2" cy="91.6" r="1.25"/><circle cx="314.8" cy="94.3" r="1.25"/><circle cx="313.3" cy="97.1" r="1.25"/><circle cx="311.9" cy="99.8" r="1.25"/><circle cx="310.4" cy="102.6" r="1.25"/><circle cx="309.0" cy="105.3" r="1.25"/><circle cx="307.7" cy="108.1" r="1.25"/><circle cx="306.3" cy="110.9" r="1.25"/><circle cx="304.9" cy="113.6" r="1.25"/><circle cx="303.5" cy="116.4" r="1.25"/><circle cx="302.1" cy="119.2" r="1.25"/><circle cx="300.7" cy="122.0" r="1.25"/><circle cx="299.4" cy="124.8" r="1.25"/><circle cx="298.2" cy="127.6" r="1.25"/><circle cx="297.0" cy="130.5" r="1.25"/><circle cx="295.8" cy="133.4" r="1.25"/><circle cx="294.7" cy="136.2" r="1.25"/><circle cx="293.6" cy="139.1" r="1.25"/><circle cx="292.4" cy="142.0" r="1.25"/><circle cx="291.2" cy="144.9" r="1.25"/><circle cx="290.1" cy="147.7" r="1.25"/><circle cx="288.9" cy="150.6" r="1.25"/><circle cx="287.8" cy="153.5" r="1.25"/><circle cx="286.8" cy="156.4" r="1.25"/><circle cx="285.8" cy="159.4" r="1.25"/><circle cx="285.0" cy="162.4" r="1.25"/><circle cx="284.2" cy="165.4" r="1.25"/></g>
</g>
<defs><clipPath id="cpR"><rect x="269" y="2.4" width="78" height="164.2"/></clipPath><clipPath id="cpL"><rect x="25" y="170" width="242.1" height="119"/></clipPath></defs>
<line x1="276.6" y1="201.8" x2="297.7" y2="201.8" stroke="#f33" stroke-width="1.2"/>
<text x="303" y="204.05" font-size="7.9" text-anchor="start" fill="#000"  stroke="#000" stroke-width="0.3">Triplet</text>
<line x1="276.6" y1="212.7" x2="297.7" y2="212.7" stroke="#f77" stroke-width="0.8"/>
<text x="303" y="214.95" font-size="7.9" text-anchor="start" fill="#000"  stroke="#000" stroke-width="0.3">Singlet</text>
<line x1="276.6" y1="223.2" x2="297.7" y2="223.2" stroke="#f77" stroke-width="0.8"/>
<text x="303" y="225.45" font-size="7.9" text-anchor="start" fill="#000"  stroke="#000" stroke-width="0.3">Charge</text>
<line x1="284.1" y1="212.7" x2="289.9" y2="212.7" stroke="#f44" stroke-width="0.55"/>
<line x1="284.95" y1="210.65" x2="289.05" y2="214.75" stroke="#f44" stroke-width="0.55"/>
<line x1="287.0" y1="209.8" x2="287.0" y2="215.6" stroke="#f44" stroke-width="0.55"/>
<line x1="289.05" y1="210.65" x2="284.95" y2="214.75" stroke="#f44" stroke-width="0.55"/>
<circle cx="287" cy="223.2" r="1.1" fill="#f33"/>
<text x="303.7" y="246.15" font-size="7.9" text-anchor="start" fill="#000"  stroke="#000" stroke-width="0.3">ΔT/T / 10<tspan dy="-3.00" font-size="4.90">-3</tspan></text>
<rect x="275.8" y="252.2" width="95.2" height="7.6" fill="none" stroke="#1a1a1a" stroke-width="1"/>
<line x1="279.8" y1="257.8" x2="279.8" y2="259.8" stroke="#333" stroke-width="0.7"/>
<text x="279.9" y="268.45" font-size="7.9" text-anchor="middle" fill="#000"  stroke="#000" stroke-width="0.3">-2.5</text>
<line x1="301.6" y1="257.8" x2="301.6" y2="259.8" stroke="#333" stroke-width="0.7"/>
<text x="301.7" y="268.45" font-size="7.9" text-anchor="middle" fill="#000"  stroke="#000" stroke-width="0.3">-2</text>
<line x1="323.40000000000003" y1="257.8" x2="323.40000000000003" y2="259.8" stroke="#333" stroke-width="0.7"/>
<text x="323.5" y="268.45" font-size="7.9" text-anchor="middle" fill="#000"  stroke="#000" stroke-width="0.3">-1.5</text>
<line x1="345.20000000000005" y1="257.8" x2="345.20000000000005" y2="259.8" stroke="#333" stroke-width="0.7"/>
<text x="345.3" y="268.45" font-size="7.9" text-anchor="middle" fill="#000"  stroke="#000" stroke-width="0.3">-1</text>
<line x1="367.0" y1="257.8" x2="367.0" y2="259.8" stroke="#333" stroke-width="0.7"/>
<text x="367.1" y="268.45" font-size="7.9" text-anchor="middle" fill="#000"  stroke="#000" stroke-width="0.3">-0.5</text>
<line x1="29.8" y1="180.0" x2="31.8" y2="180.0" stroke="#929292" stroke-width="0.8"/>
<line x1="265" y1="180.0" x2="267" y2="180.0" stroke="#929292" stroke-width="0.8"/>
<text x="27.6" y="182.75" font-size="7.9" text-anchor="end" fill="#000"  stroke="#000" stroke-width="0.3">0.0</text>
<line x1="29.8" y1="202.05" x2="31.8" y2="202.05" stroke="#929292" stroke-width="0.8"/>
<line x1="265" y1="202.05" x2="267" y2="202.05" stroke="#929292" stroke-width="0.8"/>
<text x="27.6" y="204.8" font-size="7.9" text-anchor="end" fill="#000"  stroke="#000" stroke-width="0.3">-1.0</text>
<line x1="29.8" y1="224.1" x2="31.8" y2="224.1" stroke="#929292" stroke-width="0.8"/>
<line x1="265" y1="224.1" x2="267" y2="224.1" stroke="#929292" stroke-width="0.8"/>
<text x="27.6" y="226.85" font-size="7.9" text-anchor="end" fill="#000"  stroke="#000" stroke-width="0.3">-1.5</text>
<line x1="29.8" y1="246.15" x2="31.8" y2="246.15" stroke="#929292" stroke-width="0.8"/>
<line x1="265" y1="246.15" x2="267" y2="246.15" stroke="#929292" stroke-width="0.8"/>
<text x="27.6" y="248.9" font-size="7.9" text-anchor="end" fill="#000"  stroke="#000" stroke-width="0.3">-2.0</text>
<line x1="29.8" y1="268.2" x2="31.8" y2="268.2" stroke="#929292" stroke-width="0.8"/>
<line x1="265" y1="268.2" x2="267" y2="268.2" stroke="#929292" stroke-width="0.8"/>
<text x="27.6" y="270.95" font-size="7.9" text-anchor="end" fill="#000"  stroke="#000" stroke-width="0.3">-2.5</text>
<text transform="translate(9.6,221.4) rotate(-90)" font-size="8.2" text-anchor="middle" stroke="#000" stroke-width="0.3">ΔT/T / 10<tspan dy="-3.00" font-size="4.90">-3</tspan></text>
<line x1="36.0" y1="290.1" x2="36.0" y2="287.70000000000005" stroke="#929292" stroke-width="0.7"/>
<line x1="36.0" y1="169.3" x2="36.0" y2="171.70000000000002" stroke="#929292" stroke-width="0.7"/>
<line x1="36.0" y1="166.6" x2="36.0" y2="164.2" stroke="#666" stroke-width="0.7"/>
<line x1="36.0" y1="1.9" x2="36.0" y2="4.3" stroke="#666" stroke-width="0.7"/>
<line x1="56.5" y1="290.1" x2="56.5" y2="288.8" stroke="#929292" stroke-width="0.7"/>
<line x1="56.5" y1="169.3" x2="56.5" y2="170.60000000000002" stroke="#929292" stroke-width="0.7"/>
<line x1="56.5" y1="166.6" x2="56.5" y2="165.29999999999998" stroke="#666" stroke-width="0.7"/>
<line x1="56.5" y1="1.9" x2="56.5" y2="3.2" stroke="#666" stroke-width="0.7"/>
<line x1="68.4" y1="290.1" x2="68.4" y2="288.8" stroke="#929292" stroke-width="0.7"/>
<line x1="68.4" y1="169.3" x2="68.4" y2="170.60000000000002" stroke="#929292" stroke-width="0.7"/>
<line x1="68.4" y1="166.6" x2="68.4" y2="165.29999999999998" stroke="#666" stroke-width="0.7"/>
<line x1="68.4" y1="1.9" x2="68.4" y2="3.2" stroke="#666" stroke-width="0.7"/>
<line x1="76.9" y1="290.1" x2="76.9" y2="288.8" stroke="#929292" stroke-width="0.7"/>
<line x1="76.9" y1="169.3" x2="76.9" y2="170.60000000000002" stroke="#929292" stroke-width="0.7"/>
<line x1="76.9" y1="166.6" x2="76.9" y2="165.29999999999998" stroke="#666" stroke-width="0.7"/>
<line x1="76.9" y1="1.9" x2="76.9" y2="3.2" stroke="#666" stroke-width="0.7"/>
<line x1="83.5" y1="290.1" x2="83.5" y2="288.8" stroke="#929292" stroke-width="0.7"/>
<line x1="83.5" y1="169.3" x2="83.5" y2="170.60000000000002" stroke="#929292" stroke-width="0.7"/>
<line x1="83.5" y1="166.6" x2="83.5" y2="165.29999999999998" stroke="#666" stroke-width="0.7"/>
<line x1="83.5" y1="1.9" x2="83.5" y2="3.2" stroke="#666" stroke-width="0.7"/>
<line x1="88.9" y1="290.1" x2="88.9" y2="288.8" stroke="#929292" stroke-width="0.7"/>
<line x1="88.9" y1="169.3" x2="88.9" y2="170.60000000000002" stroke="#929292" stroke-width="0.7"/>
<line x1="88.9" y1="166.6" x2="88.9" y2="165.29999999999998" stroke="#666" stroke-width="0.7"/>
<line x1="88.9" y1="1.9" x2="88.9" y2="3.2" stroke="#666" stroke-width="0.7"/>
<line x1="93.5" y1="290.1" x2="93.5" y2="288.8" stroke="#929292" stroke-width="0.7"/>
<line x1="93.5" y1="169.3" x2="93.5" y2="170.60000000000002" stroke="#929292" stroke-width="0.7"/>
<line x1="93.5" y1="166.6" x2="93.5" y2="165.29999999999998" stroke="#666" stroke-width="0.7"/>
<line x1="93.5" y1="1.9" x2="93.5" y2="3.2" stroke="#666" stroke-width="0.7"/>
<line x1="97.4" y1="290.1" x2="97.4" y2="288.8" stroke="#929292" stroke-width="0.7"/>
<line x1="97.4" y1="169.3" x2="97.4" y2="170.60000000000002" stroke="#929292" stroke-width="0.7"/>
<line x1="97.4" y1="166.6" x2="97.4" y2="165.29999999999998" stroke="#666" stroke-width="0.7"/>
<line x1="97.4" y1="1.9" x2="97.4" y2="3.2" stroke="#666" stroke-width="0.7"/>
<line x1="100.9" y1="290.1" x2="100.9" y2="288.8" stroke="#929292" stroke-width="0.7"/>
<line x1="100.9" y1="169.3" x2="100.9" y2="170.60000000000002" stroke="#929292" stroke-width="0.7"/>
<line x1="100.9" y1="166.6" x2="100.9" y2="165.29999999999998" stroke="#666" stroke-width="0.7"/>
<line x1="100.9" y1="1.9" x2="100.9" y2="3.2" stroke="#666" stroke-width="0.7"/>
<line x1="104.0" y1="290.1" x2="104.0" y2="287.70000000000005" stroke="#929292" stroke-width="0.7"/>
<line x1="104.0" y1="169.3" x2="104.0" y2="171.70000000000002" stroke="#929292" stroke-width="0.7"/>
<line x1="104.0" y1="166.6" x2="104.0" y2="164.2" stroke="#666" stroke-width="0.7"/>
<line x1="104.0" y1="1.9" x2="104.0" y2="4.3" stroke="#666" stroke-width="0.7"/>
<line x1="124.5" y1="290.1" x2="124.5" y2="288.8" stroke="#929292" stroke-width="0.7"/>
<line x1="124.5" y1="169.3" x2="124.5" y2="170.60000000000002" stroke="#929292" stroke-width="0.7"/>
<line x1="124.5" y1="166.6" x2="124.5" y2="165.29999999999998" stroke="#666" stroke-width="0.7"/>
<line x1="124.5" y1="1.9" x2="124.5" y2="3.2" stroke="#666" stroke-width="0.7"/>
<line x1="136.4" y1="290.1" x2="136.4" y2="288.8" stroke="#929292" stroke-width="0.7"/>
<line x1="136.4" y1="169.3" x2="136.4" y2="170.60000000000002" stroke="#929292" stroke-width="0.7"/>
<line x1="136.4" y1="166.6" x2="136.4" y2="165.29999999999998" stroke="#666" stroke-width="0.7"/>
<line x1="136.4" y1="1.9" x2="136.4" y2="3.2" stroke="#666" stroke-width="0.7"/>
<line x1="144.9" y1="290.1" x2="144.9" y2="288.8" stroke="#929292" stroke-width="0.7"/>
<line x1="144.9" y1="169.3" x2="144.9" y2="170.60000000000002" stroke="#929292" stroke-width="0.7"/>
<line x1="144.9" y1="166.6" x2="144.9" y2="165.29999999999998" stroke="#666" stroke-width="0.7"/>
<line x1="144.9" y1="1.9" x2="144.9" y2="3.2" stroke="#666" stroke-width="0.7"/>
<line x1="151.5" y1="290.1" x2="151.5" y2="288.8" stroke="#929292" stroke-width="0.7"/>
<line x1="151.5" y1="169.3" x2="151.5" y2="170.60000000000002" stroke="#929292" stroke-width="0.7"/>
<line x1="151.5" y1="166.6" x2="151.5" y2="165.29999999999998" stroke="#666" stroke-width="0.7"/>
<line x1="151.5" y1="1.9" x2="151.5" y2="3.2" stroke="#666" stroke-width="0.7"/>
<line x1="156.9" y1="290.1" x2="156.9" y2="288.8" stroke="#929292" stroke-width="0.7"/>
<line x1="156.9" y1="169.3" x2="156.9" y2="170.60000000000002" stroke="#929292" stroke-width="0.7"/>
<line x1="156.9" y1="166.6" x2="156.9" y2="165.29999999999998" stroke="#666" stroke-width="0.7"/>
<line x1="156.9" y1="1.9" x2="156.9" y2="3.2" stroke="#666" stroke-width="0.7"/>
<line x1="161.5" y1="290.1" x2="161.5" y2="288.8" stroke="#929292" stroke-width="0.7"/>
<line x1="161.5" y1="169.3" x2="161.5" y2="170.60000000000002" stroke="#929292" stroke-width="0.7"/>
<line x1="161.5" y1="166.6" x2="161.5" y2="165.29999999999998" stroke="#666" stroke-width="0.7"/>
<line x1="161.5" y1="1.9" x2="161.5" y2="3.2" stroke="#666" stroke-width="0.7"/>
<line x1="165.4" y1="290.1" x2="165.4" y2="288.8" stroke="#929292" stroke-width="0.7"/>
<line x1="165.4" y1="169.3" x2="165.4" y2="170.60000000000002" stroke="#929292" stroke-width="0.7"/>
<line x1="165.4" y1="166.6" x2="165.4" y2="165.29999999999998" stroke="#666" stroke-width="0.7"/>
<line x1="165.4" y1="1.9" x2="165.4" y2="3.2" stroke="#666" stroke-width="0.7"/>
<line x1="168.9" y1="290.1" x2="168.9" y2="288.8" stroke="#929292" stroke-width="0.7"/>
<line x1="168.9" y1="169.3" x2="168.9" y2="170.60000000000002" stroke="#929292" stroke-width="0.7"/>
<line x1="168.9" y1="166.6" x2="168.9" y2="165.29999999999998" stroke="#666" stroke-width="0.7"/>
<line x1="168.9" y1="1.9" x2="168.9" y2="3.2" stroke="#666" stroke-width="0.7"/>
<line x1="172.0" y1="290.1" x2="172.0" y2="287.70000000000005" stroke="#929292" stroke-width="0.7"/>
<line x1="172.0" y1="169.3" x2="172.0" y2="171.70000000000002" stroke="#929292" stroke-width="0.7"/>
<line x1="172.0" y1="166.6" x2="172.0" y2="164.2" stroke="#666" stroke-width="0.7"/>
<line x1="172.0" y1="1.9" x2="172.0" y2="4.3" stroke="#666" stroke-width="0.7"/>
<line x1="192.5" y1="290.1" x2="192.5" y2="288.8" stroke="#929292" stroke-width="0.7"/>
<line x1="192.5" y1="169.3" x2="192.5" y2="170.60000000000002" stroke="#929292" stroke-width="0.7"/>
<line x1="192.5" y1="166.6" x2="192.5" y2="165.29999999999998" stroke="#666" stroke-width="0.7"/>
<line x1="192.5" y1="1.9" x2="192.5" y2="3.2" stroke="#666" stroke-width="0.7"/>
<line x1="204.4" y1="290.1" x2="204.4" y2="288.8" stroke="#929292" stroke-width="0.7"/>
<line x1="204.4" y1="169.3" x2="204.4" y2="170.60000000000002" stroke="#929292" stroke-width="0.7"/>
<line x1="204.4" y1="166.6" x2="204.4" y2="165.29999999999998" stroke="#666" stroke-width="0.7"/>
<line x1="204.4" y1="1.9" x2="204.4" y2="3.2" stroke="#666" stroke-width="0.7"/>
<line x1="212.9" y1="290.1" x2="212.9" y2="288.8" stroke="#929292" stroke-width="0.7"/>
<line x1="212.9" y1="169.3" x2="212.9" y2="170.60000000000002" stroke="#929292" stroke-width="0.7"/>
<line x1="212.9" y1="166.6" x2="212.9" y2="165.29999999999998" stroke="#666" stroke-width="0.7"/>
<line x1="212.9" y1="1.9" x2="212.9" y2="3.2" stroke="#666" stroke-width="0.7"/>
<line x1="219.5" y1="290.1" x2="219.5" y2="288.8" stroke="#929292" stroke-width="0.7"/>
<line x1="219.5" y1="169.3" x2="219.5" y2="170.60000000000002" stroke="#929292" stroke-width="0.7"/>
<line x1="219.5" y1="166.6" x2="219.5" y2="165.29999999999998" stroke="#666" stroke-width="0.7"/>
<line x1="219.5" y1="1.9" x2="219.5" y2="3.2" stroke="#666" stroke-width="0.7"/>
<line x1="224.9" y1="290.1" x2="224.9" y2="288.8" stroke="#929292" stroke-width="0.7"/>
<line x1="224.9" y1="169.3" x2="224.9" y2="170.60000000000002" stroke="#929292" stroke-width="0.7"/>
<line x1="224.9" y1="166.6" x2="224.9" y2="165.29999999999998" stroke="#666" stroke-width="0.7"/>
<line x1="224.9" y1="1.9" x2="224.9" y2="3.2" stroke="#666" stroke-width="0.7"/>
<line x1="229.5" y1="290.1" x2="229.5" y2="288.8" stroke="#929292" stroke-width="0.7"/>
<line x1="229.5" y1="169.3" x2="229.5" y2="170.60000000000002" stroke="#929292" stroke-width="0.7"/>
<line x1="229.5" y1="166.6" x2="229.5" y2="165.29999999999998" stroke="#666" stroke-width="0.7"/>
<line x1="229.5" y1="1.9" x2="229.5" y2="3.2" stroke="#666" stroke-width="0.7"/>
<line x1="233.4" y1="290.1" x2="233.4" y2="288.8" stroke="#929292" stroke-width="0.7"/>
<line x1="233.4" y1="169.3" x2="233.4" y2="170.60000000000002" stroke="#929292" stroke-width="0.7"/>
<line x1="233.4" y1="166.6" x2="233.4" y2="165.29999999999998" stroke="#666" stroke-width="0.7"/>
<line x1="233.4" y1="1.9" x2="233.4" y2="3.2" stroke="#666" stroke-width="0.7"/>
<line x1="236.9" y1="290.1" x2="236.9" y2="288.8" stroke="#929292" stroke-width="0.7"/>
<line x1="236.9" y1="169.3" x2="236.9" y2="170.60000000000002" stroke="#929292" stroke-width="0.7"/>
<line x1="236.9" y1="166.6" x2="236.9" y2="165.29999999999998" stroke="#666" stroke-width="0.7"/>
<line x1="236.9" y1="1.9" x2="236.9" y2="3.2" stroke="#666" stroke-width="0.7"/>
<line x1="240.0" y1="290.1" x2="240.0" y2="287.70000000000005" stroke="#929292" stroke-width="0.7"/>
<line x1="240.0" y1="169.3" x2="240.0" y2="171.70000000000002" stroke="#929292" stroke-width="0.7"/>
<line x1="240.0" y1="166.6" x2="240.0" y2="164.2" stroke="#666" stroke-width="0.7"/>
<line x1="240.0" y1="1.9" x2="240.0" y2="4.3" stroke="#666" stroke-width="0.7"/>
<line x1="260.5" y1="290.1" x2="260.5" y2="288.8" stroke="#929292" stroke-width="0.7"/>
<line x1="260.5" y1="169.3" x2="260.5" y2="170.60000000000002" stroke="#929292" stroke-width="0.7"/>
<line x1="260.5" y1="166.6" x2="260.5" y2="165.29999999999998" stroke="#666" stroke-width="0.7"/>
<line x1="260.5" y1="1.9" x2="260.5" y2="3.2" stroke="#666" stroke-width="0.7"/>
<text x="30.7" y="300.1" font-size="7.6" text-anchor="start" fill="#000"  stroke="#000" stroke-width="0.3">10<tspan dx="-0.3" dy="-3.3" font-size="4.8">0</tspan></text>
<text x="98.7" y="300.1" font-size="7.6" text-anchor="start" fill="#000"  stroke="#000" stroke-width="0.3">10<tspan dx="-0.3" dy="-3.3" font-size="4.8">1</tspan></text>
<text x="166.7" y="300.1" font-size="7.6" text-anchor="start" fill="#000"  stroke="#000" stroke-width="0.3">10<tspan dx="-0.3" dy="-3.3" font-size="4.8">2</tspan></text>
<text x="234.7" y="300.1" font-size="7.6" text-anchor="start" fill="#000"  stroke="#000" stroke-width="0.3">10<tspan dx="-0.3" dy="-3.3" font-size="4.8">-3</tspan></text>
<text x="138.5" y="308.84999999999997" font-size="7.9" text-anchor="middle" fill="#000"  stroke="#000" stroke-width="0.3">time / ps</text>
<g clip-path="url(#cpL)">
<polyline points="29.9,179.4 31.5,180.8 33.1,182.0 34.7,182.7 36.3,183.2 37.9,183.5 39.5,183.9 41.1,184.1 42.7,184.4 44.3,184.5 45.9,184.5 47.5,185.1 49.1,185.2 50.7,185.5 52.3,185.2 53.9,185.2 55.5,185.3 57.1,185.0 58.7,185.9 60.3,185.2 61.9,185.3 63.5,185.6 65.1,186.3 66.7,185.9 68.3,185.4 69.9,185.5 71.5,185.9 73.1,185.3 74.7,184.8 76.3,184.7 77.9,184.7 79.5,184.9 81.1,183.2 82.7,183.3 84.3,183.1 85.9,182.3 87.5,183.0 89.1,183.0 90.7,184.1 92.3,183.6 93.9,183.1 95.5,184.2 97.1,183.9 98.7,183.5 100.3,184.1 101.9,184.3 103.5,184.3 105.1,184.9 106.7,184.0 108.3,185.0 109.9,185.7 111.5,185.7 113.1,185.9 114.7,186.0 116.3,186.2 117.9,185.1 119.5,186.0 121.1,184.9 122.7,185.5 124.3,184.9 125.9,186.3 127.5,186.5 129.1,185.9 130.7,186.8 132.3,185.8 133.9,186.2 135.5,186.3 137.1,185.8 138.7,186.6 140.3,187.3 141.9,186.1 143.5,187.1 145.1,186.7 146.7,187.7 148.3,187.2 149.9,187.5 151.5,187.6 153.1,187.5 154.7,186.9 156.3,188.3 157.9,187.2 159.5,188.1 161.1,188.4 162.7,187.9 164.3,188.5 165.9,189.1 167.5,188.7 169.1,188.5 170.7,187.7 172.3,188.7 173.9,189.1 175.5,189.3 177.1,189.2 178.7,190.0 180.3,189.7 181.9,190.1 183.5,190.6 185.1,190.1 186.7,190.6 188.3,191.9 189.9,191.6 191.5,190.8 193.1,191.6 194.7,192.2 196.3,192.8 197.9,192.5 199.5,192.5 201.1,192.6 202.7,193.4 204.3,193.4 205.9,193.2 207.5,193.5 209.1,193.4 210.7,194.0 212.3,193.4 213.9,193.9 215.5,194.1 217.1,194.0 218.7,193.4 220.3,194.4 221.9,193.5 223.5,194.0 225.1,193.5 226.7,193.0 228.3,193.8 229.9,193.8 231.5,193.5 233.1,193.5 234.7,193.0 236.3,192.8 237.9,192.9 239.5,193.7 241.1,193.1 242.7,192.3 244.3,192.6 245.9,191.9 247.5,191.8 249.1,192.1 250.7,191.3 252.3,190.6 253.9,190.7 255.5,191.0 257.1,190.8 258.7,191.1 260.3,190.1 261.9,190.5 263.5,190.2 265.1,189.8 266.7,190.0" fill="none" stroke="#f21818" stroke-width="1.2" stroke-linejoin="round" />
<polyline points="29.9,179.5 31.5,180.3 33.1,181.1 34.7,181.5 36.3,181.9 37.9,182.2 39.5,182.6 41.1,182.7 42.7,183.0 44.3,183.2 45.9,183.4 47.5,183.3 49.1,183.4 50.7,183.4 52.3,183.1 53.9,183.9 55.5,183.4 57.1,183.0 58.7,183.7 60.3,183.0 61.9,183.4 63.5,183.5 65.1,183.1 66.7,183.1 68.3,183.0 69.9,183.1 71.5,182.5 73.1,182.5 74.7,182.7 76.3,182.9 77.9,182.6 79.5,182.8 81.1,182.2 82.7,181.7 84.3,181.8 85.9,181.1 87.5,181.5 89.1,181.4 90.7,181.9 92.3,182.0 93.9,181.6 95.5,181.6 97.1,181.3 98.7,181.8 100.3,182.0 101.9,182.0 103.5,181.6 105.1,182.6 106.7,182.4 108.3,181.9 109.9,181.8 111.5,181.9 113.1,182.1 114.7,182.1 116.3,182.3 117.9,182.5 119.5,182.8 121.1,182.8 122.7,182.5 124.3,182.8 125.9,182.6 127.5,182.7 129.1,183.7 130.7,183.0 132.3,184.0 133.9,183.3 135.5,183.6 137.1,184.0 138.7,183.8 140.3,184.1 141.9,184.0 143.5,184.1 145.1,184.3 146.7,184.3 148.3,185.3 149.9,184.8 151.5,185.6 153.1,184.3 154.7,185.4 156.3,185.7 157.9,185.6 159.5,186.2 161.1,186.2 162.7,186.0 164.3,186.4 165.9,187.3 167.5,186.5 169.1,186.6 170.7,186.5 172.3,186.7 173.9,186.3 175.5,186.8 177.1,187.8 178.7,187.4 180.3,187.3 181.9,187.6 183.5,188.0 185.1,187.6 186.7,188.2 188.3,188.0 189.9,187.8 191.5,188.5 193.1,187.2 194.7,188.0 196.3,188.4 197.9,188.1 199.5,188.5 201.1,188.5 202.7,188.6 204.3,189.9 205.9,189.3 207.5,189.1 209.1,189.7 210.7,189.2 212.3,189.7 213.9,189.5 215.5,190.0 217.1,189.0 218.7,189.9 220.3,189.7 221.9,189.3 223.5,190.1 225.1,189.4 226.7,190.3 228.3,189.8 229.9,189.8 231.5,189.6 233.1,189.8 234.7,188.7 236.3,189.3 237.9,188.9 239.5,189.1 241.1,188.9 242.7,189.0 244.3,188.3 245.9,189.1 247.5,189.1 249.1,188.0 250.7,187.9 252.3,187.8 253.9,188.0 255.5,188.0 257.1,186.8 258.7,186.8 260.3,186.5 261.9,186.4 263.5,186.0 265.1,186.6 266.7,185.9" fill="none" stroke="#10c81c" stroke-width="1.2" stroke-linejoin="round" />
<polyline points="29.9,179.5 31.5,179.8 33.1,180.0 34.7,180.2 36.3,180.3 37.9,180.5 39.5,180.5 41.1,180.5 42.7,180.6 44.3,180.7 45.9,180.7 47.5,181.0 49.1,180.8 50.7,180.9 52.3,180.7 53.9,180.9 55.5,180.9 57.1,180.5 58.7,181.0 60.3,180.6 61.9,181.0 63.5,180.7 65.1,181.4 66.7,181.1 68.3,181.2 69.9,181.2 71.5,180.7 73.1,180.4 74.7,180.9 76.3,181.1 77.9,180.9 79.5,181.1 81.1,181.1 82.7,180.4 84.3,180.9 85.9,181.3 87.5,180.7 89.1,180.3 90.7,180.7 92.3,180.7 93.9,180.9 95.5,180.6 97.1,180.8 98.7,180.2 100.3,181.0 101.9,181.2 103.5,181.1 105.1,180.4 106.7,180.9 108.3,180.1 109.9,180.9 111.5,180.8 113.1,180.6 114.7,180.9 116.3,180.8 117.9,181.0 119.5,180.8 121.1,180.9 122.7,180.3 124.3,180.5 125.9,180.7 127.5,180.9 129.1,180.9 130.7,181.2 132.3,180.7 133.9,180.8 135.5,181.0 137.1,180.8 138.7,181.0 140.3,180.8 141.9,181.3 143.5,180.8 145.1,181.2 146.7,180.9 148.3,181.3 149.9,180.6 151.5,181.1 153.1,180.9 154.7,181.0 156.3,181.3 157.9,180.7 159.5,180.7 161.1,180.7 162.7,181.1 164.3,180.5 165.9,181.0 167.5,180.7 169.1,180.7 170.7,180.9 172.3,181.1 173.9,180.8 175.5,180.9 177.1,181.0 178.7,180.9 180.3,180.3 181.9,180.9 183.5,181.0 185.1,181.3 186.7,181.5 188.3,181.2 189.9,181.0 191.5,180.8 193.1,181.1 194.7,181.3 196.3,181.4 197.9,180.9 199.5,181.2 201.1,181.4 202.7,181.6 204.3,181.2 205.9,181.1 207.5,181.0 209.1,181.1 210.7,181.0 212.3,181.4 213.9,181.5 215.5,181.4 217.1,181.5 218.7,181.0 220.3,181.2 221.9,181.0 223.5,181.1 225.1,181.4 226.7,181.1 228.3,180.6 229.9,181.0 231.5,180.9 233.1,180.7 234.7,180.8 236.3,181.3 237.9,181.4 239.5,180.9 241.1,181.3 242.7,181.3 244.3,180.7 245.9,181.0 247.5,181.0 249.1,181.0 250.7,180.6 252.3,180.9 253.9,181.3 255.5,181.3 257.1,181.4 258.7,180.9 260.3,181.4 261.9,181.1 263.5,180.5 265.1,181.0 266.7,180.7" fill="none" stroke="#1f45d8" stroke-width="1.2" stroke-linejoin="round" />
<polyline points="29.7,191.7 31.7,190.9 33.7,190.2 35.7,189.4 37.7,188.7 39.7,188.1 41.7,187.4 43.7,186.9 45.7,186.4 47.7,185.9 49.7,185.5 51.7,185.1 52.7,185.0 53.7,184.9 55.7,184.7 57.7,184.4 59.7,184.3 61.7,184.1 63.7,183.9 65.7,183.9 67.7,183.6 69.3,183.4 69.7,183.4 71.7,183.0 73.7,182.7 75.7,182.3 77.7,181.9 79.7,181.7 81.7,181.4 83.7,181.1 84.2,181.0 85.7,180.7 87.7,180.6 89.7,180.3 91.7,180.3 93.7,180.1 95.7,180.0 97.7,179.8 98.4,179.6 99.7,179.9 101.7,180.0 103.7,179.7 105.7,179.9 107.7,180.0 109.7,179.8 111.7,180.1 112.1,179.9 113.7,179.8 115.7,180.1 117.7,179.9 119.7,179.8 121.7,180.0 123.7,179.7 124.2,180.1 125.7,179.8 127.7,179.9 129.7,179.9 131.7,180.0 133.7,180.0 135.7,179.8 136.3,180.0 137.7,179.9 139.7,179.8 141.7,179.9 143.7,179.8 145.7,179.8 147.7,180.0 148.4,179.9 149.7,180.0 151.7,180.0 153.7,179.8 155.7,179.7 157.7,179.8 159.7,179.9 160.5,179.9 161.7,179.8 163.7,180.0 165.7,179.7 167.7,179.7 169.7,179.9 171.7,180.2 172.6,179.9 173.7,179.8 175.7,180.0 177.7,180.0 179.7,180.0 181.7,179.9 183.7,179.8 184.7,179.9 185.7,179.9 187.7,180.1 189.7,180.2 191.7,179.8 193.7,179.8 195.7,179.9 196.8,179.9 197.7,180.0 199.7,180.0 201.7,179.9 203.7,180.1 205.7,179.9 207.7,179.8 208.9,179.7 209.7,179.8 211.7,179.8 213.7,179.7 215.7,180.0 217.7,179.9 219.7,179.8 221.0,179.8 221.7,179.7 223.7,179.8 225.7,180.1 227.7,179.6 229.7,179.9 231.7,180.0 233.1,179.9 233.7,179.9 235.7,180.0 237.7,179.8 239.7,180.0 241.7,180.1 243.7,179.8 245.2,179.8 245.7,179.9 247.7,180.0 249.7,180.1 251.7,180.0 253.7,179.8 255.7,179.8 257.3,179.9 257.7,179.9 259.7,179.8 261.7,179.9 263.7,179.9 265.7,180.0 266.8,179.8" fill="none" stroke="#1f45d8" stroke-width="1.2" stroke-linejoin="round" />
<g stroke="#1f45d8" stroke-width="0.7"><line x1="29.7" y1="189.5" x2="29.7" y2="193.9"/><line x1="31.6" y1="190.6" x2="27.8" y2="192.8"/><line x1="31.6" y1="192.8" x2="27.8" y2="190.6"/><line x1="52.7" y1="182.8" x2="52.7" y2="187.2"/><line x1="54.6" y1="183.9" x2="50.8" y2="186.1"/><line x1="54.6" y1="186.1" x2="50.8" y2="183.9"/><line x1="69.3" y1="181.2" x2="69.3" y2="185.6"/><line x1="71.2" y1="182.3" x2="67.4" y2="184.5"/><line x1="71.2" y1="184.5" x2="67.4" y2="182.3"/><line x1="84.2" y1="178.8" x2="84.2" y2="183.2"/><line x1="86.1" y1="179.9" x2="82.3" y2="182.1"/><line x1="86.1" y1="182.1" x2="82.3" y2="179.9"/><line x1="98.4" y1="177.4" x2="98.4" y2="181.8"/><line x1="100.3" y1="178.5" x2="96.5" y2="180.7"/><line x1="100.3" y1="180.7" x2="96.5" y2="178.5"/><line x1="112.1" y1="177.7" x2="112.1" y2="182.1"/><line x1="114.0" y1="178.8" x2="110.2" y2="181.0"/><line x1="114.0" y1="181.0" x2="110.2" y2="178.8"/><line x1="124.2" y1="177.9" x2="124.2" y2="182.3"/><line x1="126.1" y1="179.0" x2="122.3" y2="181.2"/><line x1="126.1" y1="181.2" x2="122.3" y2="179.0"/><line x1="136.3" y1="177.8" x2="136.3" y2="182.2"/><line x1="138.2" y1="178.9" x2="134.4" y2="181.1"/><line x1="138.2" y1="181.1" x2="134.4" y2="178.9"/><line x1="148.4" y1="177.7" x2="148.4" y2="182.1"/><line x1="150.3" y1="178.8" x2="146.5" y2="181.0"/><line x1="150.3" y1="181.0" x2="146.5" y2="178.8"/><line x1="160.5" y1="177.7" x2="160.5" y2="182.1"/><line x1="162.4" y1="178.8" x2="158.6" y2="181.0"/><line x1="162.4" y1="181.0" x2="158.6" y2="178.8"/><line x1="172.6" y1="177.7" x2="172.6" y2="182.1"/><line x1="174.5" y1="178.8" x2="170.7" y2="181.0"/><line x1="174.5" y1="181.0" x2="170.7" y2="178.8"/><line x1="184.7" y1="177.7" x2="184.7" y2="182.1"/><line x1="186.6" y1="178.8" x2="182.8" y2="181.0"/><line x1="186.6" y1="181.0" x2="182.8" y2="178.8"/><line x1="196.8" y1="177.7" x2="196.8" y2="182.1"/><line x1="198.7" y1="178.8" x2="194.9" y2="181.0"/><line x1="198.7" y1="181.0" x2="194.9" y2="178.8"/><line x1="208.9" y1="177.5" x2="208.9" y2="181.9"/><line x1="210.8" y1="178.6" x2="207.0" y2="180.8"/><line x1="210.8" y1="180.8" x2="207.0" y2="178.6"/><line x1="221.0" y1="177.6" x2="221.0" y2="182.0"/><line x1="222.9" y1="178.7" x2="219.1" y2="180.9"/><line x1="222.9" y1="180.9" x2="219.1" y2="178.7"/><line x1="233.1" y1="177.7" x2="233.1" y2="182.1"/><line x1="235.0" y1="178.8" x2="231.2" y2="181.0"/><line x1="235.0" y1="181.0" x2="231.2" y2="178.8"/><line x1="245.2" y1="177.6" x2="245.2" y2="182.0"/><line x1="247.1" y1="178.7" x2="243.3" y2="180.9"/><line x1="247.1" y1="180.9" x2="243.3" y2="178.7"/><line x1="257.3" y1="177.7" x2="257.3" y2="182.1"/><line x1="259.2" y1="178.8" x2="255.4" y2="181.0"/><line x1="259.2" y1="181.0" x2="255.4" y2="178.8"/><line x1="266.8" y1="177.6" x2="266.8" y2="182.0"/><line x1="268.7" y1="178.7" x2="264.9" y2="180.9"/><line x1="268.7" y1="180.9" x2="264.9" y2="178.7"/></g>
<polyline points="29.7,201.2 31.7,200.3 33.7,199.4 35.7,198.5 37.7,197.6 39.7,196.8 41.7,195.8 43.7,194.9 45.7,194.1 47.7,193.1 49.7,192.3 51.7,191.4 52.7,191.0 53.7,190.6 55.7,189.6 57.7,188.6 59.7,187.8 61.7,186.8 63.7,185.9 65.7,185.1 67.7,184.3 69.3,184.0 69.7,184.0 71.7,183.5 73.7,183.1 75.7,182.7 77.7,182.6 79.7,182.3 81.7,182.0 83.7,181.7 84.2,181.8 85.7,181.6 87.7,181.3 89.7,181.1 91.7,180.9 93.7,180.8 95.7,180.5 97.7,180.3 98.4,180.3 99.7,180.3 101.7,180.3 103.7,180.2 105.7,180.0 107.7,180.1 109.7,179.9 111.7,180.2 112.1,180.0 113.7,180.0 115.7,179.9 117.7,180.0 119.7,179.9 121.7,180.2 123.7,180.0 124.2,180.0 125.7,179.9 127.7,179.9 129.7,180.1 131.7,180.2 133.7,179.8 135.7,179.9 136.3,180.0 137.7,179.9 139.7,179.8 141.7,180.0 143.7,180.1 145.7,179.8 147.7,180.0 148.4,180.1 149.7,180.1 151.7,179.9 153.7,180.3 155.7,180.1 157.7,179.9 159.7,180.1 160.5,179.9 161.7,180.1 163.7,179.8 165.7,180.1 167.7,179.9 169.7,180.1 171.7,180.1 172.6,180.1 173.7,180.0 175.7,180.1 177.7,179.8 179.7,180.1 181.7,180.0 183.7,180.1 184.7,180.1 185.7,180.4 187.7,180.0 189.7,180.1 191.7,180.0 193.7,180.2 195.7,179.8 196.8,180.2 197.7,179.9 199.7,179.7 201.7,179.9 203.7,180.0 205.7,180.0 207.7,180.0 208.9,180.1 209.7,180.0 211.7,180.0 213.7,179.7 215.7,180.1 217.7,180.1 219.7,179.9 221.0,179.8 221.7,179.8 223.7,180.2 225.7,179.9 227.7,179.9 229.7,179.9 231.7,180.1 233.1,179.9 233.7,179.9 235.7,179.8 237.7,180.0 239.7,180.1 241.7,180.0 243.7,180.1 245.2,180.0 245.7,180.0 247.7,180.0 249.7,180.0 251.7,180.1 253.7,180.1 255.7,179.9 257.3,180.0 257.7,180.0 259.7,180.1 261.7,180.0 263.7,180.0 265.7,179.8 266.8,180.0" fill="none" stroke="#10c81c" stroke-width="1.2" stroke-linejoin="round" />
<g stroke="#10c81c" stroke-width="0.7"><line x1="29.7" y1="199.0" x2="29.7" y2="203.4"/><line x1="31.6" y1="200.1" x2="27.8" y2="202.3"/><line x1="31.6" y1="202.3" x2="27.8" y2="200.1"/><line x1="52.7" y1="188.8" x2="52.7" y2="193.2"/><line x1="54.6" y1="189.9" x2="50.8" y2="192.1"/><line x1="54.6" y1="192.1" x2="50.8" y2="189.9"/><line x1="69.3" y1="181.8" x2="69.3" y2="186.2"/><line x1="71.2" y1="182.9" x2="67.4" y2="185.1"/><line x1="71.2" y1="185.1" x2="67.4" y2="182.9"/><line x1="84.2" y1="179.6" x2="84.2" y2="184.0"/><line x1="86.1" y1="180.7" x2="82.3" y2="182.9"/><line x1="86.1" y1="182.9" x2="82.3" y2="180.7"/><line x1="98.4" y1="178.1" x2="98.4" y2="182.5"/><line x1="100.3" y1="179.2" x2="96.5" y2="181.4"/><line x1="100.3" y1="181.4" x2="96.5" y2="179.2"/><line x1="112.1" y1="177.8" x2="112.1" y2="182.2"/><line x1="114.0" y1="178.9" x2="110.2" y2="181.1"/><line x1="114.0" y1="181.1" x2="110.2" y2="178.9"/><line x1="124.2" y1="177.8" x2="124.2" y2="182.2"/><line x1="126.1" y1="178.9" x2="122.3" y2="181.1"/><line x1="126.1" y1="181.1" x2="122.3" y2="178.9"/><line x1="136.3" y1="177.8" x2="136.3" y2="182.2"/><line x1="138.2" y1="178.9" x2="134.4" y2="181.1"/><line x1="138.2" y1="181.1" x2="134.4" y2="178.9"/><line x1="148.4" y1="177.9" x2="148.4" y2="182.3"/><line x1="150.3" y1="179.0" x2="146.5" y2="181.2"/><line x1="150.3" y1="181.2" x2="146.5" y2="179.0"/><line x1="160.5" y1="177.7" x2="160.5" y2="182.1"/><line x1="162.4" y1="178.8" x2="158.6" y2="181.0"/><line x1="162.4" y1="181.0" x2="158.6" y2="178.8"/><line x1="172.6" y1="177.9" x2="172.6" y2="182.3"/><line x1="174.5" y1="179.0" x2="170.7" y2="181.2"/><line x1="174.5" y1="181.2" x2="170.7" y2="179.0"/><line x1="184.7" y1="177.9" x2="184.7" y2="182.3"/><line x1="186.6" y1="179.0" x2="182.8" y2="181.2"/><line x1="186.6" y1="181.2" x2="182.8" y2="179.0"/><line x1="196.8" y1="178.0" x2="196.8" y2="182.4"/><line x1="198.7" y1="179.1" x2="194.9" y2="181.3"/><line x1="198.7" y1="181.3" x2="194.9" y2="179.1"/><line x1="208.9" y1="177.9" x2="208.9" y2="182.3"/><line x1="210.8" y1="179.0" x2="207.0" y2="181.2"/><line x1="210.8" y1="181.2" x2="207.0" y2="179.0"/><line x1="221.0" y1="177.6" x2="221.0" y2="182.0"/><line x1="222.9" y1="178.7" x2="219.1" y2="180.9"/><line x1="222.9" y1="180.9" x2="219.1" y2="178.7"/><line x1="233.1" y1="177.7" x2="233.1" y2="182.1"/><line x1="235.0" y1="178.8" x2="231.2" y2="181.0"/><line x1="235.0" y1="181.0" x2="231.2" y2="178.8"/><line x1="245.2" y1="177.8" x2="245.2" y2="182.2"/><line x1="247.1" y1="178.9" x2="243.3" y2="181.1"/><line x1="247.1" y1="181.1" x2="243.3" y2="178.9"/><line x1="257.3" y1="177.8" x2="257.3" y2="182.2"/><line x1="259.2" y1="178.9" x2="255.4" y2="181.1"/><line x1="259.2" y1="181.1" x2="255.4" y2="178.9"/><line x1="266.8" y1="177.8" x2="266.8" y2="182.2"/><line x1="268.7" y1="178.9" x2="264.9" y2="181.1"/><line x1="268.7" y1="181.1" x2="264.9" y2="178.9"/></g>
<polyline points="29.7,210.6 31.7,209.1 33.7,207.8 35.7,206.3 37.7,204.9 39.7,203.5 41.7,202.2 43.7,200.9 45.7,199.6 47.7,198.3 49.7,197.0 51.7,195.8 52.7,195.2 53.7,194.6 55.7,193.3 57.7,192.0 59.7,190.7 61.7,189.4 63.7,188.3 65.7,187.2 67.7,186.5 69.3,185.8 69.7,185.6 71.7,185.1 73.7,184.8 75.7,184.2 77.7,183.9 79.7,183.6 81.7,183.1 83.7,182.9 84.2,182.8 85.7,182.3 87.7,182.0 89.7,181.3 91.7,180.8 93.7,180.5 95.7,180.1 97.7,179.9 98.4,180.0 99.7,179.7 101.7,179.8 103.7,179.7 105.7,179.9 107.7,179.9 109.7,179.9 111.7,179.6 112.1,179.8 113.7,179.9 115.7,179.6 117.7,179.7 119.7,179.9 121.7,179.9 123.7,179.8 124.2,179.9 125.7,179.8 127.7,179.8 129.7,179.8 131.7,179.7 133.7,179.8 135.7,179.8 136.3,180.1 137.7,179.8 139.7,179.8 141.7,179.8 143.7,179.8 145.7,179.8 147.7,179.9 148.4,179.8 149.7,179.9 151.7,179.7 153.7,179.8 155.7,179.9 157.7,179.7 159.7,179.8 160.5,179.8 161.7,179.8 163.7,179.7 165.7,179.6 167.7,179.9 169.7,179.7 171.7,179.7 172.6,179.9 173.7,179.6 175.7,179.9 177.7,179.9 179.7,179.9 181.7,179.8 183.7,179.7 184.7,179.6 185.7,180.0 187.7,179.7 189.7,179.7 191.7,180.0 193.7,179.7 195.7,179.8 196.8,179.8 197.7,179.8 199.7,179.7 201.7,179.7 203.7,180.0 205.7,179.9 207.7,179.4 208.9,179.6 209.7,179.8 211.7,179.8 213.7,179.8 215.7,179.9 217.7,179.6 219.7,179.9 221.0,179.8 221.7,179.9 223.7,179.8 225.7,179.9 227.7,179.8 229.7,179.7 231.7,179.9 233.1,179.8 233.7,179.6 235.7,180.0 237.7,179.9 239.7,180.0 241.7,179.8 243.7,179.8 245.2,179.8 245.7,179.7 247.7,179.8 249.7,179.8 251.7,179.7 253.7,180.0 255.7,179.6 257.3,179.7 257.7,179.7 259.7,180.0 261.7,179.8 263.7,179.8 265.7,179.7 266.8,179.7" fill="none" stroke="#f21818" stroke-width="1.2" stroke-linejoin="round" />
<g stroke="#f21818" stroke-width="0.7"><line x1="29.7" y1="208.4" x2="29.7" y2="212.8"/><line x1="31.6" y1="209.5" x2="27.8" y2="211.7"/><line x1="31.6" y1="211.7" x2="27.8" y2="209.5"/><line x1="52.7" y1="193.0" x2="52.7" y2="197.4"/><line x1="54.6" y1="194.1" x2="50.8" y2="196.3"/><line x1="54.6" y1="196.3" x2="50.8" y2="194.1"/><line x1="69.3" y1="183.6" x2="69.3" y2="188.0"/><line x1="71.2" y1="184.7" x2="67.4" y2="186.9"/><line x1="71.2" y1="186.9" x2="67.4" y2="184.7"/><line x1="84.2" y1="180.6" x2="84.2" y2="185.0"/><line x1="86.1" y1="181.7" x2="82.3" y2="183.9"/><line x1="86.1" y1="183.9" x2="82.3" y2="181.7"/><line x1="98.4" y1="177.8" x2="98.4" y2="182.2"/><line x1="100.3" y1="178.9" x2="96.5" y2="181.1"/><line x1="100.3" y1="181.1" x2="96.5" y2="178.9"/><line x1="112.1" y1="177.6" x2="112.1" y2="182.0"/><line x1="114.0" y1="178.7" x2="110.2" y2="180.9"/><line x1="114.0" y1="180.9" x2="110.2" y2="178.7"/><line x1="124.2" y1="177.7" x2="124.2" y2="182.1"/><line x1="126.1" y1="178.8" x2="122.3" y2="181.0"/><line x1="126.1" y1="181.0" x2="122.3" y2="178.8"/><line x1="136.3" y1="177.9" x2="136.3" y2="182.3"/><line x1="138.2" y1="179.0" x2="134.4" y2="181.2"/><line x1="138.2" y1="181.2" x2="134.4" y2="179.0"/><line x1="148.4" y1="177.6" x2="148.4" y2="182.0"/><line x1="150.3" y1="178.7" x2="146.5" y2="180.9"/><line x1="150.3" y1="180.9" x2="146.5" y2="178.7"/><line x1="160.5" y1="177.6" x2="160.5" y2="182.0"/><line x1="162.4" y1="178.7" x2="158.6" y2="180.9"/><line x1="162.4" y1="180.9" x2="158.6" y2="178.7"/><line x1="172.6" y1="177.7" x2="172.6" y2="182.1"/><line x1="174.5" y1="178.8" x2="170.7" y2="181.0"/><line x1="174.5" y1="181.0" x2="170.7" y2="178.8"/><line x1="184.7" y1="177.4" x2="184.7" y2="181.8"/><line x1="186.6" y1="178.5" x2="182.8" y2="180.7"/><line x1="186.6" y1="180.7" x2="182.8" y2="178.5"/><line x1="196.8" y1="177.6" x2="196.8" y2="182.0"/><line x1="198.7" y1="178.7" x2="194.9" y2="180.9"/><line x1="198.7" y1="180.9" x2="194.9" y2="178.7"/><line x1="208.9" y1="177.4" x2="208.9" y2="181.8"/><line x1="210.8" y1="178.5" x2="207.0" y2="180.7"/><line x1="210.8" y1="180.7" x2="207.0" y2="178.5"/><line x1="221.0" y1="177.6" x2="221.0" y2="182.0"/><line x1="222.9" y1="178.7" x2="219.1" y2="180.9"/><line x1="222.9" y1="180.9" x2="219.1" y2="178.7"/><line x1="233.1" y1="177.6" x2="233.1" y2="182.0"/><line x1="235.0" y1="178.7" x2="231.2" y2="180.9"/><line x1="235.0" y1="180.9" x2="231.2" y2="178.7"/><line x1="245.2" y1="177.6" x2="245.2" y2="182.0"/><line x1="247.1" y1="178.7" x2="243.3" y2="180.9"/><line x1="247.1" y1="180.9" x2="243.3" y2="178.7"/><line x1="257.3" y1="177.5" x2="257.3" y2="181.9"/><line x1="259.2" y1="178.6" x2="255.4" y2="180.8"/><line x1="259.2" y1="180.8" x2="255.4" y2="178.6"/><line x1="266.8" y1="177.5" x2="266.8" y2="181.9"/><line x1="268.7" y1="178.6" x2="264.9" y2="180.8"/><line x1="268.7" y1="180.8" x2="264.9" y2="178.6"/></g>
<polyline points="29.7,198.2 31.7,199.4 33.7,200.3 35.7,201.3 37.7,202.1 39.7,203.2 41.7,203.8 43.7,204.5 45.7,205.4 47.7,206.2 49.7,206.9 51.7,207.4 52.7,207.9 53.7,208.3 55.7,208.5 57.7,209.0 59.7,209.3 61.7,210.1 63.7,210.7 65.7,211.1 67.7,211.6 69.3,212.2 69.7,211.9 71.7,212.7 73.7,212.6 75.7,213.2 77.7,214.1 79.7,214.2 81.7,215.1 83.7,215.9 84.2,215.6 85.7,215.3 87.7,215.6 89.7,216.9 91.7,216.2 93.7,216.9 95.7,216.9 97.7,217.3 98.4,217.9 99.7,217.1 101.7,216.8 103.7,218.5 105.7,218.0 107.7,218.4 109.7,218.1 111.7,218.6 112.1,218.9 113.7,219.0 115.7,218.1 117.7,218.2 119.7,218.6 121.7,218.6 123.7,218.8 124.2,218.1 125.7,217.2 127.7,218.7 129.7,218.9 131.7,218.7 133.7,219.2 135.7,218.6 136.3,217.9 137.7,218.6 139.7,218.0 141.7,218.7 143.7,218.1 145.7,218.2 147.7,218.1 148.4,218.0 149.7,217.2 151.7,218.0 153.7,216.8 155.7,218.3 157.7,218.5 159.7,219.1 160.5,218.2 161.7,217.6 163.7,217.1 165.7,219.1 167.7,217.2 169.7,218.5 171.7,216.8 172.6,218.0 173.7,218.5 175.7,218.4 177.7,218.3 179.7,218.0 181.7,218.0 183.7,219.1 184.7,218.7 185.7,218.4 187.7,218.4 189.7,217.6 191.7,218.4 193.7,218.3 195.7,217.0 196.8,217.3 197.7,217.8 199.7,216.7 201.7,218.0 203.7,217.6 205.7,216.5 207.7,217.1 208.9,217.4 209.7,215.7 211.7,216.6 213.7,216.0 215.7,215.7 217.7,216.1 219.7,215.2 221.0,214.5 221.7,214.5 223.7,215.0 225.7,215.1 227.7,214.5 229.7,214.1 231.7,213.7 233.1,214.2 233.7,213.6 235.7,212.6 237.7,212.6 239.7,213.3 241.7,212.3 243.7,212.5 245.2,212.9 245.7,212.4 247.7,213.7 249.7,212.3 251.7,214.5 253.7,213.5 255.7,213.1 257.3,213.9 257.7,212.8 259.7,214.0 261.7,213.9 263.7,213.0 265.7,212.9 266.8,213.5" fill="none" stroke="#1f45d8" stroke-width="1.3" stroke-linejoin="round" />
<g fill="none" stroke="#1f45d8" stroke-width="0.65" stroke-opacity="0.85"><rect x="27.4" y="195.9" width="4.6" height="4.6"/><rect x="50.4" y="205.6" width="4.6" height="4.6"/><rect x="67.0" y="209.9" width="4.6" height="4.6"/><rect x="81.9" y="213.3" width="4.6" height="4.6"/><rect x="96.1" y="215.6" width="4.6" height="4.6"/><rect x="109.8" y="216.6" width="4.6" height="4.6"/><rect x="121.9" y="215.8" width="4.6" height="4.6"/><rect x="134.0" y="215.6" width="4.6" height="4.6"/><rect x="146.1" y="215.7" width="4.6" height="4.6"/><rect x="158.2" y="215.9" width="4.6" height="4.6"/><rect x="170.3" y="215.7" width="4.6" height="4.6"/><rect x="182.4" y="216.4" width="4.6" height="4.6"/><rect x="194.5" y="215.0" width="4.6" height="4.6"/><rect x="206.6" y="215.1" width="4.6" height="4.6"/><rect x="218.7" y="212.2" width="4.6" height="4.6"/><rect x="230.8" y="211.9" width="4.6" height="4.6"/><rect x="242.9" y="210.6" width="4.6" height="4.6"/><rect x="255.0" y="211.6" width="4.6" height="4.6"/><rect x="264.5" y="211.2" width="4.6" height="4.6"/></g>
<polyline points="29.7,210.5 31.7,212.4 33.7,214.1 35.7,215.9 37.7,217.4 39.7,219.0 41.7,220.6 43.7,221.7 45.7,223.3 47.7,224.5 49.7,225.7 51.7,227.4 52.7,227.7 53.7,228.5 55.7,229.3 57.7,230.5 59.7,231.2 61.7,232.1 63.7,233.1 65.7,234.0 67.7,235.3 69.3,235.4 69.7,235.8 71.7,236.5 73.7,237.6 75.7,238.0 77.7,239.9 79.7,239.9 81.7,240.8 83.7,240.9 84.2,241.5 85.7,241.3 87.7,241.0 89.7,241.0 91.7,241.1 93.7,241.3 95.7,241.1 97.7,241.7 98.4,241.9 99.7,241.3 101.7,240.1 103.7,242.5 105.7,243.2 107.7,241.9 109.7,242.3 111.7,241.6 112.1,243.6 113.7,242.7 115.7,245.3 117.7,242.8 119.7,245.2 121.7,246.2 123.7,245.9 124.2,245.7 125.7,246.6 127.7,246.1 129.7,246.3 131.7,246.5 133.7,246.1 135.7,246.3 136.3,247.1 137.7,246.2 139.7,246.6 141.7,246.0 143.7,247.1 145.7,245.4 147.7,246.8 148.4,244.0 149.7,245.4 151.7,244.7 153.7,246.3 155.7,245.6 157.7,244.4 159.7,244.7 160.5,246.0 161.7,244.9 163.7,245.1 165.7,243.5 167.7,243.2 169.7,244.5 171.7,245.4 172.6,243.3 173.7,243.9 175.7,242.4 177.7,243.6 179.7,242.1 181.7,241.8 183.7,240.5 184.7,241.5 185.7,241.8 187.7,242.5 189.7,240.6 191.7,242.0 193.7,240.9 195.7,240.8 196.8,240.2 197.7,239.6 199.7,239.7 201.7,241.4 203.7,239.1 205.7,239.2 207.7,239.9 208.9,237.4 209.7,239.1 211.7,238.1 213.7,238.2 215.7,238.3 217.7,237.3 219.7,236.9 221.0,237.3 221.7,237.2 223.7,235.9 225.7,235.9 227.7,234.8 229.7,236.3 231.7,234.3 233.1,235.0 233.7,236.0 235.7,235.0 237.7,233.9 239.7,233.3 241.7,233.0 243.7,233.6 245.2,232.9 245.7,232.5 247.7,233.9 249.7,231.0 251.7,230.7 253.7,230.3 255.7,230.3 257.3,229.9 257.7,229.4 259.7,229.6 261.7,229.0 263.7,227.9 265.7,225.9 266.8,227.9" fill="none" stroke="#10c81c" stroke-width="1.3" stroke-linejoin="round" />
<g fill="none" stroke="#10c81c" stroke-width="0.65" stroke-opacity="0.85"><rect x="27.4" y="208.2" width="4.6" height="4.6"/><rect x="50.4" y="225.4" width="4.6" height="4.6"/><rect x="67.0" y="233.1" width="4.6" height="4.6"/><rect x="81.9" y="239.2" width="4.6" height="4.6"/><rect x="96.1" y="239.6" width="4.6" height="4.6"/><rect x="109.8" y="241.3" width="4.6" height="4.6"/><rect x="121.9" y="243.4" width="4.6" height="4.6"/><rect x="134.0" y="244.8" width="4.6" height="4.6"/><rect x="146.1" y="241.7" width="4.6" height="4.6"/><rect x="158.2" y="243.7" width="4.6" height="4.6"/><rect x="170.3" y="241.0" width="4.6" height="4.6"/><rect x="182.4" y="239.2" width="4.6" height="4.6"/><rect x="194.5" y="237.9" width="4.6" height="4.6"/><rect x="206.6" y="235.1" width="4.6" height="4.6"/><rect x="218.7" y="235.0" width="4.6" height="4.6"/><rect x="230.8" y="232.7" width="4.6" height="4.6"/><rect x="242.9" y="230.6" width="4.6" height="4.6"/><rect x="255.0" y="227.6" width="4.6" height="4.6"/><rect x="264.5" y="225.6" width="4.6" height="4.6"/></g>
<polyline points="29.7,227.1 31.7,228.8 33.7,230.6 35.7,232.1 37.7,233.8 39.7,235.6 41.7,237.2 43.7,239.0 45.7,240.5 47.7,242.2 49.7,243.7 51.7,245.4 52.7,246.3 53.7,247.0 55.7,248.4 57.7,250.5 59.7,252.3 61.7,254.3 63.7,255.6 65.7,256.9 67.7,257.9 69.3,260.3 69.7,259.1 71.7,260.0 73.7,261.5 75.7,261.5 77.7,264.0 79.7,264.2 81.7,265.1 83.7,264.7 84.2,265.2 85.7,266.5 87.7,267.1 89.7,269.0 91.7,268.0 93.7,265.9 95.7,267.9 97.7,267.9 98.4,269.5 99.7,268.7 101.7,269.8 103.7,269.7 105.7,271.2 107.7,272.7 109.7,271.3 111.7,270.5 112.1,271.6 113.7,274.4 115.7,273.5 117.7,273.5 119.7,273.3 121.7,275.5 123.7,275.1 124.2,274.7 125.7,274.4 127.7,274.8 129.7,274.6 131.7,275.4 133.7,275.9 135.7,272.7 136.3,273.1 137.7,274.3 139.7,274.3 141.7,272.6 143.7,273.3 145.7,273.2 147.7,272.9 148.4,272.8 149.7,272.9 151.7,273.5 153.7,273.1 155.7,272.6 157.7,272.1 159.7,270.9 160.5,271.0 161.7,272.0 163.7,271.2 165.7,271.6 167.7,270.8 169.7,270.4 171.7,270.5 172.6,268.5 173.7,269.6 175.7,269.0 177.7,270.1 179.7,268.4 181.7,269.0 183.7,268.0 184.7,268.7 185.7,268.8 187.7,267.6 189.7,267.6 191.7,267.3 193.7,267.5 195.7,266.1 196.8,266.2 197.7,265.6 199.7,264.6 201.7,265.2 203.7,264.9 205.7,263.2 207.7,264.9 208.9,262.3 209.7,263.5 211.7,262.7 213.7,260.2 215.7,261.3 217.7,259.4 219.7,260.3 221.0,260.7 221.7,261.7 223.7,260.2 225.7,257.4 227.7,257.9 229.7,259.1 231.7,257.1 233.1,258.2 233.7,255.6 235.7,255.0 237.7,253.6 239.7,253.8 241.7,254.7 243.7,252.0 245.2,253.2 245.7,252.6 247.7,252.3 249.7,250.7 251.7,250.3 253.7,251.6 255.7,247.6 257.3,248.9 257.7,249.5 259.7,247.7 261.7,248.1 263.7,242.8 265.7,244.5 266.8,243.2" fill="none" stroke="#f21818" stroke-width="1.3" stroke-linejoin="round" />
<g fill="none" stroke="#f21818" stroke-width="0.65" stroke-opacity="0.85"><rect x="27.4" y="224.8" width="4.6" height="4.6"/><rect x="50.4" y="244.0" width="4.6" height="4.6"/><rect x="67.0" y="258.0" width="4.6" height="4.6"/><rect x="81.9" y="262.9" width="4.6" height="4.6"/><rect x="96.1" y="267.2" width="4.6" height="4.6"/><rect x="109.8" y="269.3" width="4.6" height="4.6"/><rect x="121.9" y="272.4" width="4.6" height="4.6"/><rect x="134.0" y="270.8" width="4.6" height="4.6"/><rect x="146.1" y="270.5" width="4.6" height="4.6"/><rect x="158.2" y="268.7" width="4.6" height="4.6"/><rect x="170.3" y="266.2" width="4.6" height="4.6"/><rect x="182.4" y="266.4" width="4.6" height="4.6"/><rect x="194.5" y="263.9" width="4.6" height="4.6"/><rect x="206.6" y="260.0" width="4.6" height="4.6"/><rect x="218.7" y="258.4" width="4.6" height="4.6"/><rect x="230.8" y="255.9" width="4.6" height="4.6"/><rect x="242.9" y="250.9" width="4.6" height="4.6"/><rect x="255.0" y="246.6" width="4.6" height="4.6"/><rect x="264.5" y="240.9" width="4.6" height="4.6"/></g>
</g>
<text x="142.6" y="229.4" font-size="7.9" text-anchor="start" fill="#2a4fc0" >1.4 µJcm<tspan dy="-3.00" font-size="4.90">-2</tspan></text>
<text x="159.2" y="259.2" font-size="7.9" text-anchor="start" fill="#1ec81e" >1.9 µJcm<tspan dy="-3.00" font-size="4.90">-2</tspan></text>
<text x="193.8" y="281.3" font-size="7.9" text-anchor="start" fill="#f03030" >2.9 µJcm<tspan dy="-3.00" font-size="4.90">-2</tspan></text>
</svg>
</body></html>
